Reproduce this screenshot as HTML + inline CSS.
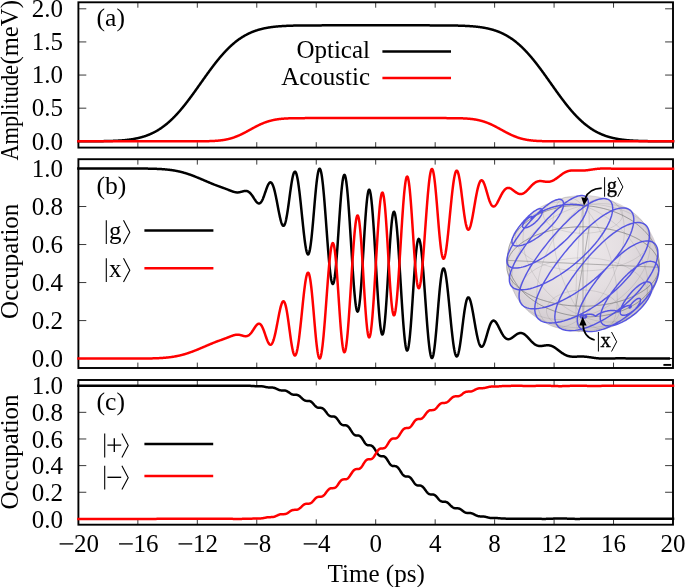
<!DOCTYPE html>
<html><head><meta charset="utf-8"><title>fig</title>
<style>html,body{margin:0;padding:0;background:#fff;}svg{display:block;will-change:transform;}text{fill:#000;}</style></head>
<body>
<svg width="685" height="587" viewBox="0 0 685 587">
<path d="M137.86,147.6 v-5.4 M137.86,2.3 v5.4" stroke="#3a3a3a" stroke-width="1"/>
<path d="M197.32,147.6 v-5.4 M197.32,2.3 v5.4" stroke="#3a3a3a" stroke-width="1"/>
<path d="M256.78,147.6 v-5.4 M256.78,2.3 v5.4" stroke="#3a3a3a" stroke-width="1"/>
<path d="M316.24,147.6 v-5.4 M316.24,2.3 v5.4" stroke="#3a3a3a" stroke-width="1"/>
<path d="M375.70,147.6 v-5.4 M375.70,2.3 v5.4" stroke="#3a3a3a" stroke-width="1"/>
<path d="M435.16,147.6 v-5.4 M435.16,2.3 v5.4" stroke="#3a3a3a" stroke-width="1"/>
<path d="M494.62,147.6 v-5.4 M494.62,2.3 v5.4" stroke="#3a3a3a" stroke-width="1"/>
<path d="M554.08,147.6 v-5.4 M554.08,2.3 v5.4" stroke="#3a3a3a" stroke-width="1"/>
<path d="M613.54,147.6 v-5.4 M613.54,2.3 v5.4" stroke="#3a3a3a" stroke-width="1"/>
<path d="M78.4,141.30 h7.9 M673.0,141.30 h-7.9" stroke="#3a3a3a" stroke-width="1"/>
<path d="M78.4,108.18 h7.9 M673.0,108.18 h-7.9" stroke="#3a3a3a" stroke-width="1"/>
<path d="M78.4,75.05 h7.9 M673.0,75.05 h-7.9" stroke="#3a3a3a" stroke-width="1"/>
<path d="M78.4,41.93 h7.9 M673.0,41.93 h-7.9" stroke="#3a3a3a" stroke-width="1"/>
<path d="M78.4,8.80 h7.9 M673.0,8.80 h-7.9" stroke="#3a3a3a" stroke-width="1"/>
<rect x="78.4" y="2.3" width="594.6" height="145.30" fill="none" stroke="#000" stroke-width="1.9"/>
<clipPath id="ca"><rect x="76.4" y="2.3" width="598.6" height="145.29999999999998"/></clipPath>
<g clip-path="url(#ca)" fill="none" stroke-width="2.5" stroke-linejoin="round" stroke-linecap="square">
<path d="M78.40,141.29 L78.73,141.29 L79.06,141.29 L79.39,141.29 L79.72,141.29 L80.05,141.29 L80.38,141.29 L80.71,141.29 L81.04,141.29 L81.37,141.28 L81.70,141.28 L82.03,141.28 L82.36,141.28 L82.69,141.28 L83.02,141.28 L83.35,141.28 L83.69,141.28 L84.02,141.28 L84.35,141.28 L84.68,141.28 L85.01,141.28 L85.34,141.28 L85.67,141.27 L86.00,141.27 L86.33,141.27 L86.66,141.27 L86.99,141.27 L87.32,141.27 L87.65,141.27 L87.98,141.27 L88.31,141.27 L88.64,141.26 L88.97,141.26 L89.30,141.26 L89.63,141.26 L89.96,141.26 L90.29,141.26 L90.62,141.26 L90.95,141.25 L91.28,141.25 L91.61,141.25 L91.94,141.25 L92.27,141.25 L92.60,141.24 L92.93,141.24 L93.27,141.24 L93.60,141.24 L93.93,141.24 L94.26,141.23 L94.59,141.23 L94.92,141.23 L95.25,141.23 L95.58,141.22 L95.91,141.22 L96.24,141.22 L96.57,141.21 L96.90,141.21 L97.23,141.21 L97.56,141.21 L97.89,141.20 L98.22,141.20 L98.55,141.20 L98.88,141.19 L99.21,141.19 L99.54,141.18 L99.87,141.18 L100.20,141.18 L100.53,141.17 L100.86,141.17 L101.19,141.16 L101.52,141.16 L101.85,141.15 L102.18,141.15 L102.51,141.14 L102.84,141.14 L103.18,141.13 L103.51,141.13 L103.84,141.12 L104.17,141.11 L104.50,141.11 L104.83,141.10 L105.16,141.10 L105.49,141.09 L105.82,141.08 L106.15,141.08 L106.48,141.07 L106.81,141.06 L107.14,141.05 L107.47,141.04 L107.80,141.04 L108.13,141.03 L108.46,141.02 L108.79,141.01 L109.12,141.00 L109.45,140.99 L109.78,140.98 L110.11,140.97 L110.44,140.96 L110.77,140.95 L111.10,140.94 L111.43,140.93 L111.76,140.92 L112.09,140.91 L112.42,140.89 L112.75,140.88 L113.08,140.87 L113.42,140.85 L113.75,140.84 L114.08,140.83 L114.41,140.81 L114.74,140.80 L115.07,140.78 L115.40,140.77 L115.73,140.75 L116.06,140.74 L116.39,140.72 L116.72,140.70 L117.05,140.68 L117.38,140.67 L117.71,140.65 L118.04,140.63 L118.37,140.61 L118.70,140.59 L119.03,140.57 L119.36,140.55 L119.69,140.52 L120.02,140.50 L120.35,140.48 L120.68,140.46 L121.01,140.43 L121.34,140.41 L121.67,140.38 L122.00,140.36 L122.33,140.33 L122.66,140.30 L123.00,140.28 L123.33,140.25 L123.66,140.22 L123.99,140.19 L124.32,140.16 L124.65,140.13 L124.98,140.10 L125.31,140.06 L125.64,140.03 L125.97,140.00 L126.30,139.96 L126.63,139.92 L126.96,139.89 L127.29,139.85 L127.62,139.81 L127.95,139.77 L128.28,139.73 L128.61,139.69 L128.94,139.65 L129.27,139.61 L129.60,139.56 L129.93,139.52 L130.26,139.47 L130.59,139.43 L130.92,139.38 L131.25,139.33 L131.58,139.28 L131.91,139.23 L132.24,139.18 L132.57,139.12 L132.91,139.07 L133.24,139.01 L133.57,138.96 L133.90,138.90 L134.23,138.84 L134.56,138.78 L134.89,138.72 L135.22,138.66 L135.55,138.59 L135.88,138.53 L136.21,138.46 L136.54,138.39 L136.87,138.32 L137.20,138.25 L137.53,138.18 L137.86,138.11 L138.19,138.03 L138.52,137.96 L138.85,137.88 L139.18,137.80 L139.51,137.72 L139.84,137.63 L140.17,137.55 L140.50,137.47 L140.83,137.38 L141.16,137.29 L141.49,137.20 L141.82,137.11 L142.15,137.01 L142.48,136.92 L142.81,136.82 L143.15,136.72 L143.48,136.62 L143.81,136.52 L144.14,136.41 L144.47,136.31 L144.80,136.20 L145.13,136.09 L145.46,135.98 L145.79,135.86 L146.12,135.75 L146.45,135.63 L146.78,135.51 L147.11,135.39 L147.44,135.26 L147.77,135.14 L148.10,135.01 L148.43,134.88 L148.76,134.75 L149.09,134.62 L149.42,134.48 L149.75,134.34 L150.08,134.20 L150.41,134.06 L150.74,133.91 L151.07,133.76 L151.40,133.62 L151.73,133.46 L152.06,133.31 L152.39,133.15 L152.73,132.99 L153.06,132.83 L153.39,132.67 L153.72,132.50 L154.05,132.33 L154.38,132.16 L154.71,131.99 L155.04,131.81 L155.37,131.64 L155.70,131.45 L156.03,131.27 L156.36,131.09 L156.69,130.90 L157.02,130.71 L157.35,130.51 L157.68,130.32 L158.01,130.12 L158.34,129.92 L158.67,129.71 L159.00,129.50 L159.33,129.30 L159.66,129.08 L159.99,128.87 L160.32,128.65 L160.65,128.43 L160.98,128.21 L161.31,127.98 L161.64,127.75 L161.97,127.52 L162.30,127.29 L162.64,127.05 L162.97,126.81 L163.30,126.57 L163.63,126.32 L163.96,126.08 L164.29,125.82 L164.62,125.57 L164.95,125.31 L165.28,125.06 L165.61,124.79 L165.94,124.53 L166.27,124.26 L166.60,123.99 L166.93,123.72 L167.26,123.44 L167.59,123.16 L167.92,122.88 L168.25,122.59 L168.58,122.30 L168.91,122.01 L169.24,121.72 L169.57,121.42 L169.90,121.12 L170.23,120.82 L170.56,120.52 L170.89,120.21 L171.22,119.90 L171.55,119.58 L171.88,119.27 L172.21,118.95 L172.55,118.63 L172.88,118.30 L173.21,117.97 L173.54,117.64 L173.87,117.31 L174.20,116.97 L174.53,116.64 L174.86,116.29 L175.19,115.95 L175.52,115.60 L175.85,115.25 L176.18,114.90 L176.51,114.55 L176.84,114.19 L177.17,113.83 L177.50,113.47 L177.83,113.10 L178.16,112.73 L178.49,112.36 L178.82,111.99 L179.15,111.61 L179.48,111.24 L179.81,110.85 L180.14,110.47 L180.47,110.09 L180.80,109.70 L181.13,109.31 L181.46,108.92 L181.79,108.52 L182.12,108.12 L182.45,107.72 L182.79,107.32 L183.12,106.92 L183.45,106.51 L183.78,106.10 L184.11,105.69 L184.44,105.28 L184.77,104.87 L185.10,104.45 L185.43,104.03 L185.76,103.61 L186.09,103.19 L186.42,102.76 L186.75,102.34 L187.08,101.91 L187.41,101.48 L187.74,101.05 L188.07,100.61 L188.40,100.18 L188.73,99.74 L189.06,99.30 L189.39,98.87 L189.72,98.42 L190.05,97.98 L190.38,97.54 L190.71,97.09 L191.04,96.64 L191.37,96.20 L191.70,95.75 L192.03,95.29 L192.37,94.84 L192.70,94.39 L193.03,93.94 L193.36,93.48 L193.69,93.02 L194.02,92.57 L194.35,92.11 L194.68,91.65 L195.01,91.19 L195.34,90.73 L195.67,90.27 L196.00,89.80 L196.33,89.34 L196.66,88.88 L196.99,88.41 L197.32,87.95 L197.65,87.48 L197.98,87.02 L198.31,86.55 L198.64,86.09 L198.97,85.62 L199.30,85.15 L199.63,84.69 L199.96,84.22 L200.29,83.75 L200.62,83.28 L200.95,82.82 L201.28,82.35 L201.61,81.88 L201.94,81.42 L202.28,80.95 L202.61,80.48 L202.94,80.02 L203.27,79.55 L203.60,79.09 L203.93,78.62 L204.26,78.16 L204.59,77.69 L204.92,77.23 L205.25,76.77 L205.58,76.30 L205.91,75.84 L206.24,75.38 L206.57,74.92 L206.90,74.46 L207.23,74.00 L207.56,73.55 L207.89,73.09 L208.22,72.64 L208.55,72.18 L208.88,71.73 L209.21,71.28 L209.54,70.83 L209.87,70.38 L210.20,69.93 L210.53,69.48 L210.86,69.04 L211.19,68.59 L211.52,68.15 L211.85,67.71 L212.19,67.27 L212.52,66.83 L212.85,66.40 L213.18,65.96 L213.51,65.53 L213.84,65.10 L214.17,64.67 L214.50,64.24 L214.83,63.81 L215.16,63.39 L215.49,62.97 L215.82,62.55 L216.15,62.13 L216.48,61.71 L216.81,61.30 L217.14,60.89 L217.47,60.48 L217.80,60.07 L218.13,59.66 L218.46,59.26 L218.79,58.86 L219.12,58.46 L219.45,58.06 L219.78,57.67 L220.11,57.28 L220.44,56.89 L220.77,56.50 L221.10,56.11 L221.43,55.73 L221.76,55.35 L222.10,54.97 L222.43,54.60 L222.76,54.23 L223.09,53.86 L223.42,53.49 L223.75,53.12 L224.08,52.76 L224.41,52.40 L224.74,52.04 L225.07,51.69 L225.40,51.34 L225.73,50.99 L226.06,50.64 L226.39,50.30 L226.72,49.96 L227.05,49.62 L227.38,49.28 L227.71,48.95 L228.04,48.62 L228.37,48.30 L228.70,47.97 L229.03,47.65 L229.36,47.33 L229.69,47.01 L230.02,46.70 L230.35,46.39 L230.68,46.08 L231.01,45.78 L231.34,45.48 L231.67,45.18 L232.01,44.88 L232.34,44.59 L232.67,44.30 L233.00,44.01 L233.33,43.73 L233.66,43.45 L233.99,43.17 L234.32,42.89 L234.65,42.62 L234.98,42.35 L235.31,42.08 L235.64,41.82 L235.97,41.56 L236.30,41.30 L236.63,41.04 L236.96,40.79 L237.29,40.54 L237.62,40.29 L237.95,40.04 L238.28,39.80 L238.61,39.56 L238.94,39.33 L239.27,39.09 L239.60,38.86 L239.93,38.64 L240.26,38.41 L240.59,38.19 L240.92,37.97 L241.25,37.75 L241.58,37.54 L241.92,37.32 L242.25,37.12 L242.58,36.91 L242.91,36.71 L243.24,36.51 L243.57,36.31 L243.90,36.11 L244.23,35.92 L244.56,35.73 L244.89,35.54 L245.22,35.35 L245.55,35.17 L245.88,34.99 L246.21,34.81 L246.54,34.64 L246.87,34.46 L247.20,34.29 L247.53,34.13 L247.86,33.96 L248.19,33.80 L248.52,33.64 L248.85,33.48 L249.18,33.32 L249.51,33.17 L249.84,33.02 L250.17,32.87 L250.50,32.72 L250.83,32.58 L251.16,32.43 L251.49,32.29 L251.83,32.16 L252.16,32.02 L252.49,31.89 L252.82,31.75 L253.15,31.63 L253.48,31.50 L253.81,31.37 L254.14,31.25 L254.47,31.13 L254.80,31.01 L255.13,30.89 L255.46,30.78 L255.79,30.66 L256.12,30.55 L256.45,30.44 L256.78,30.33 L257.11,30.23 L257.44,30.12 L257.77,30.02 L258.10,29.92 L258.43,29.82 L258.76,29.73 L259.09,29.63 L259.42,29.54 L259.75,29.45 L260.08,29.36 L260.41,29.27 L260.74,29.18 L261.07,29.09 L261.40,29.01 L261.74,28.93 L262.07,28.85 L262.40,28.77 L262.73,28.69 L263.06,28.62 L263.39,28.54 L263.72,28.47 L264.05,28.40 L264.38,28.33 L264.71,28.26 L265.04,28.19 L265.37,28.12 L265.70,28.06 L266.03,27.99 L266.36,27.93 L266.69,27.87 L267.02,27.81 L267.35,27.75 L267.68,27.69 L268.01,27.64 L268.34,27.58 L268.67,27.53 L269.00,27.48 L269.33,27.42 L269.66,27.37 L269.99,27.32 L270.32,27.27 L270.65,27.23 L270.98,27.18 L271.31,27.13 L271.64,27.09 L271.98,27.05 L272.31,27.00 L272.64,26.96 L272.97,26.92 L273.30,26.88 L273.63,26.84 L273.96,26.80 L274.29,26.77 L274.62,26.73 L274.95,26.69 L275.28,26.66 L275.61,26.63 L275.94,26.59 L276.27,26.56 L276.60,26.53 L276.93,26.50 L277.26,26.47 L277.59,26.44 L277.92,26.41 L278.25,26.38 L278.58,26.35 L278.91,26.33 L279.24,26.30 L279.57,26.27 L279.90,26.25 L280.23,26.22 L280.56,26.20 L280.89,26.18 L281.22,26.16 L281.56,26.13 L281.89,26.11 L282.22,26.09 L282.55,26.07 L282.88,26.05 L283.21,26.03 L283.54,26.01 L283.87,25.99 L284.20,25.98 L284.53,25.96 L284.86,25.94 L285.19,25.92 L285.52,25.91 L285.85,25.89 L286.18,25.88 L286.51,25.86 L286.84,25.85 L287.17,25.83 L287.50,25.82 L287.83,25.81 L288.16,25.79 L288.49,25.78 L288.82,25.77 L289.15,25.75 L289.48,25.74 L289.81,25.73 L290.14,25.72 L290.47,25.71 L290.80,25.70 L291.13,25.69 L291.47,25.68 L291.80,25.67 L292.13,25.66 L292.46,25.65 L292.79,25.64 L293.12,25.63 L293.45,25.62 L293.78,25.62 L294.11,25.61 L294.44,25.60 L294.77,25.59 L295.10,25.59 L295.43,25.58 L295.76,25.57 L296.09,25.57 L296.42,25.56 L296.75,25.55 L297.08,25.55 L297.41,25.54 L297.74,25.53 L298.07,25.53 L298.40,25.52 L298.73,25.52 L299.06,25.51 L299.39,25.51 L299.72,25.50 L300.05,25.50 L300.38,25.49 L300.71,25.49 L301.04,25.49 L301.38,25.48 L301.71,25.48 L302.04,25.47 L302.37,25.47 L302.70,25.47 L303.03,25.46 L303.36,25.46 L303.69,25.46 L304.02,25.45 L304.35,25.45 L304.68,25.45 L305.01,25.44 L305.34,25.44 L305.67,25.44 L306.00,25.44 L306.33,25.43 L306.66,25.43 L306.99,25.43 L307.32,25.43 L307.65,25.42 L307.98,25.42 L308.31,25.42 L308.64,25.42 L308.97,25.42 L309.30,25.41 L309.63,25.41 L309.96,25.41 L310.29,25.41 L310.62,25.41 L310.95,25.41 L311.29,25.40 L311.62,25.40 L311.95,25.40 L312.28,25.40 L312.61,25.40 L312.94,25.40 L313.27,25.40 L313.60,25.39 L313.93,25.39 L314.26,25.39 L314.59,25.39 L314.92,25.39 L315.25,25.39 L315.58,25.39 L315.91,25.39 L316.24,25.39 L316.57,25.39 L316.90,25.38 L317.23,25.38 L317.56,25.38 L317.89,25.38 L318.22,25.38 L318.55,25.38 L318.88,25.38 L319.21,25.38 L319.54,25.38 L319.87,25.38 L320.20,25.38 L320.53,25.38 L320.86,25.38 L321.20,25.38 L321.53,25.38 L321.86,25.37 L322.19,25.37 L322.52,25.37 L322.85,25.37 L323.18,25.37 L323.51,25.37 L323.84,25.37 L324.17,25.37 L324.50,25.37 L324.83,25.37 L325.16,25.37 L325.49,25.37 L325.82,25.37 L326.15,25.37 L326.48,25.37 L326.81,25.37 L327.14,25.37 L327.47,25.37 L327.80,25.37 L328.13,25.37 L328.46,25.37 L328.79,25.37 L329.12,25.37 L329.45,25.37 L329.78,25.37 L330.11,25.37 L330.44,25.37 L330.77,25.37 L331.11,25.37 L331.44,25.37 L331.77,25.37 L332.10,25.37 L332.43,25.37 L332.76,25.37 L333.09,25.37 L333.42,25.37 L333.75,25.37 L334.08,25.37 L334.41,25.36 L334.74,25.36 L335.07,25.36 L335.40,25.36 L335.73,25.36 L336.06,25.36 L336.39,25.36 L336.72,25.36 L337.05,25.36 L337.38,25.36 L337.71,25.36 L338.04,25.36 L338.37,25.36 L338.70,25.36 L339.03,25.36 L339.36,25.36 L339.69,25.36 L340.02,25.36 L340.35,25.36 L340.68,25.36 L341.01,25.36 L341.35,25.36 L341.68,25.36 L342.01,25.36 L342.34,25.36 L342.67,25.36 L343.00,25.36 L343.33,25.36 L343.66,25.36 L343.99,25.36 L344.32,25.36 L344.65,25.36 L344.98,25.36 L345.31,25.36 L345.64,25.36 L345.97,25.36 L346.30,25.36 L346.63,25.36 L346.96,25.36 L347.29,25.36 L347.62,25.36 L347.95,25.36 L348.28,25.36 L348.61,25.36 L348.94,25.36 L349.27,25.36 L349.60,25.36 L349.93,25.36 L350.26,25.36 L350.59,25.36 L350.93,25.36 L351.26,25.36 L351.59,25.36 L351.92,25.36 L352.25,25.36 L352.58,25.36 L352.91,25.36 L353.24,25.36 L353.57,25.36 L353.90,25.36 L354.23,25.36 L354.56,25.36 L354.89,25.36 L355.22,25.36 L355.55,25.36 L355.88,25.36 L356.21,25.36 L356.54,25.36 L356.87,25.36 L357.20,25.36 L357.53,25.36 L357.86,25.36 L358.19,25.36 L358.52,25.36 L358.85,25.36 L359.18,25.36 L359.51,25.36 L359.84,25.36 L360.17,25.36 L360.50,25.36 L360.84,25.36 L361.17,25.36 L361.50,25.36 L361.83,25.36 L362.16,25.36 L362.49,25.36 L362.82,25.36 L363.15,25.36 L363.48,25.36 L363.81,25.36 L364.14,25.36 L364.47,25.36 L364.80,25.36 L365.13,25.36 L365.46,25.36 L365.79,25.36 L366.12,25.36 L366.45,25.36 L366.78,25.36 L367.11,25.36 L367.44,25.36 L367.77,25.36 L368.10,25.36 L368.43,25.36 L368.76,25.36 L369.09,25.36 L369.42,25.36 L369.75,25.36 L370.08,25.36 L370.41,25.36 L370.75,25.36 L371.08,25.36 L371.41,25.36 L371.74,25.36 L372.07,25.36 L372.40,25.36 L372.73,25.36 L373.06,25.36 L373.39,25.36 L373.72,25.36 L374.05,25.36 L374.38,25.36 L374.71,25.36 L375.04,25.36 L375.37,25.36 L375.70,25.36 L376.03,25.36 L376.36,25.36 L376.69,25.36 L377.02,25.36 L377.35,25.36 L377.68,25.36 L378.01,25.36 L378.34,25.36 L378.67,25.36 L379.00,25.36 L379.33,25.36 L379.66,25.36 L379.99,25.36 L380.32,25.36 L380.66,25.36 L380.99,25.36 L381.32,25.36 L381.65,25.36 L381.98,25.36 L382.31,25.36 L382.64,25.36 L382.97,25.36 L383.30,25.36 L383.63,25.36 L383.96,25.36 L384.29,25.36 L384.62,25.36 L384.95,25.36 L385.28,25.36 L385.61,25.36 L385.94,25.36 L386.27,25.36 L386.60,25.36 L386.93,25.36 L387.26,25.36 L387.59,25.36 L387.92,25.36 L388.25,25.36 L388.58,25.36 L388.91,25.36 L389.24,25.36 L389.57,25.36 L389.90,25.36 L390.23,25.36 L390.57,25.36 L390.90,25.36 L391.23,25.36 L391.56,25.36 L391.89,25.36 L392.22,25.36 L392.55,25.36 L392.88,25.36 L393.21,25.36 L393.54,25.36 L393.87,25.36 L394.20,25.36 L394.53,25.36 L394.86,25.36 L395.19,25.36 L395.52,25.36 L395.85,25.36 L396.18,25.36 L396.51,25.36 L396.84,25.36 L397.17,25.36 L397.50,25.36 L397.83,25.36 L398.16,25.36 L398.49,25.36 L398.82,25.36 L399.15,25.36 L399.48,25.36 L399.81,25.36 L400.14,25.36 L400.48,25.36 L400.81,25.36 L401.14,25.36 L401.47,25.36 L401.80,25.36 L402.13,25.36 L402.46,25.36 L402.79,25.36 L403.12,25.36 L403.45,25.36 L403.78,25.36 L404.11,25.36 L404.44,25.36 L404.77,25.36 L405.10,25.36 L405.43,25.36 L405.76,25.36 L406.09,25.36 L406.42,25.36 L406.75,25.36 L407.08,25.36 L407.41,25.36 L407.74,25.36 L408.07,25.36 L408.40,25.36 L408.73,25.36 L409.06,25.36 L409.39,25.36 L409.72,25.36 L410.05,25.36 L410.38,25.36 L410.72,25.36 L411.05,25.36 L411.38,25.36 L411.71,25.36 L412.04,25.36 L412.37,25.36 L412.70,25.36 L413.03,25.36 L413.36,25.36 L413.69,25.36 L414.02,25.36 L414.35,25.36 L414.68,25.36 L415.01,25.36 L415.34,25.36 L415.67,25.36 L416.00,25.36 L416.33,25.36 L416.66,25.36 L416.99,25.36 L417.32,25.37 L417.65,25.37 L417.98,25.37 L418.31,25.37 L418.64,25.37 L418.97,25.37 L419.30,25.37 L419.63,25.37 L419.96,25.37 L420.29,25.37 L420.63,25.37 L420.96,25.37 L421.29,25.37 L421.62,25.37 L421.95,25.37 L422.28,25.37 L422.61,25.37 L422.94,25.37 L423.27,25.37 L423.60,25.37 L423.93,25.37 L424.26,25.37 L424.59,25.37 L424.92,25.37 L425.25,25.37 L425.58,25.37 L425.91,25.37 L426.24,25.37 L426.57,25.37 L426.90,25.37 L427.23,25.37 L427.56,25.37 L427.89,25.37 L428.22,25.37 L428.55,25.37 L428.88,25.37 L429.21,25.37 L429.54,25.37 L429.87,25.38 L430.21,25.38 L430.54,25.38 L430.87,25.38 L431.20,25.38 L431.53,25.38 L431.86,25.38 L432.19,25.38 L432.52,25.38 L432.85,25.38 L433.18,25.38 L433.51,25.38 L433.84,25.38 L434.17,25.38 L434.50,25.38 L434.83,25.39 L435.16,25.39 L435.49,25.39 L435.82,25.39 L436.15,25.39 L436.48,25.39 L436.81,25.39 L437.14,25.39 L437.47,25.39 L437.80,25.39 L438.13,25.40 L438.46,25.40 L438.79,25.40 L439.12,25.40 L439.45,25.40 L439.78,25.40 L440.12,25.40 L440.45,25.41 L440.78,25.41 L441.11,25.41 L441.44,25.41 L441.77,25.41 L442.10,25.41 L442.43,25.42 L442.76,25.42 L443.09,25.42 L443.42,25.42 L443.75,25.42 L444.08,25.43 L444.41,25.43 L444.74,25.43 L445.07,25.43 L445.40,25.44 L445.73,25.44 L446.06,25.44 L446.39,25.44 L446.72,25.45 L447.05,25.45 L447.38,25.45 L447.71,25.46 L448.04,25.46 L448.37,25.46 L448.70,25.47 L449.03,25.47 L449.36,25.47 L449.69,25.48 L450.02,25.48 L450.36,25.49 L450.69,25.49 L451.02,25.49 L451.35,25.50 L451.68,25.50 L452.01,25.51 L452.34,25.51 L452.67,25.52 L453.00,25.52 L453.33,25.53 L453.66,25.53 L453.99,25.54 L454.32,25.55 L454.65,25.55 L454.98,25.56 L455.31,25.57 L455.64,25.57 L455.97,25.58 L456.30,25.59 L456.63,25.59 L456.96,25.60 L457.29,25.61 L457.62,25.62 L457.95,25.62 L458.28,25.63 L458.61,25.64 L458.94,25.65 L459.27,25.66 L459.60,25.67 L459.94,25.68 L460.27,25.69 L460.60,25.70 L460.93,25.71 L461.26,25.72 L461.59,25.73 L461.92,25.74 L462.25,25.75 L462.58,25.77 L462.91,25.78 L463.24,25.79 L463.57,25.81 L463.90,25.82 L464.23,25.83 L464.56,25.85 L464.89,25.86 L465.22,25.88 L465.55,25.89 L465.88,25.91 L466.21,25.92 L466.54,25.94 L466.87,25.96 L467.20,25.98 L467.53,25.99 L467.86,26.01 L468.19,26.03 L468.52,26.05 L468.85,26.07 L469.18,26.09 L469.51,26.11 L469.85,26.13 L470.18,26.16 L470.51,26.18 L470.84,26.20 L471.17,26.22 L471.50,26.25 L471.83,26.27 L472.16,26.30 L472.49,26.33 L472.82,26.35 L473.15,26.38 L473.48,26.41 L473.81,26.44 L474.14,26.47 L474.47,26.50 L474.80,26.53 L475.13,26.56 L475.46,26.59 L475.79,26.63 L476.12,26.66 L476.45,26.69 L476.78,26.73 L477.11,26.77 L477.44,26.80 L477.77,26.84 L478.10,26.88 L478.43,26.92 L478.76,26.96 L479.09,27.00 L479.42,27.05 L479.75,27.09 L480.09,27.13 L480.42,27.18 L480.75,27.23 L481.08,27.27 L481.41,27.32 L481.74,27.37 L482.07,27.42 L482.40,27.48 L482.73,27.53 L483.06,27.58 L483.39,27.64 L483.72,27.69 L484.05,27.75 L484.38,27.81 L484.71,27.87 L485.04,27.93 L485.37,27.99 L485.70,28.06 L486.03,28.12 L486.36,28.19 L486.69,28.26 L487.02,28.33 L487.35,28.40 L487.68,28.47 L488.01,28.54 L488.34,28.62 L488.67,28.69 L489.00,28.77 L489.33,28.85 L489.66,28.93 L490.00,29.01 L490.33,29.09 L490.66,29.18 L490.99,29.27 L491.32,29.36 L491.65,29.45 L491.98,29.54 L492.31,29.63 L492.64,29.73 L492.97,29.82 L493.30,29.92 L493.63,30.02 L493.96,30.12 L494.29,30.23 L494.62,30.33 L494.95,30.44 L495.28,30.55 L495.61,30.66 L495.94,30.78 L496.27,30.89 L496.60,31.01 L496.93,31.13 L497.26,31.25 L497.59,31.37 L497.92,31.50 L498.25,31.63 L498.58,31.75 L498.91,31.89 L499.24,32.02 L499.58,32.16 L499.91,32.29 L500.24,32.43 L500.57,32.58 L500.90,32.72 L501.23,32.87 L501.56,33.02 L501.89,33.17 L502.22,33.32 L502.55,33.48 L502.88,33.64 L503.21,33.80 L503.54,33.96 L503.87,34.13 L504.20,34.29 L504.53,34.46 L504.86,34.64 L505.19,34.81 L505.52,34.99 L505.85,35.17 L506.18,35.35 L506.51,35.54 L506.84,35.73 L507.17,35.92 L507.50,36.11 L507.83,36.31 L508.16,36.51 L508.49,36.71 L508.82,36.91 L509.15,37.12 L509.49,37.32 L509.82,37.54 L510.15,37.75 L510.48,37.97 L510.81,38.19 L511.14,38.41 L511.47,38.64 L511.80,38.86 L512.13,39.09 L512.46,39.33 L512.79,39.56 L513.12,39.80 L513.45,40.04 L513.78,40.29 L514.11,40.54 L514.44,40.79 L514.77,41.04 L515.10,41.30 L515.43,41.56 L515.76,41.82 L516.09,42.08 L516.42,42.35 L516.75,42.62 L517.08,42.89 L517.41,43.17 L517.74,43.45 L518.07,43.73 L518.40,44.01 L518.73,44.30 L519.06,44.59 L519.40,44.88 L519.73,45.18 L520.06,45.48 L520.39,45.78 L520.72,46.08 L521.05,46.39 L521.38,46.70 L521.71,47.01 L522.04,47.33 L522.37,47.65 L522.70,47.97 L523.03,48.30 L523.36,48.62 L523.69,48.95 L524.02,49.28 L524.35,49.62 L524.68,49.96 L525.01,50.30 L525.34,50.64 L525.67,50.99 L526.00,51.34 L526.33,51.69 L526.66,52.04 L526.99,52.40 L527.32,52.76 L527.65,53.12 L527.98,53.49 L528.31,53.86 L528.64,54.23 L528.97,54.60 L529.31,54.97 L529.64,55.35 L529.97,55.73 L530.30,56.11 L530.63,56.50 L530.96,56.89 L531.29,57.28 L531.62,57.67 L531.95,58.06 L532.28,58.46 L532.61,58.86 L532.94,59.26 L533.27,59.66 L533.60,60.07 L533.93,60.48 L534.26,60.89 L534.59,61.30 L534.92,61.71 L535.25,62.13 L535.58,62.55 L535.91,62.97 L536.24,63.39 L536.57,63.81 L536.90,64.24 L537.23,64.67 L537.56,65.10 L537.89,65.53 L538.22,65.96 L538.55,66.40 L538.88,66.83 L539.22,67.27 L539.55,67.71 L539.88,68.15 L540.21,68.59 L540.54,69.04 L540.87,69.48 L541.20,69.93 L541.53,70.38 L541.86,70.83 L542.19,71.28 L542.52,71.73 L542.85,72.18 L543.18,72.64 L543.51,73.09 L543.84,73.55 L544.17,74.00 L544.50,74.46 L544.83,74.92 L545.16,75.38 L545.49,75.84 L545.82,76.30 L546.15,76.77 L546.48,77.23 L546.81,77.69 L547.14,78.16 L547.47,78.62 L547.80,79.09 L548.13,79.55 L548.46,80.02 L548.79,80.48 L549.13,80.95 L549.46,81.42 L549.79,81.88 L550.12,82.35 L550.45,82.82 L550.78,83.28 L551.11,83.75 L551.44,84.22 L551.77,84.69 L552.10,85.15 L552.43,85.62 L552.76,86.09 L553.09,86.55 L553.42,87.02 L553.75,87.48 L554.08,87.95 L554.41,88.41 L554.74,88.88 L555.07,89.34 L555.40,89.80 L555.73,90.27 L556.06,90.73 L556.39,91.19 L556.72,91.65 L557.05,92.11 L557.38,92.57 L557.71,93.02 L558.04,93.48 L558.37,93.94 L558.70,94.39 L559.04,94.84 L559.37,95.29 L559.70,95.75 L560.03,96.20 L560.36,96.64 L560.69,97.09 L561.02,97.54 L561.35,97.98 L561.68,98.42 L562.01,98.87 L562.34,99.30 L562.67,99.74 L563.00,100.18 L563.33,100.61 L563.66,101.05 L563.99,101.48 L564.32,101.91 L564.65,102.34 L564.98,102.76 L565.31,103.19 L565.64,103.61 L565.97,104.03 L566.30,104.45 L566.63,104.87 L566.96,105.28 L567.29,105.69 L567.62,106.10 L567.95,106.51 L568.28,106.92 L568.61,107.32 L568.95,107.72 L569.28,108.12 L569.61,108.52 L569.94,108.92 L570.27,109.31 L570.60,109.70 L570.93,110.09 L571.26,110.47 L571.59,110.85 L571.92,111.24 L572.25,111.61 L572.58,111.99 L572.91,112.36 L573.24,112.73 L573.57,113.10 L573.90,113.47 L574.23,113.83 L574.56,114.19 L574.89,114.55 L575.22,114.90 L575.55,115.25 L575.88,115.60 L576.21,115.95 L576.54,116.29 L576.87,116.64 L577.20,116.97 L577.53,117.31 L577.86,117.64 L578.19,117.97 L578.52,118.30 L578.86,118.63 L579.19,118.95 L579.52,119.27 L579.85,119.58 L580.18,119.90 L580.51,120.21 L580.84,120.52 L581.17,120.82 L581.50,121.12 L581.83,121.42 L582.16,121.72 L582.49,122.01 L582.82,122.30 L583.15,122.59 L583.48,122.88 L583.81,123.16 L584.14,123.44 L584.47,123.72 L584.80,123.99 L585.13,124.26 L585.46,124.53 L585.79,124.79 L586.12,125.06 L586.45,125.31 L586.78,125.57 L587.11,125.82 L587.44,126.08 L587.77,126.32 L588.10,126.57 L588.43,126.81 L588.77,127.05 L589.10,127.29 L589.43,127.52 L589.76,127.75 L590.09,127.98 L590.42,128.21 L590.75,128.43 L591.08,128.65 L591.41,128.87 L591.74,129.08 L592.07,129.30 L592.40,129.50 L592.73,129.71 L593.06,129.92 L593.39,130.12 L593.72,130.32 L594.05,130.51 L594.38,130.71 L594.71,130.90 L595.04,131.09 L595.37,131.27 L595.70,131.45 L596.03,131.64 L596.36,131.81 L596.69,131.99 L597.02,132.16 L597.35,132.33 L597.68,132.50 L598.01,132.67 L598.34,132.83 L598.67,132.99 L599.01,133.15 L599.34,133.31 L599.67,133.46 L600.00,133.62 L600.33,133.76 L600.66,133.91 L600.99,134.06 L601.32,134.20 L601.65,134.34 L601.98,134.48 L602.31,134.62 L602.64,134.75 L602.97,134.88 L603.30,135.01 L603.63,135.14 L603.96,135.26 L604.29,135.39 L604.62,135.51 L604.95,135.63 L605.28,135.75 L605.61,135.86 L605.94,135.98 L606.27,136.09 L606.60,136.20 L606.93,136.31 L607.26,136.41 L607.59,136.52 L607.92,136.62 L608.25,136.72 L608.59,136.82 L608.92,136.92 L609.25,137.01 L609.58,137.11 L609.91,137.20 L610.24,137.29 L610.57,137.38 L610.90,137.47 L611.23,137.55 L611.56,137.63 L611.89,137.72 L612.22,137.80 L612.55,137.88 L612.88,137.96 L613.21,138.03 L613.54,138.11 L613.87,138.18 L614.20,138.25 L614.53,138.32 L614.86,138.39 L615.19,138.46 L615.52,138.53 L615.85,138.59 L616.18,138.66 L616.51,138.72 L616.84,138.78 L617.17,138.84 L617.50,138.90 L617.83,138.96 L618.16,139.01 L618.50,139.07 L618.83,139.12 L619.16,139.18 L619.49,139.23 L619.82,139.28 L620.15,139.33 L620.48,139.38 L620.81,139.43 L621.14,139.47 L621.47,139.52 L621.80,139.56 L622.13,139.61 L622.46,139.65 L622.79,139.69 L623.12,139.73 L623.45,139.77 L623.78,139.81 L624.11,139.85 L624.44,139.89 L624.77,139.92 L625.10,139.96 L625.43,140.00 L625.76,140.03 L626.09,140.06 L626.42,140.10 L626.75,140.13 L627.08,140.16 L627.41,140.19 L627.74,140.22 L628.07,140.25 L628.40,140.28 L628.74,140.30 L629.07,140.33 L629.40,140.36 L629.73,140.38 L630.06,140.41 L630.39,140.43 L630.72,140.46 L631.05,140.48 L631.38,140.50 L631.71,140.52 L632.04,140.55 L632.37,140.57 L632.70,140.59 L633.03,140.61 L633.36,140.63 L633.69,140.65 L634.02,140.67 L634.35,140.68 L634.68,140.70 L635.01,140.72 L635.34,140.74 L635.67,140.75 L636.00,140.77 L636.33,140.78 L636.66,140.80 L636.99,140.81 L637.32,140.83 L637.65,140.84 L637.98,140.85 L638.32,140.87 L638.65,140.88 L638.98,140.89 L639.31,140.91 L639.64,140.92 L639.97,140.93 L640.30,140.94 L640.63,140.95 L640.96,140.96 L641.29,140.97 L641.62,140.98 L641.95,140.99 L642.28,141.00 L642.61,141.01 L642.94,141.02 L643.27,141.03 L643.60,141.04 L643.93,141.04 L644.26,141.05 L644.59,141.06 L644.92,141.07 L645.25,141.08 L645.58,141.08 L645.91,141.09 L646.24,141.10 L646.57,141.10 L646.90,141.11 L647.23,141.11 L647.56,141.12 L647.89,141.13 L648.23,141.13 L648.56,141.14 L648.89,141.14 L649.22,141.15 L649.55,141.15 L649.88,141.16 L650.21,141.16 L650.54,141.17 L650.87,141.17 L651.20,141.18 L651.53,141.18 L651.86,141.18 L652.19,141.19 L652.52,141.19 L652.85,141.20 L653.18,141.20 L653.51,141.20 L653.84,141.21 L654.17,141.21 L654.50,141.21 L654.83,141.21 L655.16,141.22 L655.49,141.22 L655.82,141.22 L656.15,141.23 L656.48,141.23 L656.81,141.23 L657.14,141.23 L657.47,141.24 L657.80,141.24 L658.13,141.24 L658.47,141.24 L658.80,141.24 L659.13,141.25 L659.46,141.25 L659.79,141.25 L660.12,141.25 L660.45,141.25 L660.78,141.26 L661.11,141.26 L661.44,141.26 L661.77,141.26 L662.10,141.26 L662.43,141.26 L662.76,141.26 L663.09,141.27 L663.42,141.27 L663.75,141.27 L664.08,141.27 L664.41,141.27 L664.74,141.27 L665.07,141.27 L665.40,141.27 L665.73,141.27 L666.06,141.28 L666.39,141.28 L666.72,141.28 L667.05,141.28 L667.38,141.28 L667.71,141.28 L668.05,141.28 L668.38,141.28 L668.71,141.28 L669.04,141.28 L669.37,141.28 L669.70,141.28 L670.03,141.28 L670.36,141.29 L670.69,141.29 L671.02,141.29 L671.35,141.29 L671.68,141.29 L672.01,141.29 L672.34,141.29 L672.67,141.29 L673.00,141.29" stroke="#000"/>
<path d="M78.40,141.30 L78.73,141.30 L79.06,141.30 L79.39,141.30 L79.72,141.30 L80.05,141.30 L80.38,141.30 L80.71,141.30 L81.04,141.30 L81.37,141.30 L81.70,141.30 L82.03,141.30 L82.36,141.30 L82.69,141.30 L83.02,141.30 L83.35,141.30 L83.69,141.30 L84.02,141.30 L84.35,141.30 L84.68,141.30 L85.01,141.30 L85.34,141.30 L85.67,141.30 L86.00,141.30 L86.33,141.30 L86.66,141.30 L86.99,141.30 L87.32,141.30 L87.65,141.30 L87.98,141.30 L88.31,141.30 L88.64,141.30 L88.97,141.30 L89.30,141.30 L89.63,141.30 L89.96,141.30 L90.29,141.30 L90.62,141.30 L90.95,141.30 L91.28,141.30 L91.61,141.30 L91.94,141.30 L92.27,141.30 L92.60,141.30 L92.93,141.30 L93.27,141.30 L93.60,141.30 L93.93,141.30 L94.26,141.30 L94.59,141.30 L94.92,141.30 L95.25,141.30 L95.58,141.30 L95.91,141.30 L96.24,141.30 L96.57,141.30 L96.90,141.30 L97.23,141.30 L97.56,141.30 L97.89,141.30 L98.22,141.30 L98.55,141.30 L98.88,141.30 L99.21,141.30 L99.54,141.30 L99.87,141.30 L100.20,141.30 L100.53,141.30 L100.86,141.30 L101.19,141.30 L101.52,141.30 L101.85,141.30 L102.18,141.30 L102.51,141.30 L102.84,141.30 L103.18,141.30 L103.51,141.30 L103.84,141.30 L104.17,141.30 L104.50,141.30 L104.83,141.30 L105.16,141.30 L105.49,141.30 L105.82,141.30 L106.15,141.30 L106.48,141.30 L106.81,141.30 L107.14,141.30 L107.47,141.30 L107.80,141.30 L108.13,141.30 L108.46,141.30 L108.79,141.30 L109.12,141.30 L109.45,141.30 L109.78,141.30 L110.11,141.30 L110.44,141.30 L110.77,141.30 L111.10,141.30 L111.43,141.30 L111.76,141.30 L112.09,141.30 L112.42,141.30 L112.75,141.30 L113.08,141.30 L113.42,141.30 L113.75,141.30 L114.08,141.30 L114.41,141.30 L114.74,141.30 L115.07,141.30 L115.40,141.30 L115.73,141.30 L116.06,141.30 L116.39,141.30 L116.72,141.30 L117.05,141.30 L117.38,141.30 L117.71,141.30 L118.04,141.30 L118.37,141.30 L118.70,141.30 L119.03,141.30 L119.36,141.30 L119.69,141.30 L120.02,141.30 L120.35,141.30 L120.68,141.30 L121.01,141.30 L121.34,141.30 L121.67,141.30 L122.00,141.30 L122.33,141.30 L122.66,141.30 L123.00,141.30 L123.33,141.30 L123.66,141.30 L123.99,141.30 L124.32,141.30 L124.65,141.30 L124.98,141.30 L125.31,141.30 L125.64,141.30 L125.97,141.30 L126.30,141.30 L126.63,141.30 L126.96,141.30 L127.29,141.30 L127.62,141.30 L127.95,141.30 L128.28,141.30 L128.61,141.30 L128.94,141.30 L129.27,141.30 L129.60,141.30 L129.93,141.30 L130.26,141.30 L130.59,141.30 L130.92,141.30 L131.25,141.30 L131.58,141.30 L131.91,141.30 L132.24,141.30 L132.57,141.30 L132.91,141.30 L133.24,141.30 L133.57,141.30 L133.90,141.30 L134.23,141.30 L134.56,141.30 L134.89,141.30 L135.22,141.30 L135.55,141.30 L135.88,141.30 L136.21,141.30 L136.54,141.30 L136.87,141.30 L137.20,141.30 L137.53,141.30 L137.86,141.30 L138.19,141.30 L138.52,141.30 L138.85,141.30 L139.18,141.30 L139.51,141.30 L139.84,141.30 L140.17,141.30 L140.50,141.30 L140.83,141.30 L141.16,141.30 L141.49,141.30 L141.82,141.30 L142.15,141.30 L142.48,141.30 L142.81,141.30 L143.15,141.30 L143.48,141.30 L143.81,141.30 L144.14,141.30 L144.47,141.30 L144.80,141.30 L145.13,141.30 L145.46,141.30 L145.79,141.30 L146.12,141.30 L146.45,141.30 L146.78,141.30 L147.11,141.30 L147.44,141.30 L147.77,141.30 L148.10,141.30 L148.43,141.30 L148.76,141.30 L149.09,141.30 L149.42,141.30 L149.75,141.30 L150.08,141.30 L150.41,141.30 L150.74,141.30 L151.07,141.30 L151.40,141.30 L151.73,141.30 L152.06,141.30 L152.39,141.30 L152.73,141.30 L153.06,141.30 L153.39,141.30 L153.72,141.30 L154.05,141.30 L154.38,141.30 L154.71,141.30 L155.04,141.30 L155.37,141.30 L155.70,141.30 L156.03,141.30 L156.36,141.30 L156.69,141.30 L157.02,141.30 L157.35,141.30 L157.68,141.30 L158.01,141.30 L158.34,141.30 L158.67,141.30 L159.00,141.30 L159.33,141.30 L159.66,141.30 L159.99,141.30 L160.32,141.30 L160.65,141.30 L160.98,141.30 L161.31,141.30 L161.64,141.30 L161.97,141.30 L162.30,141.30 L162.64,141.30 L162.97,141.30 L163.30,141.30 L163.63,141.30 L163.96,141.30 L164.29,141.30 L164.62,141.30 L164.95,141.30 L165.28,141.30 L165.61,141.30 L165.94,141.30 L166.27,141.30 L166.60,141.30 L166.93,141.30 L167.26,141.30 L167.59,141.30 L167.92,141.30 L168.25,141.30 L168.58,141.30 L168.91,141.30 L169.24,141.30 L169.57,141.30 L169.90,141.30 L170.23,141.30 L170.56,141.30 L170.89,141.30 L171.22,141.30 L171.55,141.30 L171.88,141.30 L172.21,141.30 L172.55,141.30 L172.88,141.30 L173.21,141.30 L173.54,141.30 L173.87,141.30 L174.20,141.30 L174.53,141.30 L174.86,141.30 L175.19,141.30 L175.52,141.30 L175.85,141.30 L176.18,141.30 L176.51,141.30 L176.84,141.30 L177.17,141.30 L177.50,141.30 L177.83,141.30 L178.16,141.30 L178.49,141.30 L178.82,141.30 L179.15,141.30 L179.48,141.30 L179.81,141.30 L180.14,141.30 L180.47,141.30 L180.80,141.30 L181.13,141.30 L181.46,141.30 L181.79,141.30 L182.12,141.30 L182.45,141.30 L182.79,141.30 L183.12,141.30 L183.45,141.30 L183.78,141.30 L184.11,141.30 L184.44,141.30 L184.77,141.30 L185.10,141.30 L185.43,141.30 L185.76,141.30 L186.09,141.30 L186.42,141.30 L186.75,141.30 L187.08,141.30 L187.41,141.30 L187.74,141.30 L188.07,141.30 L188.40,141.30 L188.73,141.30 L189.06,141.30 L189.39,141.30 L189.72,141.30 L190.05,141.30 L190.38,141.30 L190.71,141.30 L191.04,141.29 L191.37,141.29 L191.70,141.29 L192.03,141.29 L192.37,141.29 L192.70,141.29 L193.03,141.29 L193.36,141.29 L193.69,141.29 L194.02,141.29 L194.35,141.29 L194.68,141.29 L195.01,141.29 L195.34,141.29 L195.67,141.29 L196.00,141.29 L196.33,141.28 L196.66,141.28 L196.99,141.28 L197.32,141.28 L197.65,141.28 L197.98,141.28 L198.31,141.28 L198.64,141.27 L198.97,141.27 L199.30,141.27 L199.63,141.27 L199.96,141.27 L200.29,141.26 L200.62,141.26 L200.95,141.26 L201.28,141.26 L201.61,141.25 L201.94,141.25 L202.28,141.25 L202.61,141.25 L202.94,141.24 L203.27,141.24 L203.60,141.23 L203.93,141.23 L204.26,141.23 L204.59,141.22 L204.92,141.22 L205.25,141.21 L205.58,141.21 L205.91,141.20 L206.24,141.20 L206.57,141.19 L206.90,141.18 L207.23,141.18 L207.56,141.17 L207.89,141.16 L208.22,141.15 L208.55,141.14 L208.88,141.14 L209.21,141.13 L209.54,141.12 L209.87,141.11 L210.20,141.10 L210.53,141.09 L210.86,141.07 L211.19,141.06 L211.52,141.05 L211.85,141.04 L212.19,141.02 L212.52,141.01 L212.85,140.99 L213.18,140.98 L213.51,140.96 L213.84,140.94 L214.17,140.92 L214.50,140.90 L214.83,140.89 L215.16,140.86 L215.49,140.84 L215.82,140.82 L216.15,140.80 L216.48,140.77 L216.81,140.75 L217.14,140.72 L217.47,140.70 L217.80,140.67 L218.13,140.64 L218.46,140.61 L218.79,140.58 L219.12,140.54 L219.45,140.51 L219.78,140.47 L220.11,140.44 L220.44,140.40 L220.77,140.36 L221.10,140.32 L221.43,140.28 L221.76,140.24 L222.10,140.19 L222.43,140.15 L222.76,140.10 L223.09,140.05 L223.42,140.00 L223.75,139.95 L224.08,139.89 L224.41,139.84 L224.74,139.78 L225.07,139.72 L225.40,139.66 L225.73,139.60 L226.06,139.53 L226.39,139.47 L226.72,139.40 L227.05,139.33 L227.38,139.26 L227.71,139.18 L228.04,139.11 L228.37,139.03 L228.70,138.95 L229.03,138.87 L229.36,138.78 L229.69,138.70 L230.02,138.61 L230.35,138.52 L230.68,138.43 L231.01,138.33 L231.34,138.23 L231.67,138.14 L232.01,138.04 L232.34,137.93 L232.67,137.83 L233.00,137.72 L233.33,137.61 L233.66,137.50 L233.99,137.38 L234.32,137.27 L234.65,137.15 L234.98,137.03 L235.31,136.91 L235.64,136.78 L235.97,136.66 L236.30,136.53 L236.63,136.40 L236.96,136.26 L237.29,136.13 L237.62,135.99 L237.95,135.85 L238.28,135.71 L238.61,135.57 L238.94,135.42 L239.27,135.28 L239.60,135.13 L239.93,134.98 L240.26,134.82 L240.59,134.67 L240.92,134.51 L241.25,134.36 L241.58,134.20 L241.92,134.04 L242.25,133.87 L242.58,133.71 L242.91,133.55 L243.24,133.38 L243.57,133.21 L243.90,133.04 L244.23,132.87 L244.56,132.70 L244.89,132.53 L245.22,132.35 L245.55,132.18 L245.88,132.00 L246.21,131.82 L246.54,131.65 L246.87,131.47 L247.20,131.29 L247.53,131.11 L247.86,130.93 L248.19,130.75 L248.52,130.57 L248.85,130.39 L249.18,130.21 L249.51,130.02 L249.84,129.84 L250.17,129.66 L250.50,129.48 L250.83,129.30 L251.16,129.12 L251.49,128.93 L251.83,128.75 L252.16,128.57 L252.49,128.39 L252.82,128.21 L253.15,128.03 L253.48,127.85 L253.81,127.68 L254.14,127.50 L254.47,127.32 L254.80,127.15 L255.13,126.97 L255.46,126.80 L255.79,126.63 L256.12,126.46 L256.45,126.29 L256.78,126.12 L257.11,125.95 L257.44,125.78 L257.77,125.62 L258.10,125.46 L258.43,125.29 L258.76,125.13 L259.09,124.98 L259.42,124.82 L259.75,124.66 L260.08,124.51 L260.41,124.36 L260.74,124.21 L261.07,124.06 L261.40,123.92 L261.74,123.77 L262.07,123.63 L262.40,123.49 L262.73,123.35 L263.06,123.22 L263.39,123.08 L263.72,122.95 L264.05,122.82 L264.38,122.69 L264.71,122.57 L265.04,122.44 L265.37,122.32 L265.70,122.20 L266.03,122.09 L266.36,121.97 L266.69,121.86 L267.02,121.75 L267.35,121.64 L267.68,121.53 L268.01,121.43 L268.34,121.33 L268.67,121.23 L269.00,121.13 L269.33,121.03 L269.66,120.94 L269.99,120.85 L270.32,120.76 L270.65,120.67 L270.98,120.59 L271.31,120.51 L271.64,120.42 L271.98,120.35 L272.31,120.27 L272.64,120.19 L272.97,120.12 L273.30,120.05 L273.63,119.98 L273.96,119.91 L274.29,119.85 L274.62,119.78 L274.95,119.72 L275.28,119.66 L275.61,119.60 L275.94,119.55 L276.27,119.49 L276.60,119.44 L276.93,119.39 L277.26,119.34 L277.59,119.29 L277.92,119.24 L278.25,119.20 L278.58,119.15 L278.91,119.11 L279.24,119.07 L279.57,119.03 L279.90,118.99 L280.23,118.96 L280.56,118.92 L280.89,118.89 L281.22,118.85 L281.56,118.82 L281.89,118.79 L282.22,118.76 L282.55,118.73 L282.88,118.70 L283.21,118.68 L283.54,118.65 L283.87,118.63 L284.20,118.60 L284.53,118.58 L284.86,118.56 L285.19,118.54 L285.52,118.52 L285.85,118.50 L286.18,118.48 L286.51,118.46 L286.84,118.45 L287.17,118.43 L287.50,118.41 L287.83,118.40 L288.16,118.38 L288.49,118.37 L288.82,118.36 L289.15,118.34 L289.48,118.33 L289.81,118.32 L290.14,118.31 L290.47,118.30 L290.80,118.29 L291.13,118.28 L291.47,118.27 L291.80,118.26 L292.13,118.26 L292.46,118.25 L292.79,118.24 L293.12,118.23 L293.45,118.23 L293.78,118.22 L294.11,118.21 L294.44,118.21 L294.77,118.20 L295.10,118.20 L295.43,118.19 L295.76,118.19 L296.09,118.18 L296.42,118.18 L296.75,118.18 L297.08,118.17 L297.41,118.17 L297.74,118.17 L298.07,118.16 L298.40,118.16 L298.73,118.16 L299.06,118.15 L299.39,118.15 L299.72,118.15 L300.05,118.15 L300.38,118.14 L300.71,118.14 L301.04,118.14 L301.38,118.14 L301.71,118.14 L302.04,118.14 L302.37,118.13 L302.70,118.13 L303.03,118.13 L303.36,118.13 L303.69,118.13 L304.02,118.13 L304.35,118.13 L304.68,118.13 L305.01,118.12 L305.34,118.12 L305.67,118.12 L306.00,118.12 L306.33,118.12 L306.66,118.12 L306.99,118.12 L307.32,118.12 L307.65,118.12 L307.98,118.12 L308.31,118.12 L308.64,118.12 L308.97,118.12 L309.30,118.12 L309.63,118.12 L309.96,118.12 L310.29,118.12 L310.62,118.12 L310.95,118.12 L311.29,118.12 L311.62,118.12 L311.95,118.12 L312.28,118.11 L312.61,118.11 L312.94,118.11 L313.27,118.11 L313.60,118.11 L313.93,118.11 L314.26,118.11 L314.59,118.11 L314.92,118.11 L315.25,118.11 L315.58,118.11 L315.91,118.11 L316.24,118.11 L316.57,118.11 L316.90,118.11 L317.23,118.11 L317.56,118.11 L317.89,118.11 L318.22,118.11 L318.55,118.11 L318.88,118.11 L319.21,118.11 L319.54,118.11 L319.87,118.11 L320.20,118.11 L320.53,118.11 L320.86,118.11 L321.20,118.11 L321.53,118.11 L321.86,118.11 L322.19,118.11 L322.52,118.11 L322.85,118.11 L323.18,118.11 L323.51,118.11 L323.84,118.11 L324.17,118.11 L324.50,118.11 L324.83,118.11 L325.16,118.11 L325.49,118.11 L325.82,118.11 L326.15,118.11 L326.48,118.11 L326.81,118.11 L327.14,118.11 L327.47,118.11 L327.80,118.11 L328.13,118.11 L328.46,118.11 L328.79,118.11 L329.12,118.11 L329.45,118.11 L329.78,118.11 L330.11,118.11 L330.44,118.11 L330.77,118.11 L331.11,118.11 L331.44,118.11 L331.77,118.11 L332.10,118.11 L332.43,118.11 L332.76,118.11 L333.09,118.11 L333.42,118.11 L333.75,118.11 L334.08,118.11 L334.41,118.11 L334.74,118.11 L335.07,118.11 L335.40,118.11 L335.73,118.11 L336.06,118.11 L336.39,118.11 L336.72,118.11 L337.05,118.11 L337.38,118.11 L337.71,118.11 L338.04,118.11 L338.37,118.11 L338.70,118.11 L339.03,118.11 L339.36,118.11 L339.69,118.11 L340.02,118.11 L340.35,118.11 L340.68,118.11 L341.01,118.11 L341.35,118.11 L341.68,118.11 L342.01,118.11 L342.34,118.11 L342.67,118.11 L343.00,118.11 L343.33,118.11 L343.66,118.11 L343.99,118.11 L344.32,118.11 L344.65,118.11 L344.98,118.11 L345.31,118.11 L345.64,118.11 L345.97,118.11 L346.30,118.11 L346.63,118.11 L346.96,118.11 L347.29,118.11 L347.62,118.11 L347.95,118.11 L348.28,118.11 L348.61,118.11 L348.94,118.11 L349.27,118.11 L349.60,118.11 L349.93,118.11 L350.26,118.11 L350.59,118.11 L350.93,118.11 L351.26,118.11 L351.59,118.11 L351.92,118.11 L352.25,118.11 L352.58,118.11 L352.91,118.11 L353.24,118.11 L353.57,118.11 L353.90,118.11 L354.23,118.11 L354.56,118.11 L354.89,118.11 L355.22,118.11 L355.55,118.11 L355.88,118.11 L356.21,118.11 L356.54,118.11 L356.87,118.11 L357.20,118.11 L357.53,118.11 L357.86,118.11 L358.19,118.11 L358.52,118.11 L358.85,118.11 L359.18,118.11 L359.51,118.11 L359.84,118.11 L360.17,118.11 L360.50,118.11 L360.84,118.11 L361.17,118.11 L361.50,118.11 L361.83,118.11 L362.16,118.11 L362.49,118.11 L362.82,118.11 L363.15,118.11 L363.48,118.11 L363.81,118.11 L364.14,118.11 L364.47,118.11 L364.80,118.11 L365.13,118.11 L365.46,118.11 L365.79,118.11 L366.12,118.11 L366.45,118.11 L366.78,118.11 L367.11,118.11 L367.44,118.11 L367.77,118.11 L368.10,118.11 L368.43,118.11 L368.76,118.11 L369.09,118.11 L369.42,118.11 L369.75,118.11 L370.08,118.11 L370.41,118.11 L370.75,118.11 L371.08,118.11 L371.41,118.11 L371.74,118.11 L372.07,118.11 L372.40,118.11 L372.73,118.11 L373.06,118.11 L373.39,118.11 L373.72,118.11 L374.05,118.11 L374.38,118.11 L374.71,118.11 L375.04,118.11 L375.37,118.11 L375.70,118.11 L376.03,118.11 L376.36,118.11 L376.69,118.11 L377.02,118.11 L377.35,118.11 L377.68,118.11 L378.01,118.11 L378.34,118.11 L378.67,118.11 L379.00,118.11 L379.33,118.11 L379.66,118.11 L379.99,118.11 L380.32,118.11 L380.66,118.11 L380.99,118.11 L381.32,118.11 L381.65,118.11 L381.98,118.11 L382.31,118.11 L382.64,118.11 L382.97,118.11 L383.30,118.11 L383.63,118.11 L383.96,118.11 L384.29,118.11 L384.62,118.11 L384.95,118.11 L385.28,118.11 L385.61,118.11 L385.94,118.11 L386.27,118.11 L386.60,118.11 L386.93,118.11 L387.26,118.11 L387.59,118.11 L387.92,118.11 L388.25,118.11 L388.58,118.11 L388.91,118.11 L389.24,118.11 L389.57,118.11 L389.90,118.11 L390.23,118.11 L390.57,118.11 L390.90,118.11 L391.23,118.11 L391.56,118.11 L391.89,118.11 L392.22,118.11 L392.55,118.11 L392.88,118.11 L393.21,118.11 L393.54,118.11 L393.87,118.11 L394.20,118.11 L394.53,118.11 L394.86,118.11 L395.19,118.11 L395.52,118.11 L395.85,118.11 L396.18,118.11 L396.51,118.11 L396.84,118.11 L397.17,118.11 L397.50,118.11 L397.83,118.11 L398.16,118.11 L398.49,118.11 L398.82,118.11 L399.15,118.11 L399.48,118.11 L399.81,118.11 L400.14,118.11 L400.48,118.11 L400.81,118.11 L401.14,118.11 L401.47,118.11 L401.80,118.11 L402.13,118.11 L402.46,118.11 L402.79,118.11 L403.12,118.11 L403.45,118.11 L403.78,118.11 L404.11,118.11 L404.44,118.11 L404.77,118.11 L405.10,118.11 L405.43,118.11 L405.76,118.11 L406.09,118.11 L406.42,118.11 L406.75,118.11 L407.08,118.11 L407.41,118.11 L407.74,118.11 L408.07,118.11 L408.40,118.11 L408.73,118.11 L409.06,118.11 L409.39,118.11 L409.72,118.11 L410.05,118.11 L410.38,118.11 L410.72,118.11 L411.05,118.11 L411.38,118.11 L411.71,118.11 L412.04,118.11 L412.37,118.11 L412.70,118.11 L413.03,118.11 L413.36,118.11 L413.69,118.11 L414.02,118.11 L414.35,118.11 L414.68,118.11 L415.01,118.11 L415.34,118.11 L415.67,118.11 L416.00,118.11 L416.33,118.11 L416.66,118.11 L416.99,118.11 L417.32,118.11 L417.65,118.11 L417.98,118.11 L418.31,118.11 L418.64,118.11 L418.97,118.11 L419.30,118.11 L419.63,118.11 L419.96,118.11 L420.29,118.11 L420.63,118.11 L420.96,118.11 L421.29,118.11 L421.62,118.11 L421.95,118.11 L422.28,118.11 L422.61,118.11 L422.94,118.11 L423.27,118.11 L423.60,118.11 L423.93,118.11 L424.26,118.11 L424.59,118.11 L424.92,118.11 L425.25,118.11 L425.58,118.11 L425.91,118.11 L426.24,118.11 L426.57,118.11 L426.90,118.11 L427.23,118.11 L427.56,118.11 L427.89,118.11 L428.22,118.11 L428.55,118.11 L428.88,118.11 L429.21,118.11 L429.54,118.11 L429.87,118.11 L430.21,118.11 L430.54,118.11 L430.87,118.11 L431.20,118.11 L431.53,118.11 L431.86,118.11 L432.19,118.11 L432.52,118.11 L432.85,118.11 L433.18,118.11 L433.51,118.11 L433.84,118.11 L434.17,118.11 L434.50,118.11 L434.83,118.11 L435.16,118.11 L435.49,118.11 L435.82,118.11 L436.15,118.11 L436.48,118.11 L436.81,118.11 L437.14,118.11 L437.47,118.11 L437.80,118.11 L438.13,118.11 L438.46,118.11 L438.79,118.11 L439.12,118.11 L439.45,118.12 L439.78,118.12 L440.12,118.12 L440.45,118.12 L440.78,118.12 L441.11,118.12 L441.44,118.12 L441.77,118.12 L442.10,118.12 L442.43,118.12 L442.76,118.12 L443.09,118.12 L443.42,118.12 L443.75,118.12 L444.08,118.12 L444.41,118.12 L444.74,118.12 L445.07,118.12 L445.40,118.12 L445.73,118.12 L446.06,118.12 L446.39,118.12 L446.72,118.13 L447.05,118.13 L447.38,118.13 L447.71,118.13 L448.04,118.13 L448.37,118.13 L448.70,118.13 L449.03,118.13 L449.36,118.14 L449.69,118.14 L450.02,118.14 L450.36,118.14 L450.69,118.14 L451.02,118.14 L451.35,118.15 L451.68,118.15 L452.01,118.15 L452.34,118.15 L452.67,118.16 L453.00,118.16 L453.33,118.16 L453.66,118.17 L453.99,118.17 L454.32,118.17 L454.65,118.18 L454.98,118.18 L455.31,118.18 L455.64,118.19 L455.97,118.19 L456.30,118.20 L456.63,118.20 L456.96,118.21 L457.29,118.21 L457.62,118.22 L457.95,118.23 L458.28,118.23 L458.61,118.24 L458.94,118.25 L459.27,118.26 L459.60,118.26 L459.94,118.27 L460.27,118.28 L460.60,118.29 L460.93,118.30 L461.26,118.31 L461.59,118.32 L461.92,118.33 L462.25,118.34 L462.58,118.36 L462.91,118.37 L463.24,118.38 L463.57,118.40 L463.90,118.41 L464.23,118.43 L464.56,118.45 L464.89,118.46 L465.22,118.48 L465.55,118.50 L465.88,118.52 L466.21,118.54 L466.54,118.56 L466.87,118.58 L467.20,118.60 L467.53,118.63 L467.86,118.65 L468.19,118.68 L468.52,118.70 L468.85,118.73 L469.18,118.76 L469.51,118.79 L469.85,118.82 L470.18,118.85 L470.51,118.89 L470.84,118.92 L471.17,118.96 L471.50,118.99 L471.83,119.03 L472.16,119.07 L472.49,119.11 L472.82,119.15 L473.15,119.20 L473.48,119.24 L473.81,119.29 L474.14,119.34 L474.47,119.39 L474.80,119.44 L475.13,119.49 L475.46,119.55 L475.79,119.60 L476.12,119.66 L476.45,119.72 L476.78,119.78 L477.11,119.85 L477.44,119.91 L477.77,119.98 L478.10,120.05 L478.43,120.12 L478.76,120.19 L479.09,120.27 L479.42,120.35 L479.75,120.42 L480.09,120.51 L480.42,120.59 L480.75,120.67 L481.08,120.76 L481.41,120.85 L481.74,120.94 L482.07,121.03 L482.40,121.13 L482.73,121.23 L483.06,121.33 L483.39,121.43 L483.72,121.53 L484.05,121.64 L484.38,121.75 L484.71,121.86 L485.04,121.97 L485.37,122.09 L485.70,122.20 L486.03,122.32 L486.36,122.44 L486.69,122.57 L487.02,122.69 L487.35,122.82 L487.68,122.95 L488.01,123.08 L488.34,123.22 L488.67,123.35 L489.00,123.49 L489.33,123.63 L489.66,123.77 L490.00,123.92 L490.33,124.06 L490.66,124.21 L490.99,124.36 L491.32,124.51 L491.65,124.66 L491.98,124.82 L492.31,124.98 L492.64,125.13 L492.97,125.29 L493.30,125.46 L493.63,125.62 L493.96,125.78 L494.29,125.95 L494.62,126.12 L494.95,126.29 L495.28,126.46 L495.61,126.63 L495.94,126.80 L496.27,126.97 L496.60,127.15 L496.93,127.32 L497.26,127.50 L497.59,127.68 L497.92,127.85 L498.25,128.03 L498.58,128.21 L498.91,128.39 L499.24,128.57 L499.58,128.75 L499.91,128.93 L500.24,129.12 L500.57,129.30 L500.90,129.48 L501.23,129.66 L501.56,129.84 L501.89,130.02 L502.22,130.21 L502.55,130.39 L502.88,130.57 L503.21,130.75 L503.54,130.93 L503.87,131.11 L504.20,131.29 L504.53,131.47 L504.86,131.65 L505.19,131.82 L505.52,132.00 L505.85,132.18 L506.18,132.35 L506.51,132.53 L506.84,132.70 L507.17,132.87 L507.50,133.04 L507.83,133.21 L508.16,133.38 L508.49,133.55 L508.82,133.71 L509.15,133.87 L509.49,134.04 L509.82,134.20 L510.15,134.36 L510.48,134.51 L510.81,134.67 L511.14,134.82 L511.47,134.98 L511.80,135.13 L512.13,135.28 L512.46,135.42 L512.79,135.57 L513.12,135.71 L513.45,135.85 L513.78,135.99 L514.11,136.13 L514.44,136.26 L514.77,136.40 L515.10,136.53 L515.43,136.66 L515.76,136.78 L516.09,136.91 L516.42,137.03 L516.75,137.15 L517.08,137.27 L517.41,137.38 L517.74,137.50 L518.07,137.61 L518.40,137.72 L518.73,137.83 L519.06,137.93 L519.40,138.04 L519.73,138.14 L520.06,138.23 L520.39,138.33 L520.72,138.43 L521.05,138.52 L521.38,138.61 L521.71,138.70 L522.04,138.78 L522.37,138.87 L522.70,138.95 L523.03,139.03 L523.36,139.11 L523.69,139.18 L524.02,139.26 L524.35,139.33 L524.68,139.40 L525.01,139.47 L525.34,139.53 L525.67,139.60 L526.00,139.66 L526.33,139.72 L526.66,139.78 L526.99,139.84 L527.32,139.89 L527.65,139.95 L527.98,140.00 L528.31,140.05 L528.64,140.10 L528.97,140.15 L529.31,140.19 L529.64,140.24 L529.97,140.28 L530.30,140.32 L530.63,140.36 L530.96,140.40 L531.29,140.44 L531.62,140.47 L531.95,140.51 L532.28,140.54 L532.61,140.58 L532.94,140.61 L533.27,140.64 L533.60,140.67 L533.93,140.70 L534.26,140.72 L534.59,140.75 L534.92,140.77 L535.25,140.80 L535.58,140.82 L535.91,140.84 L536.24,140.86 L536.57,140.89 L536.90,140.90 L537.23,140.92 L537.56,140.94 L537.89,140.96 L538.22,140.98 L538.55,140.99 L538.88,141.01 L539.22,141.02 L539.55,141.04 L539.88,141.05 L540.21,141.06 L540.54,141.07 L540.87,141.09 L541.20,141.10 L541.53,141.11 L541.86,141.12 L542.19,141.13 L542.52,141.14 L542.85,141.14 L543.18,141.15 L543.51,141.16 L543.84,141.17 L544.17,141.18 L544.50,141.18 L544.83,141.19 L545.16,141.20 L545.49,141.20 L545.82,141.21 L546.15,141.21 L546.48,141.22 L546.81,141.22 L547.14,141.23 L547.47,141.23 L547.80,141.23 L548.13,141.24 L548.46,141.24 L548.79,141.25 L549.13,141.25 L549.46,141.25 L549.79,141.25 L550.12,141.26 L550.45,141.26 L550.78,141.26 L551.11,141.26 L551.44,141.27 L551.77,141.27 L552.10,141.27 L552.43,141.27 L552.76,141.27 L553.09,141.28 L553.42,141.28 L553.75,141.28 L554.08,141.28 L554.41,141.28 L554.74,141.28 L555.07,141.28 L555.40,141.29 L555.73,141.29 L556.06,141.29 L556.39,141.29 L556.72,141.29 L557.05,141.29 L557.38,141.29 L557.71,141.29 L558.04,141.29 L558.37,141.29 L558.70,141.29 L559.04,141.29 L559.37,141.29 L559.70,141.29 L560.03,141.29 L560.36,141.29 L560.69,141.30 L561.02,141.30 L561.35,141.30 L561.68,141.30 L562.01,141.30 L562.34,141.30 L562.67,141.30 L563.00,141.30 L563.33,141.30 L563.66,141.30 L563.99,141.30 L564.32,141.30 L564.65,141.30 L564.98,141.30 L565.31,141.30 L565.64,141.30 L565.97,141.30 L566.30,141.30 L566.63,141.30 L566.96,141.30 L567.29,141.30 L567.62,141.30 L567.95,141.30 L568.28,141.30 L568.61,141.30 L568.95,141.30 L569.28,141.30 L569.61,141.30 L569.94,141.30 L570.27,141.30 L570.60,141.30 L570.93,141.30 L571.26,141.30 L571.59,141.30 L571.92,141.30 L572.25,141.30 L572.58,141.30 L572.91,141.30 L573.24,141.30 L573.57,141.30 L573.90,141.30 L574.23,141.30 L574.56,141.30 L574.89,141.30 L575.22,141.30 L575.55,141.30 L575.88,141.30 L576.21,141.30 L576.54,141.30 L576.87,141.30 L577.20,141.30 L577.53,141.30 L577.86,141.30 L578.19,141.30 L578.52,141.30 L578.86,141.30 L579.19,141.30 L579.52,141.30 L579.85,141.30 L580.18,141.30 L580.51,141.30 L580.84,141.30 L581.17,141.30 L581.50,141.30 L581.83,141.30 L582.16,141.30 L582.49,141.30 L582.82,141.30 L583.15,141.30 L583.48,141.30 L583.81,141.30 L584.14,141.30 L584.47,141.30 L584.80,141.30 L585.13,141.30 L585.46,141.30 L585.79,141.30 L586.12,141.30 L586.45,141.30 L586.78,141.30 L587.11,141.30 L587.44,141.30 L587.77,141.30 L588.10,141.30 L588.43,141.30 L588.77,141.30 L589.10,141.30 L589.43,141.30 L589.76,141.30 L590.09,141.30 L590.42,141.30 L590.75,141.30 L591.08,141.30 L591.41,141.30 L591.74,141.30 L592.07,141.30 L592.40,141.30 L592.73,141.30 L593.06,141.30 L593.39,141.30 L593.72,141.30 L594.05,141.30 L594.38,141.30 L594.71,141.30 L595.04,141.30 L595.37,141.30 L595.70,141.30 L596.03,141.30 L596.36,141.30 L596.69,141.30 L597.02,141.30 L597.35,141.30 L597.68,141.30 L598.01,141.30 L598.34,141.30 L598.67,141.30 L599.01,141.30 L599.34,141.30 L599.67,141.30 L600.00,141.30 L600.33,141.30 L600.66,141.30 L600.99,141.30 L601.32,141.30 L601.65,141.30 L601.98,141.30 L602.31,141.30 L602.64,141.30 L602.97,141.30 L603.30,141.30 L603.63,141.30 L603.96,141.30 L604.29,141.30 L604.62,141.30 L604.95,141.30 L605.28,141.30 L605.61,141.30 L605.94,141.30 L606.27,141.30 L606.60,141.30 L606.93,141.30 L607.26,141.30 L607.59,141.30 L607.92,141.30 L608.25,141.30 L608.59,141.30 L608.92,141.30 L609.25,141.30 L609.58,141.30 L609.91,141.30 L610.24,141.30 L610.57,141.30 L610.90,141.30 L611.23,141.30 L611.56,141.30 L611.89,141.30 L612.22,141.30 L612.55,141.30 L612.88,141.30 L613.21,141.30 L613.54,141.30 L613.87,141.30 L614.20,141.30 L614.53,141.30 L614.86,141.30 L615.19,141.30 L615.52,141.30 L615.85,141.30 L616.18,141.30 L616.51,141.30 L616.84,141.30 L617.17,141.30 L617.50,141.30 L617.83,141.30 L618.16,141.30 L618.50,141.30 L618.83,141.30 L619.16,141.30 L619.49,141.30 L619.82,141.30 L620.15,141.30 L620.48,141.30 L620.81,141.30 L621.14,141.30 L621.47,141.30 L621.80,141.30 L622.13,141.30 L622.46,141.30 L622.79,141.30 L623.12,141.30 L623.45,141.30 L623.78,141.30 L624.11,141.30 L624.44,141.30 L624.77,141.30 L625.10,141.30 L625.43,141.30 L625.76,141.30 L626.09,141.30 L626.42,141.30 L626.75,141.30 L627.08,141.30 L627.41,141.30 L627.74,141.30 L628.07,141.30 L628.40,141.30 L628.74,141.30 L629.07,141.30 L629.40,141.30 L629.73,141.30 L630.06,141.30 L630.39,141.30 L630.72,141.30 L631.05,141.30 L631.38,141.30 L631.71,141.30 L632.04,141.30 L632.37,141.30 L632.70,141.30 L633.03,141.30 L633.36,141.30 L633.69,141.30 L634.02,141.30 L634.35,141.30 L634.68,141.30 L635.01,141.30 L635.34,141.30 L635.67,141.30 L636.00,141.30 L636.33,141.30 L636.66,141.30 L636.99,141.30 L637.32,141.30 L637.65,141.30 L637.98,141.30 L638.32,141.30 L638.65,141.30 L638.98,141.30 L639.31,141.30 L639.64,141.30 L639.97,141.30 L640.30,141.30 L640.63,141.30 L640.96,141.30 L641.29,141.30 L641.62,141.30 L641.95,141.30 L642.28,141.30 L642.61,141.30 L642.94,141.30 L643.27,141.30 L643.60,141.30 L643.93,141.30 L644.26,141.30 L644.59,141.30 L644.92,141.30 L645.25,141.30 L645.58,141.30 L645.91,141.30 L646.24,141.30 L646.57,141.30 L646.90,141.30 L647.23,141.30 L647.56,141.30 L647.89,141.30 L648.23,141.30 L648.56,141.30 L648.89,141.30 L649.22,141.30 L649.55,141.30 L649.88,141.30 L650.21,141.30 L650.54,141.30 L650.87,141.30 L651.20,141.30 L651.53,141.30 L651.86,141.30 L652.19,141.30 L652.52,141.30 L652.85,141.30 L653.18,141.30 L653.51,141.30 L653.84,141.30 L654.17,141.30 L654.50,141.30 L654.83,141.30 L655.16,141.30 L655.49,141.30 L655.82,141.30 L656.15,141.30 L656.48,141.30 L656.81,141.30 L657.14,141.30 L657.47,141.30 L657.80,141.30 L658.13,141.30 L658.47,141.30 L658.80,141.30 L659.13,141.30 L659.46,141.30 L659.79,141.30 L660.12,141.30 L660.45,141.30 L660.78,141.30 L661.11,141.30 L661.44,141.30 L661.77,141.30 L662.10,141.30 L662.43,141.30 L662.76,141.30 L663.09,141.30 L663.42,141.30 L663.75,141.30 L664.08,141.30 L664.41,141.30 L664.74,141.30 L665.07,141.30 L665.40,141.30 L665.73,141.30 L666.06,141.30 L666.39,141.30 L666.72,141.30 L667.05,141.30 L667.38,141.30 L667.71,141.30 L668.05,141.30 L668.38,141.30 L668.71,141.30 L669.04,141.30 L669.37,141.30 L669.70,141.30 L670.03,141.30 L670.36,141.30 L670.69,141.30 L671.02,141.30 L671.35,141.30 L671.68,141.30 L672.01,141.30 L672.34,141.30 L672.67,141.30 L673.00,141.30" stroke="#f00"/>
</g>
<text x="63.1" y="149.50" text-anchor="end" font-family="Liberation Serif, serif" font-size="25">0.0</text>
<text x="63.1" y="116.38" text-anchor="end" font-family="Liberation Serif, serif" font-size="25">0.5</text>
<text x="63.1" y="83.25" text-anchor="end" font-family="Liberation Serif, serif" font-size="25">1.0</text>
<text x="63.1" y="50.13" text-anchor="end" font-family="Liberation Serif, serif" font-size="25">1.5</text>
<text x="63.1" y="17.00" text-anchor="end" font-family="Liberation Serif, serif" font-size="25">2.0</text>
<text x="96.6" y="25.6" font-family="Liberation Serif, serif" font-size="25.6">(a)</text>
<text x="370" y="58.0" text-anchor="end" font-family="Liberation Serif, serif" font-size="25">Optical</text>
<text x="370" y="85.4" text-anchor="end" font-family="Liberation Serif, serif" font-size="25">Acoustic</text>
<path d="M382.4,51.6 H451" stroke="#000" stroke-width="2.5"/>
<path d="M382.4,78.1 H451" stroke="#f00" stroke-width="2.5"/>
<path d="M137.86,368.0 v-5.4 M137.86,159.2 v5.4" stroke="#3a3a3a" stroke-width="1"/>
<path d="M197.32,368.0 v-5.4 M197.32,159.2 v5.4" stroke="#3a3a3a" stroke-width="1"/>
<path d="M256.78,368.0 v-5.4 M256.78,159.2 v5.4" stroke="#3a3a3a" stroke-width="1"/>
<path d="M316.24,368.0 v-5.4 M316.24,159.2 v5.4" stroke="#3a3a3a" stroke-width="1"/>
<path d="M375.70,368.0 v-5.4 M375.70,159.2 v5.4" stroke="#3a3a3a" stroke-width="1"/>
<path d="M435.16,368.0 v-5.4 M435.16,159.2 v5.4" stroke="#3a3a3a" stroke-width="1"/>
<path d="M494.62,368.0 v-5.4 M494.62,159.2 v5.4" stroke="#3a3a3a" stroke-width="1"/>
<path d="M554.08,368.0 v-5.4 M554.08,159.2 v5.4" stroke="#3a3a3a" stroke-width="1"/>
<path d="M613.54,368.0 v-5.4 M613.54,159.2 v5.4" stroke="#3a3a3a" stroke-width="1"/>
<path d="M78.4,358.60 h7.9 M673.0,358.60 h-7.9" stroke="#3a3a3a" stroke-width="1"/>
<path d="M78.4,320.58 h7.9 M673.0,320.58 h-7.9" stroke="#3a3a3a" stroke-width="1"/>
<path d="M78.4,282.56 h7.9 M673.0,282.56 h-7.9" stroke="#3a3a3a" stroke-width="1"/>
<path d="M78.4,244.54 h7.9 M673.0,244.54 h-7.9" stroke="#3a3a3a" stroke-width="1"/>
<path d="M78.4,206.52 h7.9 M673.0,206.52 h-7.9" stroke="#3a3a3a" stroke-width="1"/>
<path d="M78.4,168.50 h7.9 M673.0,168.50 h-7.9" stroke="#3a3a3a" stroke-width="1"/>
<rect x="78.4" y="159.2" width="594.6" height="208.80" fill="none" stroke="#000" stroke-width="1.9"/>
<clipPath id="cb"><rect x="76.4" y="159.2" width="598.6" height="208.8"/></clipPath>
<g clip-path="url(#cb)" fill="none" stroke-width="2.5" stroke-linejoin="round" stroke-linecap="square">
<path d="M78.40,168.50 L78.73,168.50 L79.06,168.50 L79.39,168.50 L79.72,168.50 L80.05,168.50 L80.38,168.50 L80.71,168.50 L81.04,168.50 L81.37,168.50 L81.70,168.50 L82.03,168.50 L82.36,168.50 L82.69,168.50 L83.02,168.50 L83.35,168.50 L83.69,168.50 L84.02,168.50 L84.35,168.50 L84.68,168.50 L85.01,168.50 L85.34,168.50 L85.67,168.50 L86.00,168.50 L86.33,168.50 L86.66,168.50 L86.99,168.50 L87.32,168.50 L87.65,168.50 L87.98,168.50 L88.31,168.50 L88.64,168.50 L88.97,168.50 L89.30,168.50 L89.63,168.50 L89.96,168.50 L90.29,168.50 L90.62,168.50 L90.95,168.50 L91.28,168.50 L91.61,168.50 L91.94,168.50 L92.27,168.50 L92.60,168.50 L92.93,168.50 L93.27,168.50 L93.60,168.50 L93.93,168.50 L94.26,168.50 L94.59,168.50 L94.92,168.50 L95.25,168.50 L95.58,168.50 L95.91,168.50 L96.24,168.50 L96.57,168.50 L96.90,168.50 L97.23,168.50 L97.56,168.50 L97.89,168.50 L98.22,168.50 L98.55,168.50 L98.88,168.50 L99.21,168.50 L99.54,168.50 L99.87,168.50 L100.20,168.50 L100.53,168.50 L100.86,168.50 L101.19,168.50 L101.52,168.50 L101.85,168.50 L102.18,168.50 L102.51,168.50 L102.84,168.50 L103.18,168.50 L103.51,168.50 L103.84,168.50 L104.17,168.50 L104.50,168.50 L104.83,168.50 L105.16,168.50 L105.49,168.50 L105.82,168.50 L106.15,168.50 L106.48,168.50 L106.81,168.50 L107.14,168.50 L107.47,168.50 L107.80,168.50 L108.13,168.50 L108.46,168.50 L108.79,168.50 L109.12,168.50 L109.45,168.50 L109.78,168.50 L110.11,168.50 L110.44,168.50 L110.77,168.50 L111.10,168.50 L111.43,168.50 L111.76,168.50 L112.09,168.50 L112.42,168.50 L112.75,168.50 L113.08,168.50 L113.42,168.50 L113.75,168.50 L114.08,168.50 L114.41,168.50 L114.74,168.50 L115.07,168.50 L115.40,168.50 L115.73,168.50 L116.06,168.50 L116.39,168.50 L116.72,168.50 L117.05,168.50 L117.38,168.50 L117.71,168.50 L118.04,168.50 L118.37,168.50 L118.70,168.50 L119.03,168.50 L119.36,168.50 L119.69,168.50 L120.02,168.50 L120.35,168.50 L120.68,168.50 L121.01,168.50 L121.34,168.50 L121.67,168.50 L122.00,168.50 L122.33,168.50 L122.66,168.50 L123.00,168.50 L123.33,168.50 L123.66,168.50 L123.99,168.50 L124.32,168.50 L124.65,168.50 L124.98,168.50 L125.31,168.50 L125.64,168.50 L125.97,168.51 L126.30,168.51 L126.63,168.51 L126.96,168.51 L127.29,168.51 L127.62,168.51 L127.95,168.51 L128.28,168.51 L128.61,168.51 L128.94,168.51 L129.27,168.51 L129.60,168.51 L129.93,168.51 L130.26,168.51 L130.59,168.51 L130.92,168.51 L131.25,168.51 L131.58,168.51 L131.91,168.51 L132.24,168.51 L132.57,168.51 L132.91,168.52 L133.24,168.52 L133.57,168.52 L133.90,168.52 L134.23,168.52 L134.56,168.52 L134.89,168.52 L135.22,168.52 L135.55,168.52 L135.88,168.52 L136.21,168.53 L136.54,168.53 L136.87,168.53 L137.20,168.53 L137.53,168.53 L137.86,168.53 L138.19,168.53 L138.52,168.54 L138.85,168.54 L139.18,168.54 L139.51,168.54 L139.84,168.54 L140.17,168.54 L140.50,168.55 L140.83,168.55 L141.16,168.55 L141.49,168.55 L141.82,168.56 L142.15,168.56 L142.48,168.56 L142.81,168.56 L143.15,168.57 L143.48,168.57 L143.81,168.57 L144.14,168.58 L144.47,168.58 L144.80,168.58 L145.13,168.59 L145.46,168.59 L145.79,168.60 L146.12,168.60 L146.45,168.60 L146.78,168.61 L147.11,168.61 L147.44,168.62 L147.77,168.62 L148.10,168.63 L148.43,168.63 L148.76,168.64 L149.09,168.65 L149.42,168.65 L149.75,168.66 L150.08,168.67 L150.41,168.67 L150.74,168.68 L151.07,168.69 L151.40,168.69 L151.73,168.70 L152.06,168.71 L152.39,168.72 L152.73,168.73 L153.06,168.74 L153.39,168.75 L153.72,168.76 L154.05,168.77 L154.38,168.78 L154.71,168.79 L155.04,168.80 L155.37,168.81 L155.70,168.82 L156.03,168.84 L156.36,168.85 L156.69,168.86 L157.02,168.88 L157.35,168.89 L157.68,168.90 L158.01,168.92 L158.34,168.93 L158.67,168.95 L159.00,168.97 L159.33,168.98 L159.66,169.00 L159.99,169.02 L160.32,169.04 L160.65,169.06 L160.98,169.08 L161.31,169.10 L161.64,169.12 L161.97,169.14 L162.30,169.16 L162.64,169.19 L162.97,169.21 L163.30,169.24 L163.63,169.26 L163.96,169.29 L164.29,169.31 L164.62,169.34 L164.95,169.37 L165.28,169.40 L165.61,169.43 L165.94,169.46 L166.27,169.49 L166.60,169.52 L166.93,169.55 L167.26,169.59 L167.59,169.62 L167.92,169.66 L168.25,169.69 L168.58,169.73 L168.91,169.77 L169.24,169.81 L169.57,169.85 L169.90,169.89 L170.23,169.93 L170.56,169.98 L170.89,170.02 L171.22,170.07 L171.55,170.11 L171.88,170.16 L172.21,170.21 L172.55,170.26 L172.88,170.31 L173.21,170.36 L173.54,170.41 L173.87,170.47 L174.20,170.52 L174.53,170.58 L174.86,170.64 L175.19,170.70 L175.52,170.76 L175.85,170.82 L176.18,170.88 L176.51,170.94 L176.84,171.01 L177.17,171.07 L177.50,171.14 L177.83,171.21 L178.16,171.28 L178.49,171.35 L178.82,171.42 L179.15,171.50 L179.48,171.57 L179.81,171.65 L180.14,171.73 L180.47,171.81 L180.80,171.89 L181.13,171.97 L181.46,172.05 L181.79,172.14 L182.12,172.22 L182.45,172.31 L182.79,172.40 L183.12,172.49 L183.45,172.58 L183.78,172.67 L184.11,172.77 L184.44,172.86 L184.77,172.96 L185.10,173.05 L185.43,173.15 L185.76,173.25 L186.09,173.36 L186.42,173.46 L186.75,173.56 L187.08,173.67 L187.41,173.78 L187.74,173.88 L188.07,173.99 L188.40,174.10 L188.73,174.21 L189.06,174.33 L189.39,174.44 L189.72,174.56 L190.05,174.67 L190.38,174.79 L190.71,174.91 L191.04,175.03 L191.37,175.15 L191.70,175.27 L192.03,175.39 L192.37,175.52 L192.70,175.64 L193.03,175.76 L193.36,175.89 L193.69,176.02 L194.02,176.15 L194.35,176.28 L194.68,176.41 L195.01,176.54 L195.34,176.67 L195.67,176.80 L196.00,176.93 L196.33,177.06 L196.66,177.20 L196.99,177.33 L197.32,177.47 L197.65,177.60 L197.98,177.74 L198.31,177.88 L198.64,178.01 L198.97,178.15 L199.30,178.29 L199.63,178.43 L199.96,178.57 L200.29,178.71 L200.62,178.85 L200.95,178.99 L201.28,179.13 L201.61,179.27 L201.94,179.41 L202.28,179.55 L202.61,179.69 L202.94,179.83 L203.27,179.97 L203.60,180.11 L203.93,180.26 L204.26,180.40 L204.59,180.54 L204.92,180.68 L205.25,180.82 L205.58,180.96 L205.91,181.11 L206.24,181.25 L206.57,181.39 L206.90,181.53 L207.23,181.67 L207.56,181.81 L207.89,181.95 L208.22,182.09 L208.55,182.23 L208.88,182.37 L209.21,182.51 L209.54,182.65 L209.87,182.79 L210.20,182.93 L210.53,183.07 L210.86,183.20 L211.19,183.34 L211.52,183.48 L211.85,183.61 L212.19,183.75 L212.52,183.88 L212.85,184.02 L213.18,184.15 L213.51,184.28 L213.84,184.42 L214.17,184.55 L214.50,184.68 L214.83,184.81 L215.16,184.94 L215.49,185.06 L215.82,185.19 L216.15,185.32 L216.48,185.44 L216.81,185.57 L217.14,185.69 L217.47,185.82 L217.80,185.94 L218.13,186.06 L218.46,186.18 L218.79,186.30 L219.12,186.42 L219.45,186.54 L219.78,186.66 L220.11,186.78 L220.44,186.90 L220.77,187.02 L221.10,187.13 L221.43,187.25 L221.76,187.37 L222.10,187.48 L222.43,187.60 L222.76,187.72 L223.09,187.84 L223.42,187.96 L223.75,188.08 L224.08,188.20 L224.41,188.32 L224.74,188.44 L225.07,188.56 L225.40,188.68 L225.73,188.81 L226.06,188.93 L226.39,189.06 L226.72,189.19 L227.05,189.32 L227.38,189.45 L227.71,189.58 L228.04,189.71 L228.37,189.84 L228.70,189.97 L229.03,190.11 L229.36,190.24 L229.69,190.37 L230.02,190.50 L230.35,190.64 L230.68,190.77 L231.01,190.90 L231.34,191.02 L231.67,191.15 L232.01,191.27 L232.34,191.39 L232.67,191.50 L233.00,191.61 L233.33,191.72 L233.66,191.82 L233.99,191.91 L234.32,192.00 L234.65,192.08 L234.98,192.15 L235.31,192.22 L235.64,192.28 L235.97,192.32 L236.30,192.36 L236.63,192.39 L236.96,192.41 L237.29,192.42 L237.62,192.42 L237.95,192.41 L238.28,192.39 L238.61,192.36 L238.94,192.32 L239.27,192.27 L239.60,192.21 L239.93,192.14 L240.26,192.07 L240.59,191.99 L240.92,191.90 L241.25,191.81 L241.58,191.72 L241.92,191.62 L242.25,191.53 L242.58,191.43 L242.91,191.34 L243.24,191.25 L243.57,191.17 L243.90,191.10 L244.23,191.03 L244.56,190.98 L244.89,190.93 L245.22,190.91 L245.55,190.89 L245.88,190.90 L246.21,190.92 L246.54,190.97 L246.87,191.04 L247.20,191.13 L247.53,191.24 L247.86,191.38 L248.19,191.55 L248.52,191.74 L248.85,191.96 L249.18,192.20 L249.51,192.48 L249.84,192.78 L250.17,193.11 L250.50,193.46 L250.83,193.84 L251.16,194.24 L251.49,194.66 L251.83,195.10 L252.16,195.57 L252.49,196.04 L252.82,196.53 L253.15,197.04 L253.48,197.54 L253.81,198.06 L254.14,198.57 L254.47,199.08 L254.80,199.58 L255.13,200.07 L255.46,200.54 L255.79,201.00 L256.12,201.43 L256.45,201.83 L256.78,202.19 L257.11,202.52 L257.44,202.81 L257.77,203.04 L258.10,203.23 L258.43,203.36 L258.76,203.44 L259.09,203.45 L259.42,203.40 L259.75,203.28 L260.08,203.09 L260.41,202.84 L260.74,202.51 L261.07,202.12 L261.40,201.66 L261.74,201.13 L262.07,200.53 L262.40,199.88 L262.73,199.16 L263.06,198.39 L263.39,197.57 L263.72,196.71 L264.05,195.81 L264.38,194.89 L264.71,193.94 L265.04,192.97 L265.37,192.00 L265.70,191.03 L266.03,190.07 L266.36,189.13 L266.69,188.22 L267.02,187.35 L267.35,186.52 L267.68,185.75 L268.01,185.04 L268.34,184.39 L268.67,183.83 L269.00,183.34 L269.33,182.94 L269.66,182.64 L269.99,182.44 L270.32,182.34 L270.65,182.34 L270.98,182.46 L271.31,182.68 L271.64,183.02 L271.98,183.47 L272.31,184.03 L272.64,184.70 L272.97,185.48 L273.30,186.36 L273.63,187.35 L273.96,188.44 L274.29,189.63 L274.62,190.90 L274.95,192.26 L275.28,193.69 L275.61,195.19 L275.94,196.76 L276.27,198.38 L276.60,200.05 L276.93,201.75 L277.26,203.48 L277.59,205.22 L277.92,206.97 L278.25,208.71 L278.58,210.43 L278.91,212.12 L279.24,213.77 L279.57,215.36 L279.90,216.89 L280.23,218.34 L280.56,219.69 L280.89,220.94 L281.22,222.07 L281.56,223.07 L281.89,223.94 L282.22,224.65 L282.55,225.20 L282.88,225.59 L283.21,225.80 L283.54,225.83 L283.87,225.67 L284.20,225.32 L284.53,224.78 L284.86,224.05 L285.19,223.12 L285.52,222.01 L285.85,220.71 L286.18,219.24 L286.51,217.60 L286.84,215.80 L287.17,213.86 L287.50,211.79 L287.83,209.61 L288.16,207.33 L288.49,204.97 L288.82,202.55 L289.15,200.09 L289.48,197.62 L289.81,195.15 L290.14,192.70 L290.47,190.31 L290.80,187.98 L291.13,185.73 L291.47,183.60 L291.80,181.59 L292.13,179.73 L292.46,178.03 L292.79,176.50 L293.12,175.17 L293.45,174.03 L293.78,173.11 L294.11,172.40 L294.44,171.92 L294.77,171.67 L295.10,171.65 L295.43,171.87 L295.76,172.33 L296.09,173.02 L296.42,173.94 L296.75,175.09 L297.08,176.45 L297.41,178.03 L297.74,179.82 L298.07,181.80 L298.40,183.96 L298.73,186.30 L299.06,188.80 L299.39,191.44 L299.72,194.22 L300.05,197.12 L300.38,200.11 L300.71,203.19 L301.04,206.34 L301.38,209.54 L301.71,212.77 L302.04,216.01 L302.37,219.25 L302.70,222.46 L303.03,225.63 L303.36,228.72 L303.69,231.74 L304.02,234.65 L304.35,237.43 L304.68,240.06 L305.01,242.53 L305.34,244.81 L305.67,246.90 L306.00,248.75 L306.33,250.38 L306.66,251.75 L306.99,252.85 L307.32,253.67 L307.65,254.20 L307.98,254.42 L308.31,254.34 L308.64,253.95 L308.97,253.24 L309.30,252.22 L309.63,250.88 L309.96,249.24 L310.29,247.30 L310.62,245.08 L310.95,242.58 L311.29,239.83 L311.62,236.84 L311.95,233.64 L312.28,230.25 L312.61,226.70 L312.94,223.02 L313.27,219.24 L313.60,215.39 L313.93,211.50 L314.26,207.60 L314.59,203.73 L314.92,199.93 L315.25,196.22 L315.58,192.64 L315.91,189.22 L316.24,185.98 L316.57,182.96 L316.90,180.17 L317.23,177.65 L317.56,175.40 L317.89,173.46 L318.22,171.83 L318.55,170.52 L318.88,169.56 L319.21,168.93 L319.54,168.65 L319.87,168.73 L320.20,169.15 L320.53,169.91 L320.86,171.02 L321.20,172.45 L321.53,174.21 L321.86,176.28 L322.19,178.65 L322.52,181.31 L322.85,184.22 L323.18,187.39 L323.51,190.79 L323.84,194.41 L324.17,198.21 L324.50,202.18 L324.83,206.29 L325.16,210.53 L325.49,214.87 L325.82,219.28 L326.15,223.74 L326.48,228.23 L326.81,232.71 L327.14,237.16 L327.47,241.56 L327.80,245.88 L328.13,250.09 L328.46,254.16 L328.79,258.08 L329.12,261.80 L329.45,265.32 L329.78,268.60 L330.11,271.63 L330.44,274.37 L330.77,276.80 L331.11,278.91 L331.44,280.68 L331.77,282.09 L332.10,283.12 L332.43,283.77 L332.76,284.02 L333.09,283.87 L333.42,283.31 L333.75,282.34 L334.08,280.96 L334.41,279.19 L334.74,277.02 L335.07,274.47 L335.40,271.55 L335.73,268.30 L336.06,264.72 L336.39,260.86 L336.72,256.72 L337.05,252.36 L337.38,247.81 L337.71,243.09 L338.04,238.26 L338.37,233.35 L338.70,228.40 L339.03,223.46 L339.36,218.57 L339.69,213.76 L340.02,209.09 L340.35,204.59 L340.68,200.29 L341.01,196.24 L341.35,192.47 L341.68,189.00 L342.01,185.86 L342.34,183.09 L342.67,180.69 L343.00,178.68 L343.33,177.09 L343.66,175.91 L343.99,175.17 L344.32,174.85 L344.65,174.96 L344.98,175.50 L345.31,176.46 L345.64,177.84 L345.97,179.62 L346.30,181.78 L346.63,184.33 L346.96,187.22 L347.29,190.46 L347.62,194.00 L347.95,197.85 L348.28,201.96 L348.61,206.31 L348.94,210.89 L349.27,215.65 L349.60,220.58 L349.93,225.64 L350.26,230.80 L350.59,236.05 L350.93,241.34 L351.26,246.64 L351.59,251.93 L351.92,257.17 L352.25,262.34 L352.58,267.41 L352.91,272.33 L353.24,277.09 L353.57,281.65 L353.90,285.99 L354.23,290.07 L354.56,293.88 L354.89,297.37 L355.22,300.54 L355.55,303.34 L355.88,305.77 L356.21,307.81 L356.54,309.42 L356.87,310.61 L357.20,311.35 L357.53,311.64 L357.86,311.46 L358.19,310.83 L358.52,309.73 L358.85,308.17 L359.18,306.15 L359.51,303.70 L359.84,300.82 L360.17,297.53 L360.50,293.86 L360.84,289.84 L361.17,285.49 L361.50,280.85 L361.83,275.96 L362.16,270.85 L362.49,265.57 L362.82,260.16 L363.15,254.68 L363.48,249.15 L363.81,243.64 L364.14,238.19 L364.47,232.84 L364.80,227.65 L365.13,222.64 L365.46,217.87 L365.79,213.38 L366.12,209.20 L366.45,205.35 L366.78,201.89 L367.11,198.81 L367.44,196.16 L367.77,193.95 L368.10,192.18 L368.43,190.88 L368.76,190.05 L369.09,189.69 L369.42,189.80 L369.75,190.38 L370.08,191.41 L370.41,192.90 L370.75,194.81 L371.08,197.15 L371.41,199.89 L371.74,203.01 L372.07,206.49 L372.40,210.30 L372.73,214.42 L373.06,218.83 L373.39,223.49 L373.72,228.38 L374.05,233.46 L374.38,238.71 L374.71,244.10 L375.04,249.59 L375.37,255.15 L375.70,260.76 L376.03,266.37 L376.36,271.96 L376.69,277.49 L377.02,282.94 L377.35,288.26 L377.68,293.44 L378.01,298.43 L378.34,303.22 L378.67,307.76 L379.00,312.03 L379.33,316.00 L379.66,319.65 L379.99,322.95 L380.32,325.88 L380.66,328.41 L380.99,330.53 L381.32,332.22 L381.65,333.46 L381.98,334.25 L382.31,334.57 L382.64,334.42 L382.97,333.79 L383.30,332.69 L383.63,331.12 L383.96,329.08 L384.29,326.60 L384.62,323.69 L384.95,320.37 L385.28,316.66 L385.61,312.59 L385.94,308.20 L386.27,303.51 L386.60,298.57 L386.93,293.41 L387.26,288.09 L387.59,282.64 L387.92,277.11 L388.25,271.54 L388.58,266.00 L388.91,260.51 L389.24,255.13 L389.57,249.91 L389.90,244.88 L390.23,240.09 L390.57,235.58 L390.90,231.38 L391.23,227.53 L391.56,224.05 L391.89,220.96 L392.22,218.30 L392.55,216.07 L392.88,214.30 L393.21,212.98 L393.54,212.13 L393.87,211.74 L394.20,211.82 L394.53,212.36 L394.86,213.36 L395.19,214.79 L395.52,216.65 L395.85,218.91 L396.18,221.57 L396.51,224.60 L396.84,227.98 L397.17,231.67 L397.50,235.67 L397.83,239.94 L398.16,244.44 L398.49,249.17 L398.82,254.07 L399.15,259.14 L399.48,264.32 L399.81,269.60 L400.14,274.95 L400.48,280.32 L400.81,285.70 L401.14,291.04 L401.47,296.33 L401.80,301.53 L402.13,306.60 L402.46,311.53 L402.79,316.28 L403.12,320.82 L403.45,325.13 L403.78,329.18 L404.11,332.94 L404.44,336.40 L404.77,339.52 L405.10,342.29 L405.43,344.69 L405.76,346.70 L406.09,348.31 L406.42,349.49 L406.75,350.25 L407.08,350.58 L407.41,350.47 L407.74,349.92 L408.07,348.93 L408.40,347.50 L408.73,345.65 L409.06,343.39 L409.39,340.73 L409.72,337.70 L410.05,334.31 L410.38,330.60 L410.72,326.58 L411.05,322.31 L411.38,317.80 L411.71,313.10 L412.04,308.24 L412.37,303.28 L412.70,298.24 L413.03,293.18 L413.36,288.13 L413.69,283.14 L414.02,278.26 L414.35,273.52 L414.68,268.95 L415.01,264.61 L415.34,260.52 L415.67,256.71 L416.00,253.22 L416.33,250.06 L416.66,247.27 L416.99,244.85 L417.32,242.83 L417.65,241.21 L417.98,240.01 L418.31,239.22 L418.64,238.85 L418.97,238.89 L419.30,239.35 L419.63,240.20 L419.96,241.45 L420.29,243.07 L420.63,245.05 L420.96,247.37 L421.29,250.01 L421.62,252.96 L421.95,256.19 L422.28,259.67 L422.61,263.38 L422.94,267.30 L423.27,271.40 L423.60,275.66 L423.93,280.04 L424.26,284.53 L424.59,289.09 L424.92,293.69 L425.25,298.32 L425.58,302.94 L425.91,307.52 L426.24,312.05 L426.57,316.50 L426.90,320.83 L427.23,325.03 L427.56,329.07 L427.89,332.93 L428.22,336.58 L428.55,340.01 L428.88,343.19 L429.21,346.11 L429.54,348.75 L429.87,351.09 L430.21,353.11 L430.54,354.80 L430.87,356.16 L431.20,357.17 L431.53,357.82 L431.86,358.11 L432.19,358.04 L432.52,357.60 L432.85,356.81 L433.18,355.65 L433.51,354.16 L433.84,352.32 L434.17,350.17 L434.50,347.70 L434.83,344.96 L435.16,341.95 L435.49,338.70 L435.82,335.24 L436.15,331.59 L436.48,327.80 L436.81,323.88 L437.14,319.88 L437.47,315.83 L437.80,311.76 L438.13,307.71 L438.46,303.71 L438.79,299.79 L439.12,296.00 L439.45,292.35 L439.78,288.88 L440.12,285.62 L440.45,282.59 L440.78,279.81 L441.11,277.30 L441.44,275.08 L441.77,273.16 L442.10,271.55 L442.43,270.27 L442.76,269.31 L443.09,268.68 L443.42,268.38 L443.75,268.40 L444.08,268.74 L444.41,269.39 L444.74,270.33 L445.07,271.57 L445.40,273.09 L445.73,274.86 L446.06,276.88 L446.39,279.12 L446.72,281.57 L447.05,284.21 L447.38,287.03 L447.71,289.99 L448.04,293.07 L448.37,296.27 L448.70,299.56 L449.03,302.91 L449.36,306.30 L449.69,309.73 L450.02,313.15 L450.36,316.57 L450.69,319.95 L451.02,323.27 L451.35,326.52 L451.68,329.69 L452.01,332.74 L452.34,335.67 L452.67,338.47 L453.00,341.10 L453.33,343.57 L453.66,345.85 L453.99,347.94 L454.32,349.82 L454.65,351.48 L454.98,352.91 L455.31,354.11 L455.64,355.07 L455.97,355.78 L456.30,356.24 L456.63,356.45 L456.96,356.41 L457.29,356.11 L457.62,355.57 L457.95,354.79 L458.28,353.77 L458.61,352.52 L458.94,351.06 L459.27,349.40 L459.60,347.55 L459.94,345.52 L460.27,343.34 L460.60,341.03 L460.93,338.60 L461.26,336.07 L461.59,333.47 L461.92,330.82 L462.25,328.15 L462.58,325.47 L462.91,322.81 L463.24,320.19 L463.57,317.63 L463.90,315.16 L464.23,312.79 L464.56,310.55 L464.89,308.44 L465.22,306.49 L465.55,304.70 L465.88,303.09 L466.21,301.67 L466.54,300.44 L466.87,299.42 L467.20,298.60 L467.53,297.99 L467.86,297.59 L468.19,297.39 L468.52,297.39 L468.85,297.58 L469.18,297.97 L469.51,298.54 L469.85,299.28 L470.18,300.19 L470.51,301.25 L470.84,302.45 L471.17,303.78 L471.50,305.23 L471.83,306.78 L472.16,308.43 L472.49,310.16 L472.82,311.95 L473.15,313.80 L473.48,315.69 L473.81,317.61 L474.14,319.54 L474.47,321.48 L474.80,323.41 L475.13,325.32 L475.46,327.20 L475.79,329.04 L476.12,330.83 L476.45,332.56 L476.78,334.22 L477.11,335.81 L477.44,337.31 L477.77,338.72 L478.10,340.03 L478.43,341.24 L478.76,342.33 L479.09,343.32 L479.42,344.19 L479.75,344.93 L480.09,345.56 L480.42,346.06 L480.75,346.44 L481.08,346.69 L481.41,346.81 L481.74,346.82 L482.07,346.70 L482.40,346.46 L482.73,346.12 L483.06,345.66 L483.39,345.11 L483.72,344.45 L484.05,343.71 L484.38,342.88 L484.71,341.98 L485.04,341.02 L485.37,340.00 L485.70,338.93 L486.03,337.83 L486.36,336.70 L486.69,335.55 L487.02,334.39 L487.35,333.23 L487.68,332.09 L488.01,330.96 L488.34,329.86 L488.67,328.80 L489.00,327.78 L489.33,326.81 L489.66,325.90 L490.00,325.05 L490.33,324.26 L490.66,323.55 L490.99,322.91 L491.32,322.35 L491.65,321.86 L491.98,321.46 L492.31,321.13 L492.64,320.88 L492.97,320.71 L493.30,320.62 L493.63,320.60 L493.96,320.65 L494.29,320.77 L494.62,320.96 L494.95,321.21 L495.28,321.51 L495.61,321.87 L495.94,322.28 L496.27,322.74 L496.60,323.23 L496.93,323.76 L497.26,324.33 L497.59,324.92 L497.92,325.53 L498.25,326.17 L498.58,326.81 L498.91,327.47 L499.24,328.14 L499.58,328.81 L499.91,329.47 L500.24,330.14 L500.57,330.79 L500.90,331.44 L501.23,332.07 L501.56,332.68 L501.89,333.28 L502.22,333.85 L502.55,334.41 L502.88,334.93 L503.21,335.44 L503.54,335.91 L503.87,336.35 L504.20,336.77 L504.53,337.15 L504.86,337.50 L505.19,337.82 L505.52,338.10 L505.85,338.35 L506.18,338.57 L506.51,338.76 L506.84,338.91 L507.17,339.03 L507.50,339.12 L507.83,339.18 L508.16,339.20 L508.49,339.20 L508.82,339.18 L509.15,339.12 L509.49,339.04 L509.82,338.94 L510.15,338.81 L510.48,338.66 L510.81,338.50 L511.14,338.31 L511.47,338.11 L511.80,337.90 L512.13,337.68 L512.46,337.44 L512.79,337.20 L513.12,336.95 L513.45,336.70 L513.78,336.44 L514.11,336.19 L514.44,335.93 L514.77,335.68 L515.10,335.43 L515.43,335.18 L515.76,334.94 L516.09,334.72 L516.42,334.50 L516.75,334.29 L517.08,334.09 L517.41,333.91 L517.74,333.74 L518.07,333.59 L518.40,333.45 L518.73,333.33 L519.06,333.23 L519.40,333.15 L519.73,333.09 L520.06,333.04 L520.39,333.02 L520.72,333.02 L521.05,333.03 L521.38,333.07 L521.71,333.13 L522.04,333.21 L522.37,333.31 L522.70,333.43 L523.03,333.56 L523.36,333.72 L523.69,333.90 L524.02,334.10 L524.35,334.31 L524.68,334.54 L525.01,334.79 L525.34,335.05 L525.67,335.33 L526.00,335.62 L526.33,335.92 L526.66,336.24 L526.99,336.57 L527.32,336.90 L527.65,337.24 L527.98,337.59 L528.31,337.95 L528.64,338.31 L528.97,338.67 L529.31,339.03 L529.64,339.40 L529.97,339.76 L530.30,340.12 L530.63,340.48 L530.96,340.84 L531.29,341.18 L531.62,341.53 L531.95,341.86 L532.28,342.19 L532.61,342.50 L532.94,342.81 L533.27,343.10 L533.60,343.38 L533.93,343.65 L534.26,343.91 L534.59,344.15 L534.92,344.38 L535.25,344.59 L535.58,344.79 L535.91,344.97 L536.24,345.14 L536.57,345.29 L536.90,345.43 L537.23,345.55 L537.56,345.66 L537.89,345.75 L538.22,345.83 L538.55,345.90 L538.88,345.95 L539.22,345.99 L539.55,346.02 L539.88,346.04 L540.21,346.04 L540.54,346.04 L540.87,346.03 L541.20,346.00 L541.53,345.98 L541.86,345.94 L542.19,345.90 L542.52,345.86 L542.85,345.81 L543.18,345.76 L543.51,345.71 L543.84,345.65 L544.17,345.60 L544.50,345.55 L544.83,345.50 L545.16,345.45 L545.49,345.41 L545.82,345.37 L546.15,345.33 L546.48,345.31 L546.81,345.28 L547.14,345.27 L547.47,345.26 L547.80,345.26 L548.13,345.27 L548.46,345.29 L548.79,345.32 L549.13,345.36 L549.46,345.41 L549.79,345.47 L550.12,345.54 L550.45,345.62 L550.78,345.71 L551.11,345.81 L551.44,345.92 L551.77,346.04 L552.10,346.18 L552.43,346.32 L552.76,346.47 L553.09,346.64 L553.42,346.81 L553.75,346.99 L554.08,347.18 L554.41,347.38 L554.74,347.58 L555.07,347.79 L555.40,348.01 L555.73,348.24 L556.06,348.47 L556.39,348.71 L556.72,348.95 L557.05,349.19 L557.38,349.44 L557.71,349.69 L558.04,349.94 L558.37,350.20 L558.70,350.45 L559.04,350.70 L559.37,350.96 L559.70,351.21 L560.03,351.46 L560.36,351.71 L560.69,351.96 L561.02,352.20 L561.35,352.44 L561.68,352.68 L562.01,352.91 L562.34,353.13 L562.67,353.35 L563.00,353.57 L563.33,353.78 L563.66,353.98 L563.99,354.17 L564.32,354.36 L564.65,354.54 L564.98,354.72 L565.31,354.88 L565.64,355.04 L565.97,355.19 L566.30,355.34 L566.63,355.47 L566.96,355.60 L567.29,355.72 L567.62,355.83 L567.95,355.94 L568.28,356.03 L568.61,356.12 L568.95,356.21 L569.28,356.28 L569.61,356.35 L569.94,356.41 L570.27,356.46 L570.60,356.51 L570.93,356.56 L571.26,356.59 L571.59,356.62 L571.92,356.65 L572.25,356.67 L572.58,356.69 L572.91,356.70 L573.24,356.71 L573.57,356.71 L573.90,356.71 L574.23,356.71 L574.56,356.71 L574.89,356.70 L575.22,356.69 L575.55,356.68 L575.88,356.67 L576.21,356.66 L576.54,356.65 L576.87,356.63 L577.20,356.62 L577.53,356.61 L577.86,356.59 L578.19,356.58 L578.52,356.57 L578.86,356.55 L579.19,356.54 L579.52,356.53 L579.85,356.53 L580.18,356.52 L580.51,356.52 L580.84,356.51 L581.17,356.51 L581.50,356.51 L581.83,356.52 L582.16,356.52 L582.49,356.53 L582.82,356.54 L583.15,356.56 L583.48,356.57 L583.81,356.59 L584.14,356.61 L584.47,356.63 L584.80,356.65 L585.13,356.68 L585.46,356.71 L585.79,356.74 L586.12,356.77 L586.45,356.81 L586.78,356.84 L587.11,356.88 L587.44,356.92 L587.77,356.96 L588.10,357.01 L588.43,357.05 L588.77,357.10 L589.10,357.14 L589.43,357.19 L589.76,357.24 L590.09,357.29 L590.42,357.33 L590.75,357.38 L591.08,357.43 L591.41,357.48 L591.74,357.53 L592.07,357.58 L592.40,357.63 L592.73,357.68 L593.06,357.73 L593.39,357.77 L593.72,357.82 L594.05,357.87 L594.38,357.91 L594.71,357.96 L595.04,358.00 L595.37,358.04 L595.70,358.08 L596.03,358.12 L596.36,358.16 L596.69,358.19 L597.02,358.23 L597.35,358.26 L597.68,358.29 L598.01,358.32 L598.34,358.35 L598.67,358.38 L599.01,358.40 L599.34,358.43 L599.67,358.45 L600.00,358.47 L600.33,358.49 L600.66,358.50 L600.99,358.52 L601.32,358.53 L601.65,358.54 L601.98,358.56 L602.31,358.56 L602.64,358.57 L602.97,358.58 L603.30,358.58 L603.63,358.59 L603.96,358.59 L604.29,358.59 L604.62,358.59 L604.95,358.59 L605.28,358.59 L605.61,358.59 L605.94,358.59 L606.27,358.58 L606.60,358.58 L606.93,358.57 L607.26,358.57 L607.59,358.56 L607.92,358.55 L608.25,358.54 L608.59,358.54 L608.92,358.53 L609.25,358.52 L609.58,358.51 L609.91,358.50 L610.24,358.49 L610.57,358.49 L610.90,358.48 L611.23,358.47 L611.56,358.46 L611.89,358.45 L612.22,358.44 L612.55,358.43 L612.88,358.43 L613.21,358.42 L613.54,358.41 L613.87,358.40 L614.20,358.40 L614.53,358.39 L614.86,358.39 L615.19,358.38 L615.52,358.37 L615.85,358.37 L616.18,358.36 L616.51,358.36 L616.84,358.36 L617.17,358.35 L617.50,358.35 L617.83,358.35 L618.16,358.35 L618.50,358.34 L618.83,358.34 L619.16,358.34 L619.49,358.34 L619.82,358.34 L620.15,358.34 L620.48,358.34 L620.81,358.34 L621.14,358.34 L621.47,358.34 L621.80,358.35 L622.13,358.35 L622.46,358.35 L622.79,358.35 L623.12,358.35 L623.45,358.36 L623.78,358.36 L624.11,358.36 L624.44,358.36 L624.77,358.37 L625.10,358.37 L625.43,358.37 L625.76,358.38 L626.09,358.38 L626.42,358.38 L626.75,358.39 L627.08,358.39 L627.41,358.39 L627.74,358.40 L628.07,358.40 L628.40,358.40 L628.74,358.40 L629.07,358.41 L629.40,358.41 L629.73,358.41 L630.06,358.42 L630.39,358.42 L630.72,358.42 L631.05,358.42 L631.38,358.43 L631.71,358.43 L632.04,358.43 L632.37,358.43 L632.70,358.43 L633.03,358.44 L633.36,358.44 L633.69,358.44 L634.02,358.44 L634.35,358.44 L634.68,358.44 L635.01,358.44 L635.34,358.44 L635.67,358.45 L636.00,358.45 L636.33,358.45 L636.66,358.45 L636.99,358.45 L637.32,358.45 L637.65,358.45 L637.98,358.45 L638.32,358.45 L638.65,358.45 L638.98,358.45 L639.31,358.45 L639.64,358.45 L639.97,358.45 L640.30,358.45 L640.63,358.45 L640.96,358.45 L641.29,358.45 L641.62,358.45 L641.95,358.44 L642.28,358.44 L642.61,358.44 L642.94,358.44 L643.27,358.44 L643.60,358.44 L643.93,358.44 L644.26,358.44 L644.59,358.44 L644.92,358.44 L645.25,358.44 L645.58,358.44 L645.91,358.44 L646.24,358.44 L646.57,358.44 L646.90,358.44 L647.23,358.44 L647.56,358.43 L647.89,358.43 L648.23,358.43 L648.56,358.43 L648.89,358.43 L649.22,358.43 L649.55,358.43 L649.88,358.43 L650.21,358.43 L650.54,358.43 L650.87,358.43 L651.20,358.43 L651.53,358.43 L651.86,358.43 L652.19,358.43 L652.52,358.43 L652.85,358.43 L653.18,358.43 L653.51,358.43 L653.84,358.43 L654.17,358.43 L654.50,358.43 L654.83,358.43 L655.16,358.43 L655.49,358.43 L655.82,358.43 L656.15,358.43 L656.48,358.43 L656.81,358.43 L657.14,358.43 L657.47,358.43 L657.80,358.43 L658.13,358.43 L658.47,358.43 L658.80,358.43 L659.13,358.43 L659.46,358.43 L659.79,358.43 L660.12,358.43 L660.45,358.43 L660.78,358.43 L661.11,358.43 L661.44,358.43 L661.77,358.43 L662.10,358.43 L662.43,358.43 L662.76,358.43 L663.09,358.43 L663.42,358.43 L663.75,358.43 L664.08,358.43 L664.41,358.43 L664.74,358.43 L665.07,358.43 L665.40,358.43 L665.73,358.43 L666.06,358.43 L666.39,358.43 L666.72,358.43 L667.05,358.43 L667.38,358.43 L667.71,358.43 L668.05,358.43 L668.38,358.43 L668.71,358.43" stroke="#000"/>
<path d="M78.40,358.60 L78.73,358.60 L79.06,358.60 L79.39,358.60 L79.72,358.60 L80.05,358.60 L80.38,358.60 L80.71,358.60 L81.04,358.60 L81.37,358.60 L81.70,358.60 L82.03,358.60 L82.36,358.60 L82.69,358.60 L83.02,358.60 L83.35,358.60 L83.69,358.60 L84.02,358.60 L84.35,358.60 L84.68,358.60 L85.01,358.60 L85.34,358.60 L85.67,358.60 L86.00,358.60 L86.33,358.60 L86.66,358.60 L86.99,358.60 L87.32,358.60 L87.65,358.60 L87.98,358.60 L88.31,358.60 L88.64,358.60 L88.97,358.60 L89.30,358.60 L89.63,358.60 L89.96,358.60 L90.29,358.60 L90.62,358.60 L90.95,358.60 L91.28,358.60 L91.61,358.60 L91.94,358.60 L92.27,358.60 L92.60,358.60 L92.93,358.60 L93.27,358.60 L93.60,358.60 L93.93,358.60 L94.26,358.60 L94.59,358.60 L94.92,358.60 L95.25,358.60 L95.58,358.60 L95.91,358.60 L96.24,358.60 L96.57,358.60 L96.90,358.60 L97.23,358.60 L97.56,358.60 L97.89,358.60 L98.22,358.60 L98.55,358.60 L98.88,358.60 L99.21,358.60 L99.54,358.60 L99.87,358.60 L100.20,358.60 L100.53,358.60 L100.86,358.60 L101.19,358.60 L101.52,358.60 L101.85,358.60 L102.18,358.60 L102.51,358.60 L102.84,358.60 L103.18,358.60 L103.51,358.60 L103.84,358.60 L104.17,358.60 L104.50,358.60 L104.83,358.60 L105.16,358.60 L105.49,358.60 L105.82,358.60 L106.15,358.60 L106.48,358.60 L106.81,358.60 L107.14,358.60 L107.47,358.60 L107.80,358.60 L108.13,358.60 L108.46,358.60 L108.79,358.60 L109.12,358.60 L109.45,358.60 L109.78,358.60 L110.11,358.60 L110.44,358.60 L110.77,358.60 L111.10,358.60 L111.43,358.60 L111.76,358.60 L112.09,358.60 L112.42,358.60 L112.75,358.60 L113.08,358.60 L113.42,358.60 L113.75,358.60 L114.08,358.60 L114.41,358.60 L114.74,358.60 L115.07,358.60 L115.40,358.60 L115.73,358.60 L116.06,358.60 L116.39,358.60 L116.72,358.60 L117.05,358.60 L117.38,358.60 L117.71,358.60 L118.04,358.60 L118.37,358.60 L118.70,358.60 L119.03,358.60 L119.36,358.60 L119.69,358.60 L120.02,358.60 L120.35,358.60 L120.68,358.60 L121.01,358.60 L121.34,358.60 L121.67,358.60 L122.00,358.60 L122.33,358.60 L122.66,358.60 L123.00,358.60 L123.33,358.60 L123.66,358.60 L123.99,358.60 L124.32,358.60 L124.65,358.60 L124.98,358.60 L125.31,358.60 L125.64,358.60 L125.97,358.59 L126.30,358.59 L126.63,358.59 L126.96,358.59 L127.29,358.59 L127.62,358.59 L127.95,358.59 L128.28,358.59 L128.61,358.59 L128.94,358.59 L129.27,358.59 L129.60,358.59 L129.93,358.59 L130.26,358.59 L130.59,358.59 L130.92,358.59 L131.25,358.59 L131.58,358.59 L131.91,358.59 L132.24,358.59 L132.57,358.59 L132.91,358.58 L133.24,358.58 L133.57,358.58 L133.90,358.58 L134.23,358.58 L134.56,358.58 L134.89,358.58 L135.22,358.58 L135.55,358.58 L135.88,358.58 L136.21,358.57 L136.54,358.57 L136.87,358.57 L137.20,358.57 L137.53,358.57 L137.86,358.57 L138.19,358.57 L138.52,358.56 L138.85,358.56 L139.18,358.56 L139.51,358.56 L139.84,358.56 L140.17,358.56 L140.50,358.55 L140.83,358.55 L141.16,358.55 L141.49,358.55 L141.82,358.54 L142.15,358.54 L142.48,358.54 L142.81,358.54 L143.15,358.53 L143.48,358.53 L143.81,358.53 L144.14,358.52 L144.47,358.52 L144.80,358.52 L145.13,358.51 L145.46,358.51 L145.79,358.50 L146.12,358.50 L146.45,358.50 L146.78,358.49 L147.11,358.49 L147.44,358.48 L147.77,358.48 L148.10,358.47 L148.43,358.47 L148.76,358.46 L149.09,358.45 L149.42,358.45 L149.75,358.44 L150.08,358.43 L150.41,358.43 L150.74,358.42 L151.07,358.41 L151.40,358.41 L151.73,358.40 L152.06,358.39 L152.39,358.38 L152.73,358.37 L153.06,358.36 L153.39,358.35 L153.72,358.34 L154.05,358.33 L154.38,358.32 L154.71,358.31 L155.04,358.30 L155.37,358.29 L155.70,358.28 L156.03,358.26 L156.36,358.25 L156.69,358.24 L157.02,358.22 L157.35,358.21 L157.68,358.20 L158.01,358.18 L158.34,358.17 L158.67,358.15 L159.00,358.13 L159.33,358.12 L159.66,358.10 L159.99,358.08 L160.32,358.06 L160.65,358.04 L160.98,358.02 L161.31,358.00 L161.64,357.98 L161.97,357.96 L162.30,357.94 L162.64,357.91 L162.97,357.89 L163.30,357.86 L163.63,357.84 L163.96,357.81 L164.29,357.79 L164.62,357.76 L164.95,357.73 L165.28,357.70 L165.61,357.67 L165.94,357.64 L166.27,357.61 L166.60,357.58 L166.93,357.55 L167.26,357.51 L167.59,357.48 L167.92,357.44 L168.25,357.41 L168.58,357.37 L168.91,357.33 L169.24,357.29 L169.57,357.25 L169.90,357.21 L170.23,357.17 L170.56,357.12 L170.89,357.08 L171.22,357.03 L171.55,356.99 L171.88,356.94 L172.21,356.89 L172.55,356.84 L172.88,356.79 L173.21,356.74 L173.54,356.69 L173.87,356.63 L174.20,356.58 L174.53,356.52 L174.86,356.46 L175.19,356.40 L175.52,356.34 L175.85,356.28 L176.18,356.22 L176.51,356.16 L176.84,356.09 L177.17,356.03 L177.50,355.96 L177.83,355.89 L178.16,355.82 L178.49,355.75 L178.82,355.68 L179.15,355.60 L179.48,355.53 L179.81,355.45 L180.14,355.37 L180.47,355.29 L180.80,355.21 L181.13,355.13 L181.46,355.05 L181.79,354.96 L182.12,354.88 L182.45,354.79 L182.79,354.70 L183.12,354.61 L183.45,354.52 L183.78,354.43 L184.11,354.33 L184.44,354.24 L184.77,354.14 L185.10,354.05 L185.43,353.95 L185.76,353.85 L186.09,353.74 L186.42,353.64 L186.75,353.54 L187.08,353.43 L187.41,353.32 L187.74,353.22 L188.07,353.11 L188.40,353.00 L188.73,352.89 L189.06,352.77 L189.39,352.66 L189.72,352.54 L190.05,352.43 L190.38,352.31 L190.71,352.19 L191.04,352.07 L191.37,351.95 L191.70,351.83 L192.03,351.71 L192.37,351.58 L192.70,351.46 L193.03,351.34 L193.36,351.21 L193.69,351.08 L194.02,350.95 L194.35,350.82 L194.68,350.69 L195.01,350.56 L195.34,350.43 L195.67,350.30 L196.00,350.17 L196.33,350.04 L196.66,349.90 L196.99,349.77 L197.32,349.63 L197.65,349.50 L197.98,349.36 L198.31,349.22 L198.64,349.09 L198.97,348.95 L199.30,348.81 L199.63,348.67 L199.96,348.53 L200.29,348.39 L200.62,348.25 L200.95,348.11 L201.28,347.97 L201.61,347.83 L201.94,347.69 L202.28,347.55 L202.61,347.41 L202.94,347.27 L203.27,347.13 L203.60,346.99 L203.93,346.84 L204.26,346.70 L204.59,346.56 L204.92,346.42 L205.25,346.28 L205.58,346.14 L205.91,345.99 L206.24,345.85 L206.57,345.71 L206.90,345.57 L207.23,345.43 L207.56,345.29 L207.89,345.15 L208.22,345.01 L208.55,344.87 L208.88,344.73 L209.21,344.59 L209.54,344.45 L209.87,344.31 L210.20,344.17 L210.53,344.03 L210.86,343.90 L211.19,343.76 L211.52,343.62 L211.85,343.49 L212.19,343.35 L212.52,343.22 L212.85,343.08 L213.18,342.95 L213.51,342.82 L213.84,342.68 L214.17,342.55 L214.50,342.42 L214.83,342.29 L215.16,342.16 L215.49,342.04 L215.82,341.91 L216.15,341.78 L216.48,341.66 L216.81,341.53 L217.14,341.41 L217.47,341.28 L217.80,341.16 L218.13,341.04 L218.46,340.92 L218.79,340.80 L219.12,340.68 L219.45,340.56 L219.78,340.44 L220.11,340.32 L220.44,340.20 L220.77,340.08 L221.10,339.97 L221.43,339.85 L221.76,339.73 L222.10,339.62 L222.43,339.50 L222.76,339.38 L223.09,339.26 L223.42,339.14 L223.75,339.02 L224.08,338.90 L224.41,338.78 L224.74,338.66 L225.07,338.54 L225.40,338.42 L225.73,338.29 L226.06,338.17 L226.39,338.04 L226.72,337.91 L227.05,337.78 L227.38,337.65 L227.71,337.52 L228.04,337.39 L228.37,337.26 L228.70,337.13 L229.03,336.99 L229.36,336.86 L229.69,336.73 L230.02,336.60 L230.35,336.46 L230.68,336.33 L231.01,336.20 L231.34,336.08 L231.67,335.95 L232.01,335.83 L232.34,335.71 L232.67,335.60 L233.00,335.49 L233.33,335.38 L233.66,335.28 L233.99,335.19 L234.32,335.10 L234.65,335.02 L234.98,334.95 L235.31,334.88 L235.64,334.82 L235.97,334.78 L236.30,334.74 L236.63,334.71 L236.96,334.69 L237.29,334.68 L237.62,334.68 L237.95,334.69 L238.28,334.71 L238.61,334.74 L238.94,334.78 L239.27,334.83 L239.60,334.89 L239.93,334.96 L240.26,335.03 L240.59,335.11 L240.92,335.20 L241.25,335.29 L241.58,335.38 L241.92,335.48 L242.25,335.57 L242.58,335.67 L242.91,335.76 L243.24,335.85 L243.57,335.93 L243.90,336.00 L244.23,336.07 L244.56,336.12 L244.89,336.17 L245.22,336.19 L245.55,336.21 L245.88,336.20 L246.21,336.18 L246.54,336.13 L246.87,336.06 L247.20,335.97 L247.53,335.86 L247.86,335.72 L248.19,335.55 L248.52,335.36 L248.85,335.14 L249.18,334.90 L249.51,334.62 L249.84,334.32 L250.17,333.99 L250.50,333.64 L250.83,333.26 L251.16,332.86 L251.49,332.44 L251.83,332.00 L252.16,331.53 L252.49,331.06 L252.82,330.57 L253.15,330.06 L253.48,329.56 L253.81,329.04 L254.14,328.53 L254.47,328.02 L254.80,327.52 L255.13,327.03 L255.46,326.56 L255.79,326.10 L256.12,325.67 L256.45,325.27 L256.78,324.91 L257.11,324.58 L257.44,324.29 L257.77,324.06 L258.10,323.87 L258.43,323.74 L258.76,323.66 L259.09,323.65 L259.42,323.70 L259.75,323.82 L260.08,324.01 L260.41,324.26 L260.74,324.59 L261.07,324.98 L261.40,325.44 L261.74,325.97 L262.07,326.57 L262.40,327.22 L262.73,327.94 L263.06,328.71 L263.39,329.53 L263.72,330.39 L264.05,331.29 L264.38,332.21 L264.71,333.16 L265.04,334.13 L265.37,335.10 L265.70,336.07 L266.03,337.03 L266.36,337.97 L266.69,338.88 L267.02,339.75 L267.35,340.58 L267.68,341.35 L268.01,342.06 L268.34,342.71 L268.67,343.27 L269.00,343.76 L269.33,344.16 L269.66,344.46 L269.99,344.66 L270.32,344.76 L270.65,344.76 L270.98,344.64 L271.31,344.42 L271.64,344.08 L271.98,343.63 L272.31,343.07 L272.64,342.40 L272.97,341.62 L273.30,340.74 L273.63,339.75 L273.96,338.66 L274.29,337.47 L274.62,336.20 L274.95,334.84 L275.28,333.41 L275.61,331.91 L275.94,330.34 L276.27,328.72 L276.60,327.05 L276.93,325.35 L277.26,323.62 L277.59,321.88 L277.92,320.13 L278.25,318.39 L278.58,316.67 L278.91,314.98 L279.24,313.33 L279.57,311.74 L279.90,310.21 L280.23,308.76 L280.56,307.41 L280.89,306.16 L281.22,305.03 L281.56,304.03 L281.89,303.16 L282.22,302.45 L282.55,301.90 L282.88,301.51 L283.21,301.30 L283.54,301.27 L283.87,301.43 L284.20,301.78 L284.53,302.32 L284.86,303.05 L285.19,303.98 L285.52,305.09 L285.85,306.39 L286.18,307.86 L286.51,309.50 L286.84,311.30 L287.17,313.24 L287.50,315.31 L287.83,317.49 L288.16,319.77 L288.49,322.13 L288.82,324.55 L289.15,327.01 L289.48,329.48 L289.81,331.95 L290.14,334.40 L290.47,336.79 L290.80,339.12 L291.13,341.37 L291.47,343.50 L291.80,345.51 L292.13,347.37 L292.46,349.07 L292.79,350.60 L293.12,351.93 L293.45,353.07 L293.78,353.99 L294.11,354.70 L294.44,355.18 L294.77,355.43 L295.10,355.45 L295.43,355.23 L295.76,354.77 L296.09,354.08 L296.42,353.16 L296.75,352.01 L297.08,350.65 L297.41,349.07 L297.74,347.28 L298.07,345.30 L298.40,343.14 L298.73,340.80 L299.06,338.30 L299.39,335.66 L299.72,332.88 L300.05,329.98 L300.38,326.99 L300.71,323.91 L301.04,320.76 L301.38,317.56 L301.71,314.33 L302.04,311.09 L302.37,307.85 L302.70,304.64 L303.03,301.47 L303.36,298.38 L303.69,295.36 L304.02,292.45 L304.35,289.67 L304.68,287.04 L305.01,284.57 L305.34,282.29 L305.67,280.20 L306.00,278.35 L306.33,276.72 L306.66,275.35 L306.99,274.25 L307.32,273.43 L307.65,272.90 L307.98,272.68 L308.31,272.76 L308.64,273.15 L308.97,273.86 L309.30,274.88 L309.63,276.22 L309.96,277.86 L310.29,279.80 L310.62,282.02 L310.95,284.52 L311.29,287.27 L311.62,290.26 L311.95,293.46 L312.28,296.85 L312.61,300.40 L312.94,304.08 L313.27,307.86 L313.60,311.71 L313.93,315.60 L314.26,319.50 L314.59,323.37 L314.92,327.17 L315.25,330.88 L315.58,334.46 L315.91,337.88 L316.24,341.12 L316.57,344.14 L316.90,346.93 L317.23,349.45 L317.56,351.70 L317.89,353.64 L318.22,355.27 L318.55,356.58 L318.88,357.54 L319.21,358.17 L319.54,358.45 L319.87,358.37 L320.20,357.95 L320.53,357.19 L320.86,356.08 L321.20,354.65 L321.53,352.89 L321.86,350.82 L322.19,348.45 L322.52,345.79 L322.85,342.88 L323.18,339.71 L323.51,336.31 L323.84,332.69 L324.17,328.89 L324.50,324.92 L324.83,320.81 L325.16,316.57 L325.49,312.23 L325.82,307.82 L326.15,303.36 L326.48,298.87 L326.81,294.39 L327.14,289.94 L327.47,285.54 L327.80,281.22 L328.13,277.01 L328.46,272.94 L328.79,269.02 L329.12,265.30 L329.45,261.78 L329.78,258.50 L330.11,255.47 L330.44,252.73 L330.77,250.30 L331.11,248.19 L331.44,246.42 L331.77,245.01 L332.10,243.98 L332.43,243.33 L332.76,243.08 L333.09,243.23 L333.42,243.79 L333.75,244.76 L334.08,246.14 L334.41,247.91 L334.74,250.08 L335.07,252.63 L335.40,255.55 L335.73,258.80 L336.06,262.38 L336.39,266.24 L336.72,270.38 L337.05,274.74 L337.38,279.29 L337.71,284.01 L338.04,288.84 L338.37,293.75 L338.70,298.70 L339.03,303.64 L339.36,308.53 L339.69,313.34 L340.02,318.01 L340.35,322.51 L340.68,326.81 L341.01,330.86 L341.35,334.63 L341.68,338.10 L342.01,341.24 L342.34,344.01 L342.67,346.41 L343.00,348.42 L343.33,350.01 L343.66,351.19 L343.99,351.93 L344.32,352.25 L344.65,352.14 L344.98,351.60 L345.31,350.64 L345.64,349.26 L345.97,347.48 L346.30,345.32 L346.63,342.77 L346.96,339.88 L347.29,336.64 L347.62,333.10 L347.95,329.25 L348.28,325.14 L348.61,320.79 L348.94,316.21 L349.27,311.45 L349.60,306.52 L349.93,301.46 L350.26,296.30 L350.59,291.05 L350.93,285.76 L351.26,280.46 L351.59,275.17 L351.92,269.93 L352.25,264.76 L352.58,259.69 L352.91,254.77 L353.24,250.01 L353.57,245.45 L353.90,241.11 L354.23,237.03 L354.56,233.22 L354.89,229.73 L355.22,226.56 L355.55,223.76 L355.88,221.33 L356.21,219.29 L356.54,217.68 L356.87,216.49 L357.20,215.75 L357.53,215.46 L357.86,215.64 L358.19,216.27 L358.52,217.37 L358.85,218.93 L359.18,220.95 L359.51,223.40 L359.84,226.28 L360.17,229.57 L360.50,233.24 L360.84,237.26 L361.17,241.61 L361.50,246.25 L361.83,251.14 L362.16,256.25 L362.49,261.53 L362.82,266.94 L363.15,272.42 L363.48,277.95 L363.81,283.46 L364.14,288.91 L364.47,294.26 L364.80,299.45 L365.13,304.46 L365.46,309.23 L365.79,313.72 L366.12,317.90 L366.45,321.75 L366.78,325.21 L367.11,328.29 L367.44,330.94 L367.77,333.15 L368.10,334.92 L368.43,336.22 L368.76,337.05 L369.09,337.41 L369.42,337.30 L369.75,336.72 L370.08,335.69 L370.41,334.20 L370.75,332.29 L371.08,329.95 L371.41,327.21 L371.74,324.09 L372.07,320.61 L372.40,316.80 L372.73,312.68 L373.06,308.27 L373.39,303.61 L373.72,298.72 L374.05,293.64 L374.38,288.39 L374.71,283.00 L375.04,277.51 L375.37,271.95 L375.70,266.34 L376.03,260.73 L376.36,255.14 L376.69,249.61 L377.02,244.16 L377.35,238.84 L377.68,233.66 L378.01,228.67 L378.34,223.88 L378.67,219.34 L379.00,215.07 L379.33,211.10 L379.66,207.45 L379.99,204.15 L380.32,201.22 L380.66,198.69 L380.99,196.57 L381.32,194.88 L381.65,193.64 L381.98,192.85 L382.31,192.53 L382.64,192.68 L382.97,193.31 L383.30,194.41 L383.63,195.98 L383.96,198.02 L384.29,200.50 L384.62,203.41 L384.95,206.73 L385.28,210.44 L385.61,214.51 L385.94,218.90 L386.27,223.59 L386.60,228.53 L386.93,233.69 L387.26,239.01 L387.59,244.46 L387.92,249.99 L388.25,255.56 L388.58,261.10 L388.91,266.59 L389.24,271.97 L389.57,277.19 L389.90,282.22 L390.23,287.01 L390.57,291.52 L390.90,295.72 L391.23,299.57 L391.56,303.05 L391.89,306.14 L392.22,308.80 L392.55,311.03 L392.88,312.80 L393.21,314.12 L393.54,314.97 L393.87,315.36 L394.20,315.28 L394.53,314.74 L394.86,313.74 L395.19,312.31 L395.52,310.45 L395.85,308.19 L396.18,305.53 L396.51,302.50 L396.84,299.12 L397.17,295.43 L397.50,291.43 L397.83,287.16 L398.16,282.66 L398.49,277.93 L398.82,273.03 L399.15,267.96 L399.48,262.78 L399.81,257.50 L400.14,252.15 L400.48,246.78 L400.81,241.40 L401.14,236.06 L401.47,230.77 L401.80,225.57 L402.13,220.50 L402.46,215.57 L402.79,210.82 L403.12,206.28 L403.45,201.97 L403.78,197.92 L404.11,194.16 L404.44,190.70 L404.77,187.58 L405.10,184.81 L405.43,182.41 L405.76,180.40 L406.09,178.79 L406.42,177.61 L406.75,176.85 L407.08,176.52 L407.41,176.63 L407.74,177.18 L408.07,178.17 L408.40,179.60 L408.73,181.45 L409.06,183.71 L409.39,186.37 L409.72,189.40 L410.05,192.79 L410.38,196.50 L410.72,200.52 L411.05,204.79 L411.38,209.30 L411.71,214.00 L412.04,218.86 L412.37,223.82 L412.70,228.86 L413.03,233.92 L413.36,238.97 L413.69,243.96 L414.02,248.84 L414.35,253.58 L414.68,258.15 L415.01,262.49 L415.34,266.58 L415.67,270.39 L416.00,273.88 L416.33,277.04 L416.66,279.83 L416.99,282.25 L417.32,284.27 L417.65,285.89 L417.98,287.09 L418.31,287.88 L418.64,288.25 L418.97,288.21 L419.30,287.75 L419.63,286.90 L419.96,285.65 L420.29,284.03 L420.63,282.05 L420.96,279.73 L421.29,277.09 L421.62,274.14 L421.95,270.91 L422.28,267.43 L422.61,263.72 L422.94,259.80 L423.27,255.70 L423.60,251.44 L423.93,247.06 L424.26,242.57 L424.59,238.01 L424.92,233.41 L425.25,228.78 L425.58,224.16 L425.91,219.58 L426.24,215.05 L426.57,210.60 L426.90,206.27 L427.23,202.07 L427.56,198.03 L427.89,194.17 L428.22,190.52 L428.55,187.09 L428.88,183.91 L429.21,180.99 L429.54,178.35 L429.87,176.01 L430.21,173.99 L430.54,172.30 L430.87,170.94 L431.20,169.93 L431.53,169.28 L431.86,168.99 L432.19,169.06 L432.52,169.50 L432.85,170.29 L433.18,171.45 L433.51,172.94 L433.84,174.78 L434.17,176.93 L434.50,179.40 L434.83,182.14 L435.16,185.15 L435.49,188.40 L435.82,191.86 L436.15,195.51 L436.48,199.30 L436.81,203.22 L437.14,207.22 L437.47,211.27 L437.80,215.34 L438.13,219.39 L438.46,223.39 L438.79,227.31 L439.12,231.10 L439.45,234.75 L439.78,238.22 L440.12,241.48 L440.45,244.51 L440.78,247.29 L441.11,249.80 L441.44,252.02 L441.77,253.94 L442.10,255.55 L442.43,256.83 L442.76,257.79 L443.09,258.42 L443.42,258.72 L443.75,258.70 L444.08,258.36 L444.41,257.71 L444.74,256.77 L445.07,255.53 L445.40,254.01 L445.73,252.24 L446.06,250.22 L446.39,247.98 L446.72,245.53 L447.05,242.89 L447.38,240.07 L447.71,237.11 L448.04,234.03 L448.37,230.83 L448.70,227.54 L449.03,224.19 L449.36,220.80 L449.69,217.37 L450.02,213.95 L450.36,210.53 L450.69,207.15 L451.02,203.83 L451.35,200.58 L451.68,197.41 L452.01,194.36 L452.34,191.43 L452.67,188.63 L453.00,186.00 L453.33,183.53 L453.66,181.25 L453.99,179.16 L454.32,177.28 L454.65,175.62 L454.98,174.19 L455.31,172.99 L455.64,172.03 L455.97,171.32 L456.30,170.86 L456.63,170.65 L456.96,170.69 L457.29,170.99 L457.62,171.53 L457.95,172.31 L458.28,173.33 L458.61,174.58 L458.94,176.04 L459.27,177.70 L459.60,179.55 L459.94,181.58 L460.27,183.76 L460.60,186.07 L460.93,188.50 L461.26,191.03 L461.59,193.63 L461.92,196.28 L462.25,198.95 L462.58,201.63 L462.91,204.29 L463.24,206.91 L463.57,209.47 L463.90,211.94 L464.23,214.31 L464.56,216.55 L464.89,218.66 L465.22,220.61 L465.55,222.40 L465.88,224.01 L466.21,225.43 L466.54,226.66 L466.87,227.68 L467.20,228.50 L467.53,229.11 L467.86,229.51 L468.19,229.71 L468.52,229.71 L468.85,229.52 L469.18,229.13 L469.51,228.56 L469.85,227.82 L470.18,226.91 L470.51,225.85 L470.84,224.65 L471.17,223.32 L471.50,221.87 L471.83,220.32 L472.16,218.67 L472.49,216.94 L472.82,215.15 L473.15,213.30 L473.48,211.41 L473.81,209.49 L474.14,207.56 L474.47,205.62 L474.80,203.69 L475.13,201.78 L475.46,199.90 L475.79,198.06 L476.12,196.27 L476.45,194.54 L476.78,192.88 L477.11,191.29 L477.44,189.79 L477.77,188.38 L478.10,187.07 L478.43,185.86 L478.76,184.77 L479.09,183.78 L479.42,182.91 L479.75,182.17 L480.09,181.54 L480.42,181.04 L480.75,180.66 L481.08,180.41 L481.41,180.29 L481.74,180.28 L482.07,180.40 L482.40,180.64 L482.73,180.98 L483.06,181.44 L483.39,181.99 L483.72,182.65 L484.05,183.39 L484.38,184.22 L484.71,185.12 L485.04,186.08 L485.37,187.10 L485.70,188.17 L486.03,189.27 L486.36,190.40 L486.69,191.55 L487.02,192.71 L487.35,193.87 L487.68,195.01 L488.01,196.14 L488.34,197.24 L488.67,198.30 L489.00,199.32 L489.33,200.29 L489.66,201.20 L490.00,202.05 L490.33,202.84 L490.66,203.55 L490.99,204.19 L491.32,204.75 L491.65,205.24 L491.98,205.64 L492.31,205.97 L492.64,206.22 L492.97,206.39 L493.30,206.48 L493.63,206.50 L493.96,206.45 L494.29,206.33 L494.62,206.14 L494.95,205.89 L495.28,205.59 L495.61,205.23 L495.94,204.82 L496.27,204.36 L496.60,203.87 L496.93,203.34 L497.26,202.77 L497.59,202.18 L497.92,201.57 L498.25,200.93 L498.58,200.29 L498.91,199.63 L499.24,198.96 L499.58,198.29 L499.91,197.63 L500.24,196.96 L500.57,196.31 L500.90,195.66 L501.23,195.03 L501.56,194.42 L501.89,193.82 L502.22,193.25 L502.55,192.69 L502.88,192.17 L503.21,191.66 L503.54,191.19 L503.87,190.75 L504.20,190.33 L504.53,189.95 L504.86,189.60 L505.19,189.28 L505.52,189.00 L505.85,188.75 L506.18,188.53 L506.51,188.34 L506.84,188.19 L507.17,188.07 L507.50,187.98 L507.83,187.92 L508.16,187.90 L508.49,187.90 L508.82,187.92 L509.15,187.98 L509.49,188.06 L509.82,188.16 L510.15,188.29 L510.48,188.44 L510.81,188.60 L511.14,188.79 L511.47,188.99 L511.80,189.20 L512.13,189.42 L512.46,189.66 L512.79,189.90 L513.12,190.15 L513.45,190.40 L513.78,190.66 L514.11,190.91 L514.44,191.17 L514.77,191.42 L515.10,191.67 L515.43,191.92 L515.76,192.16 L516.09,192.38 L516.42,192.60 L516.75,192.81 L517.08,193.01 L517.41,193.19 L517.74,193.36 L518.07,193.51 L518.40,193.65 L518.73,193.77 L519.06,193.87 L519.40,193.95 L519.73,194.01 L520.06,194.06 L520.39,194.08 L520.72,194.08 L521.05,194.07 L521.38,194.03 L521.71,193.97 L522.04,193.89 L522.37,193.79 L522.70,193.67 L523.03,193.54 L523.36,193.38 L523.69,193.20 L524.02,193.00 L524.35,192.79 L524.68,192.56 L525.01,192.31 L525.34,192.05 L525.67,191.77 L526.00,191.48 L526.33,191.18 L526.66,190.86 L526.99,190.53 L527.32,190.20 L527.65,189.86 L527.98,189.51 L528.31,189.15 L528.64,188.79 L528.97,188.43 L529.31,188.07 L529.64,187.70 L529.97,187.34 L530.30,186.98 L530.63,186.62 L530.96,186.26 L531.29,185.92 L531.62,185.57 L531.95,185.24 L532.28,184.91 L532.61,184.60 L532.94,184.29 L533.27,184.00 L533.60,183.72 L533.93,183.45 L534.26,183.19 L534.59,182.95 L534.92,182.72 L535.25,182.51 L535.58,182.31 L535.91,182.13 L536.24,181.96 L536.57,181.81 L536.90,181.67 L537.23,181.55 L537.56,181.44 L537.89,181.35 L538.22,181.27 L538.55,181.20 L538.88,181.15 L539.22,181.11 L539.55,181.08 L539.88,181.06 L540.21,181.06 L540.54,181.06 L540.87,181.07 L541.20,181.10 L541.53,181.12 L541.86,181.16 L542.19,181.20 L542.52,181.24 L542.85,181.29 L543.18,181.34 L543.51,181.39 L543.84,181.45 L544.17,181.50 L544.50,181.55 L544.83,181.60 L545.16,181.65 L545.49,181.69 L545.82,181.73 L546.15,181.77 L546.48,181.79 L546.81,181.82 L547.14,181.83 L547.47,181.84 L547.80,181.84 L548.13,181.83 L548.46,181.81 L548.79,181.78 L549.13,181.74 L549.46,181.69 L549.79,181.63 L550.12,181.56 L550.45,181.48 L550.78,181.39 L551.11,181.29 L551.44,181.18 L551.77,181.06 L552.10,180.92 L552.43,180.78 L552.76,180.63 L553.09,180.46 L553.42,180.29 L553.75,180.11 L554.08,179.92 L554.41,179.72 L554.74,179.52 L555.07,179.31 L555.40,179.09 L555.73,178.86 L556.06,178.63 L556.39,178.39 L556.72,178.15 L557.05,177.91 L557.38,177.66 L557.71,177.41 L558.04,177.16 L558.37,176.90 L558.70,176.65 L559.04,176.40 L559.37,176.14 L559.70,175.89 L560.03,175.64 L560.36,175.39 L560.69,175.14 L561.02,174.90 L561.35,174.66 L561.68,174.42 L562.01,174.19 L562.34,173.97 L562.67,173.75 L563.00,173.53 L563.33,173.32 L563.66,173.12 L563.99,172.93 L564.32,172.74 L564.65,172.56 L564.98,172.38 L565.31,172.22 L565.64,172.06 L565.97,171.91 L566.30,171.76 L566.63,171.63 L566.96,171.50 L567.29,171.38 L567.62,171.27 L567.95,171.16 L568.28,171.07 L568.61,170.98 L568.95,170.89 L569.28,170.82 L569.61,170.75 L569.94,170.69 L570.27,170.64 L570.60,170.59 L570.93,170.54 L571.26,170.51 L571.59,170.48 L571.92,170.45 L572.25,170.43 L572.58,170.41 L572.91,170.40 L573.24,170.39 L573.57,170.39 L573.90,170.39 L574.23,170.39 L574.56,170.39 L574.89,170.40 L575.22,170.41 L575.55,170.42 L575.88,170.43 L576.21,170.44 L576.54,170.45 L576.87,170.47 L577.20,170.48 L577.53,170.49 L577.86,170.51 L578.19,170.52 L578.52,170.53 L578.86,170.55 L579.19,170.56 L579.52,170.57 L579.85,170.57 L580.18,170.58 L580.51,170.58 L580.84,170.59 L581.17,170.59 L581.50,170.59 L581.83,170.58 L582.16,170.58 L582.49,170.57 L582.82,170.56 L583.15,170.54 L583.48,170.53 L583.81,170.51 L584.14,170.49 L584.47,170.47 L584.80,170.45 L585.13,170.42 L585.46,170.39 L585.79,170.36 L586.12,170.33 L586.45,170.29 L586.78,170.26 L587.11,170.22 L587.44,170.18 L587.77,170.14 L588.10,170.09 L588.43,170.05 L588.77,170.00 L589.10,169.96 L589.43,169.91 L589.76,169.86 L590.09,169.81 L590.42,169.77 L590.75,169.72 L591.08,169.67 L591.41,169.62 L591.74,169.57 L592.07,169.52 L592.40,169.47 L592.73,169.42 L593.06,169.37 L593.39,169.33 L593.72,169.28 L594.05,169.23 L594.38,169.19 L594.71,169.14 L595.04,169.10 L595.37,169.06 L595.70,169.02 L596.03,168.98 L596.36,168.94 L596.69,168.91 L597.02,168.87 L597.35,168.84 L597.68,168.81 L598.01,168.78 L598.34,168.75 L598.67,168.72 L599.01,168.70 L599.34,168.67 L599.67,168.65 L600.00,168.63 L600.33,168.61 L600.66,168.60 L600.99,168.58 L601.32,168.57 L601.65,168.56 L601.98,168.54 L602.31,168.54 L602.64,168.53 L602.97,168.52 L603.30,168.52 L603.63,168.51 L603.96,168.51 L604.29,168.51 L604.62,168.51 L604.95,168.51 L605.28,168.51 L605.61,168.51 L605.94,168.51 L606.27,168.52 L606.60,168.52 L606.93,168.53 L607.26,168.53 L607.59,168.54 L607.92,168.55 L608.25,168.56 L608.59,168.56 L608.92,168.57 L609.25,168.58 L609.58,168.59 L609.91,168.60 L610.24,168.61 L610.57,168.61 L610.90,168.62 L611.23,168.63 L611.56,168.64 L611.89,168.65 L612.22,168.66 L612.55,168.67 L612.88,168.67 L613.21,168.68 L613.54,168.69 L613.87,168.70 L614.20,168.70 L614.53,168.71 L614.86,168.71 L615.19,168.72 L615.52,168.73 L615.85,168.73 L616.18,168.74 L616.51,168.74 L616.84,168.74 L617.17,168.75 L617.50,168.75 L617.83,168.75 L618.16,168.75 L618.50,168.76 L618.83,168.76 L619.16,168.76 L619.49,168.76 L619.82,168.76 L620.15,168.76 L620.48,168.76 L620.81,168.76 L621.14,168.76 L621.47,168.76 L621.80,168.75 L622.13,168.75 L622.46,168.75 L622.79,168.75 L623.12,168.75 L623.45,168.74 L623.78,168.74 L624.11,168.74 L624.44,168.74 L624.77,168.73 L625.10,168.73 L625.43,168.73 L625.76,168.72 L626.09,168.72 L626.42,168.72 L626.75,168.71 L627.08,168.71 L627.41,168.71 L627.74,168.70 L628.07,168.70 L628.40,168.70 L628.74,168.70 L629.07,168.69 L629.40,168.69 L629.73,168.69 L630.06,168.68 L630.39,168.68 L630.72,168.68 L631.05,168.68 L631.38,168.67 L631.71,168.67 L632.04,168.67 L632.37,168.67 L632.70,168.67 L633.03,168.66 L633.36,168.66 L633.69,168.66 L634.02,168.66 L634.35,168.66 L634.68,168.66 L635.01,168.66 L635.34,168.66 L635.67,168.65 L636.00,168.65 L636.33,168.65 L636.66,168.65 L636.99,168.65 L637.32,168.65 L637.65,168.65 L637.98,168.65 L638.32,168.65 L638.65,168.65 L638.98,168.65 L639.31,168.65 L639.64,168.65 L639.97,168.65 L640.30,168.65 L640.63,168.65 L640.96,168.65 L641.29,168.65 L641.62,168.65 L641.95,168.66 L642.28,168.66 L642.61,168.66 L642.94,168.66 L643.27,168.66 L643.60,168.66 L643.93,168.66 L644.26,168.66 L644.59,168.66 L644.92,168.66 L645.25,168.66 L645.58,168.66 L645.91,168.66 L646.24,168.66 L646.57,168.66 L646.90,168.66 L647.23,168.66 L647.56,168.67 L647.89,168.67 L648.23,168.67 L648.56,168.67 L648.89,168.67 L649.22,168.67 L649.55,168.67 L649.88,168.67 L650.21,168.67 L650.54,168.67 L650.87,168.67 L651.20,168.67 L651.53,168.67 L651.86,168.67 L652.19,168.67 L652.52,168.67 L652.85,168.67 L653.18,168.67 L653.51,168.67 L653.84,168.67 L654.17,168.67 L654.50,168.67 L654.83,168.67 L655.16,168.67 L655.49,168.67 L655.82,168.67 L656.15,168.67 L656.48,168.67 L656.81,168.67 L657.14,168.67 L657.47,168.67 L657.80,168.67 L658.13,168.67 L658.47,168.67 L658.80,168.67 L659.13,168.67 L659.46,168.67 L659.79,168.67 L660.12,168.67 L660.45,168.67 L660.78,168.67 L661.11,168.67 L661.44,168.67 L661.77,168.67 L662.10,168.67 L662.43,168.67 L662.76,168.67 L663.09,168.67 L663.42,168.67 L663.75,168.67 L664.08,168.67 L664.41,168.67 L664.74,168.67 L665.07,168.67 L665.40,168.67 L665.73,168.67 L666.06,168.67 L666.39,168.67 L666.72,168.67 L667.05,168.67 L667.38,168.67 L667.71,168.67 L668.05,168.67 L668.38,168.67 L668.71,168.67 L669.04,168.67 L669.37,168.67 L669.70,168.67 L670.03,168.67 L670.36,168.67 L670.69,168.67 L671.02,168.67 L671.35,168.67 L671.68,168.67 L672.01,168.67 L672.34,168.67 L672.67,168.67 L673.00,168.67" stroke="#f00"/>
</g>
<path d="M668,358.4 H673.0" stroke="#000" stroke-width="0.8"/>
<path d="M663.4,364.9 H671.2" stroke="#000" stroke-width="1.9"/>
<defs><radialGradient id="sg" cx="0.42" cy="0.38" r="0.65"><stop offset="0" stop-color="#efebed"/><stop offset="0.55" stop-color="#e4dee1"/><stop offset="0.9" stop-color="#d3ccd1"/><stop offset="1" stop-color="#cbc4ca"/></radialGradient></defs>
<ellipse cx="583.0" cy="263.8" rx="76.3" ry="68.3" fill="url(#sg)"/>
<path d="M546.8,308.1 L546.6,309.1 L546.5,310.2 L546.5,311.3 L546.6,312.4 L546.9,313.4 L547.2,314.5 L547.6,315.5 L548.1,316.6 L548.8,317.6 L549.5,318.6 L550.3,319.6 L551.2,320.6 L552.2,321.5 L553.3,322.4 L554.5,323.3 L555.7,324.1 L557.0,324.9 L558.5,325.7 L559.9,326.4 L561.5,327.1 L563.1,327.7 L564.8,328.3 L566.5,328.8 L568.3,329.3 L570.1,329.7 L572.0,330.1 L573.9,330.4 L575.8,330.6 L577.8,330.8 L579.7,330.9 L581.7,331.0 L583.7,331.0 L585.6,331.0 L587.6,330.8 L589.5,330.7 L591.5,330.5 L593.4,330.2 L595.3,329.8 L597.1,329.4 L598.9,329.0 L600.6,328.5 L602.3,327.9 L604.0,327.3 L605.5,326.6 L607.1,325.9 L608.5,325.2 L609.9,324.4 L611.1,323.6 L612.3,322.7 L613.5,321.8 L614.5,320.9 L615.4,319.9 L616.3,319.0 L617.0,318.0 L617.7,316.9 L618.2,315.9 L618.7,314.8 L619.0,313.8 L619.3,312.7 L619.5,311.6 L619.5,310.6 L619.5,309.5 L619.3,308.4 L619.1,307.4 L618.7,306.3 L618.3,305.3 L617.8,304.3 L617.1,303.3 L616.4,302.3 L615.6,301.3 L614.7,300.4 L613.8,299.5 L612.7,298.6 L611.6,297.8 L610.4,297.0 L609.1,296.2 L607.8,295.5 L606.4,294.8 L604.9,294.1 L603.4,293.5 L601.8,293.0 L600.2,292.5 L598.5,292.0 L596.8,291.6 L595.1,291.2 L593.3,290.9 L591.6,290.6 L589.7,290.4 L587.9,290.2 L586.1,290.1 L584.2,290.0 L582.4,290.0 L580.5,290.1 L578.7,290.2 L576.9,290.3 L575.0,290.5 L573.2,290.8 L571.5,291.1 L569.7,291.4 L568.0,291.8 L566.3,292.3 L564.7,292.8 L563.1,293.3 L561.6,293.9 L560.1,294.6 L558.7,295.2 L557.3,296.0 L556.0,296.7 L554.8,297.5 L553.7,298.3 L552.6,299.2 L551.6,300.1 L550.7,301.0 L549.8,302.0 L549.1,302.9 L548.4,303.9 L547.9,304.9 L547.4,306.0 L547.0,307.0 L546.8,308.1 M519.3,287.8 L518.9,289.6 L518.7,291.5 L518.6,293.3 L518.7,295.1 L519.0,297.0 L519.5,298.8 L520.2,300.6 L521.1,302.5 L522.1,304.2 L523.3,306.0 L524.7,307.7 L526.2,309.4 L527.9,311.1 L529.8,312.7 L531.9,314.2 L534.1,315.7 L536.4,317.1 L538.9,318.4 L541.5,319.7 L544.3,320.9 L547.2,322.0 L550.2,323.1 L553.3,324.0 L556.5,324.8 L559.8,325.6 L563.1,326.2 L566.5,326.8 L570.0,327.2 L573.5,327.6 L577.1,327.8 L580.6,327.9 L584.2,327.9 L587.8,327.9 L591.3,327.7 L594.8,327.4 L598.3,326.9 L601.8,326.4 L605.1,325.8 L608.4,325.1 L611.7,324.3 L614.8,323.4 L617.8,322.4 L620.7,321.3 L623.5,320.1 L626.2,318.9 L628.8,317.5 L631.2,316.2 L633.4,314.7 L635.5,313.2 L637.5,311.6 L639.2,310.0 L640.8,308.3 L642.3,306.6 L643.5,304.8 L644.6,303.1 L645.5,301.3 L646.3,299.4 L646.8,297.6 L647.2,295.8 L647.4,293.9 L647.4,292.1 L647.2,290.2 L646.9,288.4 L646.4,286.6 L645.7,284.8 L644.8,283.1 L643.8,281.4 L642.7,279.7 L641.4,278.0 L639.9,276.4 L638.3,274.9 L636.5,273.4 L634.6,271.9 L632.6,270.5 L630.5,269.2 L628.3,267.9 L625.9,266.7 L623.4,265.6 L620.9,264.5 L618.2,263.5 L615.5,262.6 L612.7,261.7 L609.8,261.0 L606.9,260.3 L603.9,259.7 L600.8,259.1 L597.7,258.7 L594.6,258.4 L591.5,258.1 L588.3,257.9 L585.1,257.8 L581.9,257.8 L578.8,257.9 L575.6,258.0 L572.4,258.3 L569.3,258.6 L566.2,259.0 L563.1,259.5 L560.1,260.1 L557.2,260.7 L554.3,261.5 L551.4,262.3 L548.7,263.2 L546.0,264.1 L543.4,265.2 L540.9,266.3 L538.5,267.5 L536.2,268.7 L534.1,270.1 L532.0,271.4 L530.1,272.9 L528.3,274.4 L526.6,275.9 L525.1,277.5 L523.7,279.1 L522.5,280.8 L521.5,282.5 L520.6,284.3 L519.8,286.0 L519.3,287.8 M507.7,260.4 L507.2,262.4 L506.9,264.5 L506.8,266.6 L506.9,268.7 L507.2,270.7 L507.8,272.8 L508.5,274.9 L509.5,277.0 L510.7,279.0 L512.1,281.0 L513.7,283.0 L515.5,284.9 L517.5,286.8 L519.7,288.6 L522.1,290.4 L524.7,292.1 L527.5,293.7 L530.4,295.2 L533.5,296.7 L536.8,298.1 L540.2,299.4 L543.8,300.5 L547.5,301.6 L551.3,302.6 L555.2,303.5 L559.2,304.2 L563.3,304.9 L567.5,305.4 L571.7,305.8 L575.9,306.0 L580.2,306.2 L584.4,306.2 L588.7,306.1 L592.9,305.9 L597.1,305.5 L601.3,305.0 L605.4,304.4 L609.5,303.7 L613.4,302.9 L617.2,302.0 L621.0,300.9 L624.6,299.8 L628.1,298.5 L631.4,297.2 L634.6,295.7 L637.6,294.2 L640.4,292.6 L643.1,290.9 L645.5,289.2 L647.8,287.4 L649.9,285.5 L651.8,283.6 L653.4,281.7 L654.9,279.7 L656.1,277.6 L657.2,275.6 L658.0,273.5 L658.6,271.4 L659.0,269.4 L659.2,267.3 L659.2,265.2 L658.9,263.1 L658.5,261.1 L657.8,259.0 L657.0,257.0 L656.0,255.0 L654.7,253.1 L653.3,251.2 L651.8,249.4 L650.0,247.6 L648.1,245.8 L646.0,244.1 L643.7,242.5 L641.3,240.9 L638.8,239.5 L636.1,238.0 L633.4,236.7 L630.5,235.4 L627.4,234.2 L624.3,233.1 L621.1,232.1 L617.8,231.2 L614.4,230.3 L611.0,229.6 L607.4,228.9 L603.9,228.3 L600.3,227.8 L596.6,227.4 L592.9,227.1 L589.2,226.9 L585.5,226.8 L581.8,226.8 L578.0,226.9 L574.3,227.0 L570.6,227.3 L567.0,227.7 L563.3,228.1 L559.7,228.7 L556.2,229.3 L552.7,230.1 L549.3,230.9 L546.0,231.8 L542.7,232.8 L539.6,233.9 L536.5,235.0 L533.6,236.3 L530.8,237.6 L528.1,239.0 L525.5,240.4 L523.0,242.0 L520.8,243.6 L518.6,245.2 L516.6,247.0 L514.8,248.8 L513.2,250.6 L511.7,252.5 L510.4,254.4 L509.3,256.4 L508.4,258.4 L507.7,260.4 M516.1,232.5 L515.7,234.2 L515.5,236.0 L515.4,237.7 L515.5,239.5 L515.8,241.3 L516.3,243.0 L517.0,244.8 L517.9,246.5 L519.0,248.2 L520.2,249.9 L521.7,251.5 L523.3,253.1 L525.1,254.7 L527.1,256.2 L529.2,257.7 L531.5,259.1 L534.0,260.5 L536.6,261.8 L539.4,263.0 L542.3,264.2 L545.3,265.2 L548.5,266.2 L551.7,267.1 L555.1,267.9 L558.5,268.6 L562.1,269.3 L565.7,269.8 L569.3,270.2 L573.0,270.5 L576.7,270.8 L580.5,270.9 L584.3,270.9 L588.0,270.8 L591.7,270.6 L595.5,270.3 L599.1,269.9 L602.7,269.5 L606.3,268.9 L609.8,268.2 L613.2,267.4 L616.5,266.5 L619.6,265.6 L622.7,264.5 L625.7,263.4 L628.5,262.2 L631.1,260.9 L633.7,259.6 L636.0,258.2 L638.2,256.7 L640.3,255.2 L642.1,253.7 L643.8,252.1 L645.3,250.4 L646.6,248.8 L647.7,247.1 L648.7,245.3 L649.4,243.6 L650.0,241.8 L650.4,240.1 L650.6,238.3 L650.6,236.6 L650.4,234.8 L650.0,233.1 L649.5,231.4 L648.8,229.7 L647.9,228.0 L646.8,226.4 L645.6,224.8 L644.2,223.2 L642.6,221.7 L640.9,220.2 L639.1,218.7 L637.1,217.4 L635.0,216.0 L632.8,214.8 L630.4,213.5 L627.9,212.4 L625.3,211.3 L622.7,210.3 L619.9,209.4 L617.0,208.5 L614.1,207.7 L611.1,207.0 L608.0,206.3 L604.8,205.7 L601.7,205.2 L598.4,204.8 L595.2,204.5 L591.9,204.2 L588.5,204.0 L585.2,204.0 L581.9,203.9 L578.6,204.0 L575.2,204.2 L571.9,204.4 L568.7,204.7 L565.4,205.1 L562.2,205.6 L559.1,206.1 L556.0,206.7 L552.9,207.4 L550.0,208.2 L547.1,209.1 L544.3,210.0 L541.5,211.0 L538.9,212.0 L536.4,213.2 L534.0,214.3 L531.7,215.6 L529.6,216.9 L527.5,218.3 L525.7,219.7 L523.9,221.2 L522.3,222.7 L520.9,224.2 L519.6,225.8 L518.5,227.5 L517.5,229.1 L516.7,230.8 L516.1,232.5 M543.6,212.1 L543.4,213.1 L543.3,214.0 L543.3,215.0 L543.4,216.0 L543.7,217.0 L544.0,218.0 L544.5,219.0 L545.0,219.9 L545.7,220.9 L546.5,221.8 L547.4,222.7 L548.4,223.6 L549.4,224.5 L550.6,225.3 L551.9,226.1 L553.3,226.9 L554.7,227.6 L556.3,228.3 L557.9,229.0 L559.6,229.6 L561.3,230.2 L563.1,230.7 L565.0,231.2 L567.0,231.7 L569.0,232.0 L571.0,232.4 L573.1,232.7 L575.2,232.9 L577.3,233.1 L579.4,233.2 L581.6,233.2 L583.7,233.3 L585.9,233.2 L588.0,233.1 L590.1,233.0 L592.2,232.7 L594.3,232.5 L596.4,232.2 L598.4,231.8 L600.3,231.4 L602.2,230.9 L604.1,230.4 L605.9,229.8 L607.6,229.2 L609.2,228.6 L610.8,227.9 L612.3,227.1 L613.7,226.4 L615.0,225.6 L616.2,224.8 L617.3,223.9 L618.3,223.0 L619.2,222.1 L620.0,221.2 L620.7,220.2 L621.3,219.3 L621.8,218.3 L622.2,217.3 L622.5,216.4 L622.7,215.4 L622.7,214.4 L622.6,213.4 L622.5,212.4 L622.2,211.4 L621.8,210.5 L621.4,209.5 L620.8,208.6 L620.1,207.6 L619.3,206.7 L618.4,205.9 L617.5,205.0 L616.4,204.2 L615.3,203.4 L614.0,202.6 L612.7,201.9 L611.3,201.2 L609.9,200.5 L608.4,199.9 L606.8,199.3 L605.1,198.7 L603.4,198.2 L601.7,197.7 L599.9,197.3 L598.0,196.9 L596.1,196.6 L594.2,196.3 L592.3,196.0 L590.3,195.8 L588.3,195.7 L586.3,195.6 L584.3,195.5 L582.3,195.5 L580.3,195.5 L578.3,195.6 L576.3,195.8 L574.4,196.0 L572.4,196.2 L570.5,196.5 L568.6,196.8 L566.8,197.2 L564.9,197.6 L563.2,198.0 L561.4,198.5 L559.8,199.1 L558.2,199.7 L556.6,200.3 L555.1,200.9 L553.7,201.6 L552.4,202.4 L551.1,203.1 L550.0,203.9 L548.9,204.7 L547.9,205.6 L547.0,206.4 L546.2,207.3 L545.4,208.3 L544.8,209.2 L544.3,210.1 L543.9,211.1 L543.6,212.1 M583.0,205.6 L578.8,205.5 L574.7,205.6 L570.6,205.8 L566.5,206.2 L562.5,206.8 L558.5,207.6 L554.6,208.5 L550.8,209.5 L547.2,210.7 L543.6,212.1 L540.1,213.6 L536.8,215.2 L533.7,217.0 L530.6,218.9 L527.8,220.9 L525.1,223.0 L522.6,225.3 L520.2,227.6 L518.1,230.0 L516.1,232.5 L514.4,235.1 L512.8,237.7 L511.4,240.5 L510.3,243.2 L509.3,246.0 L508.6,248.8 L508.1,251.7 L507.7,254.6 L507.6,257.5 L507.7,260.4 L508.0,263.3 L508.5,266.1 L509.2,269.0 L510.1,271.8 L511.1,274.6 L512.4,277.4 L513.9,280.1 L515.5,282.7 L517.3,285.3 L519.3,287.8 L521.4,290.3 L523.7,292.6 L526.1,294.9 L528.7,297.1 L531.4,299.2 L534.3,301.2 L537.2,303.1 L540.3,304.9 L543.5,306.5 L546.8,308.1 L550.1,309.5 L553.6,310.8 L557.1,312.0 L560.7,313.1 L564.3,314.0 L568.0,314.8 L571.7,315.5 L575.5,316.0 L579.2,316.4 L583.0,316.7 L586.8,316.8 L590.6,316.8 L594.3,316.6 L598.1,316.3 L601.8,315.9 L605.4,315.3 L609.0,314.6 L612.6,313.7 L616.1,312.8 L619.5,311.6 L622.8,310.4 L626.0,309.0 L629.1,307.5 L632.1,305.9 L635.0,304.2 L637.8,302.4 L640.4,300.4 L642.9,298.3 L645.2,296.2 L647.4,293.9 L649.4,291.6 L651.2,289.1 L652.9,286.6 L654.4,284.0 L655.7,281.3 L656.8,278.6 L657.7,275.8 L658.4,273.0 L658.9,270.2 L659.2,267.3 L659.3,264.3 L659.2,261.4 L658.8,258.5 L658.3,255.5 L657.5,252.6 L656.6,249.7 L655.4,246.8 L654.0,243.9 L652.4,241.1 L650.6,238.3 L648.6,235.6 L646.4,233.0 L644.0,230.4 L641.4,228.0 L638.7,225.6 L635.8,223.3 L632.7,221.1 L629.5,219.1 L626.1,217.2 L622.7,215.4 L619.0,213.7 L615.3,212.2 L611.5,210.8 L607.6,209.6 L603.6,208.5 L599.6,207.6 L595.5,206.8 L591.3,206.2 L587.2,205.8 L583.0,205.6 M583.0,205.6 L579.2,206.5 L575.4,207.6 L571.6,208.8 L567.9,210.2 L564.1,211.8 L560.5,213.5 L556.9,215.4 L553.3,217.4 L549.9,219.5 L546.5,221.8 L543.2,224.2 L540.1,226.7 L537.1,229.3 L534.2,232.0 L531.5,234.9 L528.9,237.7 L526.5,240.7 L524.2,243.7 L522.1,246.8 L520.2,249.9 L518.5,253.0 L517.0,256.2 L515.7,259.3 L514.6,262.5 L513.6,265.7 L512.9,268.8 L512.4,271.9 L512.1,275.0 L512.0,278.0 L512.1,281.0 L512.3,283.9 L512.8,286.7 L513.5,289.5 L514.4,292.2 L515.4,294.7 L516.6,297.2 L518.1,299.6 L519.6,301.8 L521.4,304.0 L523.3,306.0 L525.3,307.9 L527.5,309.6 L529.9,311.3 L532.4,312.7 L534.9,314.1 L537.7,315.3 L540.5,316.3 L543.4,317.3 L546.4,318.0 L549.5,318.6 L552.6,319.1 L555.9,319.4 L559.1,319.6 L562.5,319.6 L565.8,319.5 L569.2,319.2 L572.7,318.8 L576.1,318.2 L579.6,317.5 L583.0,316.7 L586.4,315.7 L589.9,314.6 L593.2,313.3 L596.6,312.0 L599.9,310.5 L603.2,308.9 L606.4,307.1 L609.5,305.3 L612.6,303.4 L615.6,301.3 L618.5,299.2 L621.4,297.0 L624.1,294.6 L626.7,292.2 L629.2,289.8 L631.6,287.2 L633.9,284.6 L636.0,281.9 L638.0,279.2 L639.9,276.4 L641.6,273.6 L643.2,270.8 L644.6,267.9 L645.9,265.0 L647.0,262.1 L647.9,259.2 L648.7,256.2 L649.3,253.3 L649.7,250.4 L650.0,247.6 L650.1,244.7 L650.0,241.9 L649.7,239.1 L649.2,236.4 L648.6,233.8 L647.7,231.2 L646.7,228.7 L645.5,226.2 L644.2,223.9 L642.6,221.7 L640.9,219.5 L639.0,217.5 L637.0,215.6 L634.8,213.8 L632.4,212.1 L629.9,210.6 L627.2,209.2 L624.4,207.9 L621.5,206.8 L618.4,205.9 L615.3,205.1 L612.0,204.5 L608.6,204.0 L605.1,203.7 L601.6,203.6 L597.9,203.6 L594.3,203.9 L590.5,204.3 L586.8,204.8 L583.0,205.6 M583.0,205.6 L580.6,207.3 L578.2,209.1 L575.8,211.2 L573.4,213.4 L571.0,215.7 L568.6,218.2 L566.3,220.9 L564.0,223.7 L561.7,226.6 L559.6,229.6 L557.4,232.8 L555.4,236.0 L553.4,239.3 L551.5,242.7 L549.7,246.2 L548.0,249.7 L546.4,253.3 L544.9,256.9 L543.5,260.5 L542.3,264.2 L541.2,267.8 L540.1,271.4 L539.3,274.9 L538.5,278.5 L537.9,281.9 L537.4,285.3 L537.1,288.7 L536.8,291.9 L536.8,295.0 L536.8,298.1 L537.0,301.0 L537.3,303.8 L537.8,306.5 L538.4,309.0 L539.1,311.4 L539.9,313.6 L540.8,315.7 L541.9,317.6 L543.0,319.3 L544.3,320.9 L545.7,322.3 L547.1,323.5 L548.7,324.6 L550.3,325.5 L552.0,326.2 L553.8,326.7 L555.6,327.1 L557.5,327.2 L559.5,327.3 L561.5,327.1 L563.5,326.7 L565.6,326.2 L567.8,325.6 L569.9,324.7 L572.1,323.8 L574.2,322.6 L576.4,321.3 L578.6,319.9 L580.8,318.4 L583.0,316.7 L585.2,314.8 L587.3,312.9 L589.5,310.8 L591.6,308.6 L593.6,306.3 L595.7,304.0 L597.7,301.5 L599.6,298.9 L601.5,296.3 L603.4,293.5 L605.2,290.7 L606.9,287.9 L608.6,285.0 L610.2,282.0 L611.7,279.0 L613.2,275.9 L614.6,272.8 L615.9,269.7 L617.1,266.6 L618.2,263.5 L619.3,260.4 L620.2,257.2 L621.1,254.1 L621.8,251.0 L622.5,247.9 L623.1,244.9 L623.5,241.9 L623.9,238.9 L624.2,236.0 L624.3,233.1 L624.4,230.3 L624.3,227.6 L624.1,225.0 L623.8,222.4 L623.5,220.0 L623.0,217.6 L622.4,215.4 L621.6,213.3 L620.8,211.2 L619.9,209.4 L618.8,207.6 L617.7,206.0 L616.5,204.5 L615.1,203.2 L613.7,202.0 L612.1,201.0 L610.5,200.2 L608.8,199.5 L607.0,199.0 L605.1,198.7 L603.2,198.6 L601.1,198.6 L599.0,198.8 L596.9,199.2 L594.7,199.8 L592.4,200.6 L590.1,201.6 L587.8,202.7 L585.4,204.1 L583.0,205.6 M583.0,205.6 L582.6,207.6 L582.3,209.8 L581.9,212.2 L581.5,214.8 L581.2,217.5 L580.8,220.4 L580.4,223.4 L580.1,226.5 L579.8,229.8 L579.4,233.2 L579.1,236.7 L578.8,240.3 L578.5,243.9 L578.2,247.7 L577.9,251.4 L577.6,255.3 L577.4,259.1 L577.2,263.0 L576.9,266.9 L576.7,270.8 L576.6,274.6 L576.4,278.4 L576.3,282.2 L576.2,285.9 L576.1,289.5 L576.0,293.0 L575.9,296.4 L575.9,299.8 L575.9,303.0 L575.9,306.0 L575.9,309.0 L576.0,311.7 L576.0,314.3 L576.1,316.8 L576.2,319.1 L576.4,321.2 L576.5,323.1 L576.7,324.9 L576.9,326.4 L577.1,327.8 L577.3,329.0 L577.5,330.0 L577.7,330.7 L578.0,331.3 L578.2,331.7 L578.5,332.0 L578.8,332.0 L579.1,331.8 L579.4,331.5 L579.7,330.9 L580.0,330.2 L580.3,329.3 L580.7,328.3 L581.0,327.1 L581.3,325.7 L581.7,324.2 L582.0,322.5 L582.3,320.7 L582.7,318.7 L583.0,316.7 L583.3,314.4 L583.7,312.1 L584.0,309.7 L584.3,307.2 L584.6,304.5 L584.9,301.8 L585.2,299.0 L585.5,296.1 L585.8,293.1 L586.1,290.1 L586.3,287.0 L586.6,283.9 L586.9,280.7 L587.1,277.5 L587.3,274.3 L587.5,271.0 L587.8,267.7 L587.9,264.5 L588.1,261.2 L588.3,257.9 L588.5,254.6 L588.6,251.4 L588.7,248.2 L588.8,245.0 L588.9,241.8 L589.0,238.7 L589.1,235.7 L589.1,232.7 L589.2,229.8 L589.2,226.9 L589.2,224.2 L589.2,221.5 L589.2,218.9 L589.1,216.4 L589.1,214.1 L589.0,211.8 L588.9,209.7 L588.8,207.7 L588.7,205.8 L588.5,204.0 L588.4,202.5 L588.2,201.0 L588.0,199.7 L587.8,198.6 L587.6,197.7 L587.4,196.9 L587.1,196.3 L586.9,195.9 L586.6,195.6 L586.3,195.6 L586.0,195.7 L585.7,196.0 L585.4,196.6 L585.1,197.3 L584.8,198.2 L584.4,199.3 L584.1,200.6 L583.7,202.0 L583.4,203.7 L583.0,205.6 M583.0,205.6 L584.8,207.4 L586.6,209.5 L588.3,211.7 L590.1,214.1 L591.9,216.6 L593.6,219.3 L595.3,222.1 L597.0,225.1 L598.7,228.2 L600.3,231.4 L601.9,234.7 L603.4,238.1 L604.9,241.6 L606.3,245.2 L607.6,248.8 L608.9,252.5 L610.1,256.2 L611.2,259.9 L612.2,263.7 L613.2,267.4 L614.0,271.1 L614.8,274.8 L615.4,278.5 L616.0,282.1 L616.4,285.6 L616.8,289.1 L617.1,292.5 L617.2,295.7 L617.3,298.9 L617.2,302.0 L617.1,304.9 L616.9,307.7 L616.5,310.3 L616.1,312.8 L615.6,315.1 L615.0,317.3 L614.3,319.3 L613.5,321.2 L612.6,322.8 L611.7,324.3 L610.6,325.6 L609.6,326.7 L608.4,327.6 L607.2,328.4 L605.9,328.9 L604.6,329.3 L603.2,329.5 L601.8,329.5 L600.4,329.3 L598.9,329.0 L597.4,328.5 L595.8,327.8 L594.3,326.9 L592.7,325.9 L591.1,324.7 L589.5,323.4 L587.8,321.9 L586.2,320.3 L584.6,318.5 L583.0,316.7 L581.4,314.6 L579.8,312.5 L578.2,310.3 L576.7,307.9 L575.2,305.4 L573.7,302.9 L572.2,300.2 L570.8,297.5 L569.4,294.7 L568.0,291.8 L566.7,288.9 L565.4,285.9 L564.2,282.9 L563.0,279.8 L561.9,276.7 L560.8,273.5 L559.8,270.3 L558.9,267.1 L558.0,263.9 L557.2,260.7 L556.4,257.5 L555.7,254.3 L555.1,251.2 L554.5,248.0 L554.0,244.9 L553.6,241.8 L553.3,238.8 L553.0,235.8 L552.8,232.9 L552.7,230.1 L552.7,227.3 L552.7,224.6 L552.9,222.0 L553.1,219.5 L553.4,217.0 L553.7,214.7 L554.2,212.6 L554.7,210.5 L555.3,208.5 L556.0,206.7 L556.7,205.1 L557.5,203.5 L558.5,202.2 L559.4,200.9 L560.5,199.9 L561.6,199.0 L562.8,198.3 L564.1,197.7 L565.4,197.3 L566.8,197.2 L568.2,197.2 L569.7,197.3 L571.2,197.7 L572.8,198.3 L574.4,199.0 L576.1,199.9 L577.8,201.1 L579.5,202.4 L581.2,203.9 L583.0,205.6 M583.0,205.6 L586.4,206.8 L589.9,208.2 L593.3,209.7 L596.7,211.4 L600.1,213.3 L603.4,215.3 L606.7,217.5 L610.0,219.8 L613.1,222.2 L616.2,224.8 L619.2,227.4 L622.0,230.2 L624.8,233.1 L627.4,236.1 L629.9,239.1 L632.3,242.2 L634.5,245.4 L636.6,248.7 L638.5,251.9 L640.3,255.2 L641.8,258.5 L643.2,261.9 L644.4,265.2 L645.5,268.5 L646.3,271.8 L647.0,275.0 L647.5,278.2 L647.8,281.3 L647.9,284.4 L647.8,287.4 L647.5,290.3 L647.1,293.1 L646.5,295.8 L645.7,298.5 L644.7,301.0 L643.6,303.4 L642.3,305.6 L640.8,307.7 L639.2,309.7 L637.5,311.6 L635.6,313.3 L633.5,314.9 L631.4,316.3 L629.1,317.5 L626.7,318.6 L624.3,319.6 L621.7,320.4 L619.0,321.0 L616.3,321.5 L613.5,321.8 L610.6,322.0 L607.6,322.0 L604.6,321.8 L601.6,321.5 L598.6,321.1 L595.5,320.5 L592.4,319.7 L589.2,318.9 L586.1,317.8 L583.0,316.7 L579.9,315.4 L576.8,313.9 L573.8,312.4 L570.7,310.7 L567.7,308.9 L564.8,307.0 L561.9,305.0 L559.1,302.9 L556.3,300.6 L553.7,298.3 L551.1,295.9 L548.5,293.5 L546.1,290.9 L543.8,288.3 L541.5,285.6 L539.4,282.9 L537.4,280.1 L535.5,277.2 L533.7,274.3 L532.0,271.4 L530.5,268.5 L529.1,265.5 L527.8,262.6 L526.7,259.6 L525.7,256.6 L524.9,253.6 L524.2,250.7 L523.7,247.7 L523.3,244.8 L523.0,242.0 L523.0,239.2 L523.1,236.4 L523.3,233.7 L523.7,231.0 L524.3,228.4 L525.0,226.0 L525.9,223.5 L527.0,221.2 L528.2,219.0 L529.6,216.9 L531.1,214.9 L532.8,213.0 L534.6,211.3 L536.6,209.7 L538.7,208.2 L540.9,206.9 L543.3,205.7 L545.8,204.7 L548.4,203.8 L551.1,203.1 L554.0,202.6 L556.9,202.2 L560.0,202.0 L563.1,202.0 L566.3,202.1 L569.5,202.5 L572.8,203.0 L576.2,203.7 L579.6,204.5 L583.0,205.6" fill="none" stroke="#777" stroke-opacity="0.28" stroke-width="0.7"/>
<path d="M507.7,260.4 L507.2,262.4 L506.9,264.5 L506.8,266.6 L506.9,268.7 L507.2,270.7 L507.8,272.8 L508.5,274.9 L509.5,277.0 L510.7,279.0 L512.1,281.0 L513.7,283.0 L515.5,284.9 L517.5,286.8 L519.7,288.6 L522.1,290.4 L524.7,292.1 L527.5,293.7 L530.4,295.2 L533.5,296.7 L536.8,298.1 L540.2,299.4 L543.8,300.5 L547.5,301.6 L551.3,302.6 L555.2,303.5 L559.2,304.2 L563.3,304.9 L567.5,305.4 L571.7,305.8 L575.9,306.0 L580.2,306.2 L584.4,306.2 L588.7,306.1 L592.9,305.9 L597.1,305.5 L601.3,305.0 L605.4,304.4 L609.5,303.7 L613.4,302.9 L617.2,302.0 L621.0,300.9 L624.6,299.8 L628.1,298.5 L631.4,297.2 L634.6,295.7 L637.6,294.2 L640.4,292.6 L643.1,290.9 L645.5,289.2 L647.8,287.4 L649.9,285.5 L651.8,283.6 L653.4,281.7 L654.9,279.7 L656.1,277.6 L657.2,275.6 L658.0,273.5 L658.6,271.4 L659.0,269.4 L659.2,267.3 L659.2,265.2 L658.9,263.1 L658.5,261.1 L657.8,259.0 L657.0,257.0 L656.0,255.0 L654.7,253.1 L653.3,251.2 L651.8,249.4 L650.0,247.6 L648.1,245.8 L646.0,244.1 L643.7,242.5 L641.3,240.9 L638.8,239.5 L636.1,238.0 L633.4,236.7 L630.5,235.4 L627.4,234.2 L624.3,233.1 L621.1,232.1 L617.8,231.2 L614.4,230.3 L611.0,229.6 L607.4,228.9 L603.9,228.3 L600.3,227.8 L596.6,227.4 L592.9,227.1 L589.2,226.9 L585.5,226.8 L581.8,226.8 L578.0,226.9 L574.3,227.0 L570.6,227.3 L567.0,227.7 L563.3,228.1 L559.7,228.7 L556.2,229.3 L552.7,230.1 L549.3,230.9 L546.0,231.8 L542.7,232.8 L539.6,233.9 L536.5,235.0 L533.6,236.3 L530.8,237.6 L528.1,239.0 L525.5,240.4 L523.0,242.0 L520.8,243.6 L518.6,245.2 L516.6,247.0 L514.8,248.8 L513.2,250.6 L511.7,252.5 L510.4,254.4 L509.3,256.4 L508.4,258.4 L507.7,260.4 M507.7,260.4 L507.6,257.5 L507.7,254.6 L508.1,251.7 L508.6,248.8 L509.3,246.0 L510.3,243.2 L511.4,240.5 L512.8,237.7 L514.4,235.1 L516.1,232.5 L518.1,230.0 L520.2,227.6 L522.6,225.3 L525.1,223.0 L527.8,220.9 L530.6,218.9 L533.7,217.0 L536.8,215.2 L540.1,213.6 L543.6,212.1 L547.2,210.7 L550.8,209.5 L554.6,208.5 L558.5,207.6 L562.5,206.8 L566.5,206.2 L570.6,205.8 L574.7,205.6 L578.8,205.5 L583.0,205.6 L587.2,205.8 L591.3,206.2 L595.5,206.8 L599.6,207.6 L603.6,208.5 L607.6,209.6 L611.5,210.8 L615.3,212.2 L619.0,213.7 L622.7,215.4 L626.1,217.2 L629.5,219.1 L632.7,221.1 L635.8,223.3 L638.7,225.6 L641.4,228.0 L644.0,230.4 L646.4,233.0 L648.6,235.6 L650.6,238.3 L652.4,241.1 L654.0,243.9 L655.4,246.8 L656.6,249.7 L657.5,252.6 L658.3,255.5 L658.8,258.5 L659.2,261.4 L659.3,264.3 L659.2,267.3 L658.9,270.2 L658.4,273.0 L657.7,275.8 L656.8,278.6 L655.7,281.3 L654.4,284.0 L652.9,286.6 L651.2,289.1 L649.4,291.6 L647.4,293.9 L645.2,296.2 L642.9,298.3 L640.4,300.4 L637.8,302.4 L635.0,304.2 L632.1,305.9 L629.1,307.5 L626.0,309.0 L622.8,310.4 L619.5,311.6 L616.1,312.8 L612.6,313.7 L609.0,314.6 L605.4,315.3 L601.8,315.9 L598.1,316.3 L594.3,316.6 L590.6,316.8 L586.8,316.8 L583.0,316.7 L579.2,316.4 L575.5,316.0 L571.7,315.5 L568.0,314.8 L564.3,314.0 L560.7,313.1 L557.1,312.0 L553.6,310.8 L550.1,309.5 L546.8,308.1 L543.5,306.5 L540.3,304.9 L537.2,303.1 L534.3,301.2 L531.4,299.2 L528.7,297.1 L526.1,294.9 L523.7,292.6 L521.4,290.3 L519.3,287.8 L517.3,285.3 L515.5,282.7 L513.9,280.1 L512.4,277.4 L511.1,274.6 L510.1,271.8 L509.2,269.0 L508.5,266.1 L508.0,263.3 L507.7,260.4 M659.2,267.3 L507.7,260.4 M589.2,226.9 L575.9,306.0 M583.0,316.7 L583.0,205.6" fill="none" stroke="#666" stroke-opacity="0.5" stroke-width="0.9"/>
<path d="M583.0,205.6 L583.0,205.6 L583.0,205.6 L583.0,205.6 L583.0,205.6 L583.0,205.6 L583.0,205.6 L583.0,205.6 L583.0,205.6 L583.0,205.6 L583.0,205.6 L583.0,205.6 L583.0,205.6 L583.0,205.6 L583.0,205.6 L583.0,205.6 L583.0,205.6 L583.0,205.6 L583.0,205.6 L583.0,205.6 L583.0,205.6 L583.0,205.6 L583.0,205.6 L583.0,205.6 L583.0,205.6 L583.0,205.6 L583.0,205.6 L583.0,205.6 L583.0,205.6 L583.0,205.6 L583.0,205.6 L583.0,205.6 L583.0,205.6 L583.0,205.6 L583.0,205.6 L583.0,205.6 L583.0,205.6 L583.0,205.6 L583.0,205.6 L583.0,205.6 L583.0,205.6 L583.0,205.6 L583.0,205.6 L583.0,205.6 L583.0,205.6 L583.0,205.6 L583.0,205.6 L583.0,205.6 L583.0,205.6 L583.0,205.6 L583.0,205.6 L583.0,205.6 L583.0,205.6 L583.0,205.6 L583.0,205.6 L583.0,205.6 L583.0,205.6 L583.0,205.6 L583.0,205.6 L583.0,205.6 L583.0,205.6 L583.0,205.6 L583.0,205.6 L583.0,205.6 L583.0,205.6 L583.0,205.6 L583.0,205.6 L583.0,205.6 L583.0,205.6 L583.0,205.6 L583.0,205.6 L583.0,205.6 L583.0,205.6 L583.0,205.6 L583.0,205.6 L583.0,205.6 L583.0,205.6 L583.0,205.6 L583.0,205.6 L583.0,205.6 L583.0,205.6 L583.0,205.6 L583.0,205.6 L582.9,205.6 L582.9,205.6 L582.9,205.6 L582.9,205.6 L582.9,205.6 L582.9,205.6 L582.9,205.6 L582.9,205.6 L582.9,205.6 L582.9,205.6 L582.9,205.6 L582.9,205.6 L582.9,205.6 L582.9,205.6 L582.9,205.6 L582.9,205.6 L582.9,205.5 L582.9,205.5 L582.9,205.5 L582.9,205.5 L582.9,205.5 L582.9,205.5 L582.9,205.5 L582.9,205.5 L582.9,205.5 L582.9,205.5 L582.9,205.5 L582.9,205.5 L582.9,205.5 L582.9,205.5 L582.9,205.5 L582.9,205.5 L582.9,205.5 L582.9,205.5 L582.9,205.5 L582.9,205.5 L582.9,205.5 L582.9,205.5 L582.9,205.5 L582.9,205.5 L582.9,205.5 L582.9,205.5 L582.9,205.5 L582.9,205.5 L582.9,205.5 L582.9,205.5 L582.9,205.5 L582.9,205.5 L582.9,205.5 L582.9,205.5 L582.9,205.5 L582.8,205.5 L582.8,205.5 L582.8,205.5 L582.8,205.5 L582.8,205.5 L582.8,205.5 L582.8,205.5 L582.8,205.5 L582.8,205.5 L582.8,205.5 L582.8,205.5 L582.8,205.5 L582.8,205.5 L582.8,205.5 L582.8,205.5 L582.8,205.5 L582.8,205.5 L582.8,205.5 L582.8,205.5 L582.8,205.5 L582.8,205.5 L582.8,205.5 L582.8,205.5 L582.8,205.5 L582.7,205.5 L582.7,205.5 L582.7,205.5 L582.7,205.5 L582.7,205.5 L582.7,205.5 L582.7,205.5 L582.7,205.5 L582.7,205.5 L582.7,205.5 L582.7,205.5 L582.7,205.5 L582.7,205.5 L582.7,205.5 L582.7,205.5 L582.7,205.5 L582.6,205.5 L582.6,205.5 L582.6,205.5 L582.6,205.5 L582.6,205.5 L582.6,205.5 L582.6,205.5 L582.6,205.5 L582.6,205.4 L582.6,205.4 L582.6,205.4 L582.5,205.4 L582.5,205.4 L582.5,205.4 L582.5,205.4 L582.5,205.4 L582.5,205.4 L582.5,205.4 L582.5,205.4 L582.5,205.4 L582.5,205.4 L582.4,205.4 L582.4,205.4 L582.4,205.4 L582.4,205.4 L582.4,205.4 L582.4,205.4 L582.4,205.4 L582.4,205.4 L582.3,205.4 L582.3,205.4 L582.3,205.4 L582.3,205.4 L582.3,205.4 L582.3,205.4 L582.3,205.4 L582.3,205.4 L582.2,205.4 L582.2,205.4 L582.2,205.4 L582.2,205.4 L582.2,205.4 L582.2,205.3 L582.1,205.3 L582.1,205.3 L582.1,205.3 L582.1,205.3 L582.1,205.3 L582.1,205.3 L582.0,205.3 L582.0,205.3 L582.0,205.3 L582.0,205.3 L582.0,205.3 L581.9,205.3 L581.9,205.3 L581.9,205.3 L581.9,205.3 L581.9,205.3 L581.8,205.3 L581.8,205.3 L581.8,205.3 L581.8,205.3 L581.8,205.3 L581.7,205.3 L581.7,205.3 L581.7,205.3 L581.7,205.2 L581.6,205.2 L581.6,205.2 L581.6,205.2 L581.6,205.2 L581.5,205.2 L581.5,205.2 L581.5,205.2 L581.5,205.2 L581.4,205.2 L581.4,205.2 L581.4,205.2 L581.4,205.2 L581.3,205.2 L581.3,205.2 L581.3,205.2 L581.2,205.2 L581.2,205.2 L581.2,205.2 L581.1,205.1 L581.1,205.1 L581.1,205.1 L581.1,205.1 L581.0,205.1 L581.0,205.1 L581.0,205.1 L580.9,205.1 L580.9,205.1 L580.8,205.1 L580.8,205.1 L580.8,205.1 L580.7,205.1 L580.7,205.1 L580.7,205.1 L580.6,205.1 L580.6,205.0 L580.6,205.0 L580.5,205.0 L580.5,205.0 L580.4,205.0 L580.4,205.0 L580.3,205.0 L580.3,205.0 L580.3,205.0 L580.2,205.0 L580.2,205.0 L580.1,205.0 L580.1,205.0 L580.0,205.0 L580.0,204.9 L579.9,204.9 L579.9,204.9 L579.8,204.9 L579.8,204.9 L579.8,204.9 L579.7,204.9 L579.7,204.9 L579.6,204.9 L579.5,204.9 L579.5,204.9 L579.4,204.9 L579.4,204.9 L579.3,204.8 L579.3,204.8 L579.2,204.8 L579.2,204.8 L579.1,204.8 L579.0,204.8 L579.0,204.8 L578.9,204.8 L578.9,204.8 L578.8,204.8 L578.7,204.8 L578.7,204.8 L578.6,204.8 L578.6,204.7 L578.5,204.7 L578.4,204.7 L578.4,204.7 L578.3,204.7 L578.2,204.7 L578.2,204.7 L578.1,204.7 L578.0,204.7 L578.0,204.7 L577.9,204.7 L577.8,204.7 L577.7,204.6 L577.7,204.6 L577.6,204.6 L577.5,204.6 L577.4,204.6 L577.4,204.6 L577.3,204.6 L577.2,204.6 L577.1,204.6 L577.0,204.6 L577.0,204.6 L576.9,204.6 L576.8,204.6 L576.7,204.5 L576.6,204.5 L576.5,204.5 L576.5,204.5 L576.4,204.5 L576.3,204.5 L576.2,204.5 L576.1,204.5 L576.0,204.5 L575.9,204.5 L575.8,204.5 L575.7,204.5 L575.6,204.5 L575.6,204.5 L575.5,204.5 L575.4,204.4 L575.3,204.4 L575.2,204.4 L575.1,204.4 L575.0,204.4 L574.9,204.4 L574.8,204.4 L574.7,204.4 L574.6,204.4 L574.5,204.4 L574.3,204.4 L574.2,204.4 L574.1,204.4 L574.0,204.4 L573.9,204.4 L573.8,204.4 L573.7,204.4 L573.6,204.4 L573.5,204.4 L573.4,204.4 L573.2,204.4 L573.1,204.3 L573.0,204.3 L572.9,204.3 L572.8,204.3 L572.7,204.3 L572.5,204.3 L572.4,204.3 L572.3,204.3 L572.2,204.3 L572.1,204.3 L571.9,204.3 L571.8,204.3 L571.7,204.3 L571.6,204.3 L571.4,204.3 L571.3,204.3 L571.2,204.3 L571.0,204.3 L570.9,204.3 L570.8,204.3 L570.6,204.3 L570.5,204.3 L570.4,204.3 L570.2,204.3 L570.1,204.3 L570.0,204.4 L569.8,204.4 L569.7,204.4 L569.5,204.4 L569.4,204.4 L569.3,204.4 L569.1,204.4 L569.0,204.4 L568.8,204.4 L568.7,204.4 L568.6,204.4 L568.4,204.4 L568.3,204.4 L568.1,204.4 L568.0,204.4 L567.8,204.4 L567.7,204.5 L567.5,204.5 L567.4,204.5 L567.2,204.5 L567.1,204.5 L566.9,204.5 L566.7,204.5 L566.6,204.5 L566.4,204.5 L566.3,204.6 L566.1,204.6 L566.0,204.6 L565.8,204.6 L565.6,204.6 L565.5,204.6 L565.3,204.6 L565.2,204.7 L565.0,204.7 L564.8,204.7 L564.7,204.7 L564.5,204.7 L564.3,204.8 L564.2,204.8 L564.0,204.8 L563.9,204.8 L563.7,204.8 L563.5,204.9 L563.4,204.9 L563.2,204.9 L563.0,204.9 L562.8,204.9 L562.7,205.0 L562.5,205.0 L562.3,205.0 L562.2,205.0 L562.0,205.1 L561.8,205.1 L561.6,205.1 L561.5,205.1 L561.3,205.2 L561.1,205.2 L561.0,205.2 L560.8,205.3 L560.6,205.3 L560.4,205.3 L560.3,205.4 L560.1,205.4 L559.9,205.4 L559.7,205.5 L559.6,205.5 L559.4,205.5 L559.2,205.6 L559.0,205.6 L558.8,205.6 L558.7,205.7 L558.5,205.7 L558.3,205.7 L558.1,205.8 L558.0,205.8 L557.8,205.9 L557.6,205.9 L557.4,205.9 L557.2,206.0 L557.1,206.0 L556.9,206.1 L556.7,206.1 L556.5,206.1 L556.4,206.2 L556.2,206.2 L556.0,206.3 L555.8,206.3 L555.6,206.4 L555.5,206.4 L555.3,206.5 L555.1,206.5 L554.9,206.5 L554.8,206.6 L554.6,206.6 L554.4,206.7 L554.2,206.7 L554.0,206.8 L553.9,206.8 L553.7,206.9 L553.5,206.9 L553.3,207.0 L553.2,207.0 L553.0,207.1 L552.8,207.2 L552.6,207.2 L552.5,207.3 L552.3,207.3 L552.1,207.4 L551.9,207.4 L551.8,207.5 L551.6,207.5 L551.4,207.6 L551.3,207.6 L551.1,207.7 L550.9,207.8 L550.7,207.8 L550.6,207.9 L550.4,207.9 L550.2,208.0 L550.1,208.1 L549.9,208.1 L549.7,208.2 L549.6,208.2 L549.4,208.3 L549.2,208.4 L549.1,208.4 L548.9,208.5 L548.7,208.5 L548.6,208.6 L548.4,208.7 L548.3,208.7 L548.1,208.8 L547.9,208.8 L547.8,208.9 L547.6,209.0 L547.5,209.0 L547.3,209.1 L547.1,209.2 L547.0,209.2 L546.8,209.3 L546.7,209.3 L546.5,209.4 L546.4,209.5 L546.2,209.5 L546.1,209.6 L545.9,209.7 L545.8,209.7 L545.6,209.8 L545.5,209.9 L545.3,209.9 L545.2,210.0 L545.0,210.1 L544.9,210.1 L544.7,210.2 L544.6,210.2 L544.4,210.3 L544.3,210.4 L544.2,210.4 L544.0,210.5 L543.9,210.6 L543.7,210.6 L543.6,210.7 L543.5,210.8 L543.3,210.8 L543.2,210.9 L543.0,211.0 L542.9,211.0 L542.8,211.1 L542.6,211.2 L542.5,211.2 L542.4,211.3 L542.2,211.4 L542.1,211.4 L542.0,211.5 L541.9,211.5 L541.7,211.6 L541.6,211.7 L541.5,211.7 L541.3,211.8 L541.2,211.9 L541.1,211.9 L541.0,212.0 L540.8,212.1 L540.7,212.1 L540.6,212.2 L540.5,212.3 L540.4,212.3 L540.2,212.4 L540.1,212.4 L540.0,212.5 L539.9,212.6 L539.8,212.6 L539.7,212.7 L539.6,212.8 L539.4,212.8 L539.3,212.9 L539.2,212.9 L539.1,213.0 L539.0,213.1 L538.9,213.1 L538.8,213.2 L538.7,213.3 L538.6,213.3 L538.5,213.4 L538.4,213.4 L538.3,213.5 L538.2,213.6 L538.1,213.6 L538.0,213.7 L537.9,213.7 L537.8,213.8 L537.7,213.8 L537.6,213.9 L537.5,214.0 L537.4,214.0 L537.3,214.1 L537.2,214.1 L537.1,214.2 L537.0,214.2 L536.9,214.3 L536.8,214.3 L536.7,214.4 L536.6,214.4 L536.6,214.5 L536.5,214.5 L536.4,214.6 L536.3,214.6 L536.2,214.7 L536.1,214.7 L536.0,214.8 L535.9,214.8 L535.9,214.9 L535.8,214.9 L535.7,215.0 L535.6,215.0 L535.5,215.1 L535.4,215.1 L535.3,215.2 L535.2,215.2 L535.2,215.3 L535.1,215.3 L535.0,215.3 L534.9,215.4 L534.8,215.4 L534.7,215.5 L534.6,215.5 L534.6,215.6 L534.5,215.6 L534.4,215.7 L534.3,215.7 L534.2,215.8 L534.1,215.8 L534.0,215.9 L533.9,215.9 L533.8,216.0 L533.7,216.0 L533.7,216.1 L533.6,216.2 L533.5,216.2 L533.4,216.3 L533.3,216.3 L533.2,216.4 L533.1,216.4 L533.0,216.5 L532.9,216.6 L532.8,216.6 L532.8,216.7 L532.7,216.8 L532.6,216.8 L532.5,216.9 L532.4,217.0 L532.3,217.0 L532.2,217.1 L532.2,217.2 L532.1,217.3 L532.0,217.3 L531.9,217.4 L531.9,217.5 L531.8,217.6 L531.7,217.6 L531.6,217.7 L531.6,217.8 L531.5,217.8 L531.5,217.9 L531.4,218.0 L531.3,218.1 L531.3,218.1 L531.3,218.2 L531.2,218.3 L531.2,218.3 L531.1,218.4 L531.1,218.5 L531.1,218.5 L531.1,218.6 L531.1,218.6 L531.1,218.7 L531.1,218.7 L531.1,218.8 L531.1,218.8 L531.1,218.8 L531.1,218.9 L531.1,218.9 L531.1,218.9 L531.2,218.9 L531.2,219.0 L531.2,219.0 L531.3,219.0 L531.3,219.0 L531.4,219.0 L531.4,218.9 L531.5,218.9 L531.5,218.9 L531.6,218.9 L531.6,218.8 L531.7,218.8 L531.8,218.8 L531.8,218.7 L531.9,218.6 L532.0,218.6 L532.0,218.5 L532.1,218.5 L532.1,218.4 L532.2,218.3 L532.3,218.2 L532.3,218.1 L532.4,218.1 L532.4,218.0 L532.4,217.9 L532.5,217.8 L532.5,217.7 L532.5,217.6 L532.6,217.5 L532.6,217.4 L532.6,217.3 L532.6,217.2 L532.5,217.2 L532.5,217.1 L532.5,217.0 L532.5,216.9 L532.4,216.9 L532.4,216.8 L532.3,216.7 L532.2,216.7 L532.1,216.6 L532.0,216.6 L531.9,216.6 L531.8,216.6 L531.7,216.5 L531.6,216.5 L531.4,216.5 L531.3,216.6 L531.1,216.6 L530.9,216.6 L530.8,216.7 L530.6,216.8 L530.4,216.8 L530.2,216.9 L530.0,217.0 L529.7,217.1 L529.5,217.3 L529.3,217.4 L529.0,217.6 L528.8,217.7 L528.5,217.9 L528.2,218.1 L528.0,218.3 L527.7,218.5 L527.4,218.8 L527.2,219.0 L526.9,219.3 L526.6,219.5 L526.3,219.8 L526.0,220.1 L525.8,220.4 L525.5,220.7 L525.2,221.0 L524.9,221.3 L524.7,221.6 L524.4,222.0 L524.2,222.3 L524.0,222.6 L523.7,223.0 L523.5,223.3 L523.3,223.6 L523.2,224.0 L523.0,224.3 L522.9,224.6 L522.8,224.9 L522.7,225.2 L522.6,225.5 L522.5,225.8 L522.5,226.1 L522.5,226.4 L522.6,226.6 L522.6,226.9 L522.7,227.1 L522.9,227.3 L523.0,227.4 L523.2,227.6 L523.5,227.7 L523.7,227.8 L524.0,227.9 L524.4,227.9 L524.7,227.9 L525.1,227.9 L525.6,227.8 L526.0,227.7 L526.5,227.6 L527.0,227.5 L527.6,227.3 L528.1,227.0 L528.7,226.8 L529.3,226.5 L529.9,226.2 L530.6,225.8 L531.2,225.4 L531.8,225.0 L532.5,224.6 L533.2,224.1 L533.8,223.6 L534.5,223.1 L535.1,222.6 L535.7,222.0 L536.3,221.4 L536.9,220.9 L537.5,220.3 L538.1,219.6 L538.6,219.0 L539.1,218.4 L539.6,217.8 L540.0,217.2 L540.4,216.5 L540.8,215.9 L541.2,215.3 L541.5,214.7 L541.7,214.2 L541.9,213.6 L542.1,213.1 L542.3,212.6 L542.4,212.1 L542.5,211.6 L542.5,211.2 L542.5,210.8 L542.4,210.4 L542.3,210.0 L542.2,209.7 L542.0,209.5 L541.8,209.2 L541.6,209.0 L541.3,208.9 L541.0,208.8 L540.7,208.7 L540.3,208.7 L539.9,208.7 L539.5,208.7 L539.0,208.8 L538.5,209.0 L538.0,209.2 L537.5,209.4 L536.9,209.7 L536.3,210.0 L535.7,210.4 L535.0,210.8 L534.4,211.2 L533.7,211.7 L533.0,212.2 L532.3,212.8 L531.6,213.4 L530.8,214.0 L530.0,214.7 L529.3,215.4 L528.5,216.1 L527.7,216.9 L526.9,217.7 L526.1,218.6 L525.3,219.4 L524.4,220.3 L523.6,221.2 L522.8,222.2 L522.0,223.1 L521.2,224.1 L520.4,225.1 L519.6,226.1 L518.8,227.1 L518.1,228.1 L517.4,229.2 L516.7,230.2 L516.0,231.2 L515.4,232.2 L514.8,233.2 L514.2,234.2 L513.7,235.2 L513.3,236.2 L512.9,237.1 L512.5,238.1 L512.3,238.9 L512.1,239.8 L511.9,240.6 L511.9,241.4 L511.9,242.1 L512.0,242.8 L512.2,243.4 L512.5,244.0 L512.9,244.5 L513.4,244.9 L513.9,245.3 L514.6,245.6 L515.3,245.8 L516.2,245.9 L517.1,245.9 L518.2,245.9 L519.3,245.8 L520.5,245.6 L521.8,245.3 L523.1,244.9 L524.5,244.4 L526.0,243.8 L527.6,243.1 L529.2,242.4 L530.8,241.5 L532.5,240.6 L534.2,239.6 L535.9,238.5 L537.7,237.4 L539.4,236.2 L541.1,234.9 L542.8,233.5 L544.5,232.2 L546.2,230.7 L547.8,229.3 L549.3,227.8 L550.8,226.3 L552.3,224.7 L553.6,223.2 L554.9,221.7 L556.2,220.1 L557.3,218.6 L558.3,217.1 L559.3,215.6 L560.1,214.2 L560.9,212.8 L561.6,211.4 L562.1,210.1 L562.6,208.9 L563.0,207.7 L563.3,206.6 L563.5,205.5 L563.6,204.6 L563.6,203.7 L563.5,202.8 L563.3,202.1 L563.1,201.4 L562.8,200.9 L562.4,200.4 L561.9,200.0 L561.3,199.7 L560.7,199.5 L560.0,199.3 L559.3,199.3 L558.5,199.3 L557.7,199.5 L556.8,199.7 L555.8,200.0 L554.8,200.4 L553.8,200.8 L552.7,201.4 L551.6,202.0 L550.5,202.7 L549.3,203.5 L548.1,204.4 L546.8,205.3 L545.6,206.3 L544.3,207.4 L543.0,208.5 L541.6,209.7 L540.3,210.9 L538.9,212.2 L537.5,213.6 L536.1,215.0 L534.7,216.4 L533.3,217.9 L531.9,219.5 L530.4,221.1 L529.0,222.7 L527.6,224.3 L526.2,226.0 L524.8,227.7 L523.4,229.4 L522.0,231.2 L520.7,232.9 L519.4,234.7 L518.1,236.5 L516.8,238.3 L515.6,240.0 L514.5,241.8 L513.4,243.6 L512.4,245.3 L511.4,247.0 L510.5,248.7 L509.7,250.4 L509.0,252.0 L508.3,253.6 L507.8,255.1 L507.4,256.6 L507.1,258.0 L506.9,259.4 L506.8,260.6 L506.9,261.8 L507.1,263.0 L507.4,264.0 L507.9,264.9 L508.5,265.7 L509.3,266.4 L510.3,267.0 L511.4,267.5 L512.6,267.8 L514.0,268.0 L515.6,268.0 L517.3,268.0 L519.1,267.7 L521.1,267.4 L523.2,266.9 L525.4,266.2 L527.7,265.4 L530.1,264.4 L532.7,263.3 L535.3,262.1 L537.9,260.7 L540.6,259.2 L543.4,257.5 L546.1,255.8 L548.9,253.9 L551.7,251.9 L554.5,249.8 L557.2,247.7 L559.8,245.4 L562.4,243.1 L565.0,240.8 L567.4,238.4 L569.7,236.0 L572.0,233.6 L574.1,231.1 L576.0,228.7 L577.9,226.3 L579.6,223.9 L581.1,221.6 L582.6,219.3 L583.8,217.1 L584.9,215.0 L585.8,212.9 L586.6,211.0 L587.3,209.1 L587.8,207.3 L588.1,205.7 L588.3,204.1 L588.3,202.7 L588.3,201.4 L588.0,200.2 L587.7,199.2 L587.2,198.2 L586.7,197.5 L586.0,196.8 L585.2,196.3 L584.3,195.9 L583.3,195.6 L582.3,195.5 L581.1,195.5 L579.9,195.7 L578.6,195.9 L577.3,196.3 L575.9,196.8 L574.4,197.4 L572.9,198.1 L571.3,199.0 L569.7,199.9 L568.0,201.0 L566.3,202.1 L564.6,203.4 L562.8,204.7 L561.1,206.1 L559.3,207.7 L557.4,209.2 L555.6,210.9 L553.7,212.7 L551.8,214.5 L549.9,216.4 L548.0,218.3 L546.1,220.3 L544.2,222.4 L542.3,224.5 L540.4,226.6 L538.5,228.8 L536.6,231.0 L534.7,233.3 L532.9,235.6 L531.1,237.9 L529.3,240.2 L527.5,242.6 L525.8,244.9 L524.1,247.3 L522.5,249.7 L520.9,252.0 L519.4,254.4 L518.0,256.7 L516.6,259.0 L515.4,261.3 L514.2,263.5 L513.2,265.7 L512.2,267.9 L511.4,270.0 L510.7,272.0 L510.1,274.0 L509.7,275.9 L509.5,277.7 L509.4,279.4 L509.4,281.0 L509.7,282.5 L510.1,283.9 L510.7,285.2 L511.5,286.3 L512.5,287.3 L513.7,288.1 L515.1,288.8 L516.6,289.3 L518.4,289.7 L520.4,289.8 L522.5,289.8 L524.9,289.6 L527.4,289.2 L530.1,288.7 L532.9,287.9 L535.9,286.9 L539.0,285.8 L542.2,284.4 L545.6,282.9 L549.0,281.2 L552.5,279.3 L556.0,277.2 L559.6,275.0 L563.1,272.6 L566.7,270.1 L570.2,267.5 L573.7,264.7 L577.1,261.9 L580.4,259.0 L583.6,256.0 L586.7,252.9 L589.7,249.9 L592.5,246.8 L595.2,243.7 L597.7,240.6 L600.0,237.5 L602.1,234.5 L604.1,231.5 L605.8,228.7 L607.4,225.8 L608.7,223.1 L609.9,220.5 L610.8,218.0 L611.6,215.7 L612.1,213.4 L612.5,211.3 L612.7,209.4 L612.7,207.6 L612.5,206.0 L612.2,204.5 L611.7,203.2 L611.1,202.0 L610.3,201.0 L609.4,200.2 L608.4,199.5 L607.3,199.1 L606.0,198.7 L604.7,198.5 L603.2,198.5 L601.7,198.7 L600.1,199.0 L598.4,199.4 L596.6,200.0 L594.8,200.7 L593.0,201.5 L591.0,202.5 L589.1,203.6 L587.1,204.9 L585.0,206.2 L583.0,207.7 L580.9,209.3 L578.7,210.9 L576.6,212.7 L574.4,214.6 L572.2,216.5 L570.0,218.6 L567.8,220.7 L565.6,222.9 L563.4,225.1 L561.1,227.4 L558.9,229.8 L556.7,232.2 L554.5,234.7 L552.3,237.3 L550.1,239.8 L548.0,242.4 L545.9,245.1 L543.8,247.7 L541.7,250.4 L539.7,253.1 L537.8,255.8 L535.9,258.6 L534.0,261.3 L532.2,264.0 L530.5,266.7 L528.9,269.4 L527.4,272.0 L526.0,274.7 L524.7,277.3 L523.5,279.8 L522.4,282.3 L521.4,284.7 L520.6,287.1 L520.0,289.4 L519.5,291.6 L519.2,293.7 L519.1,295.8 L519.1,297.7 L519.4,299.5 L519.8,301.1 L520.5,302.7 L521.4,304.0 L522.4,305.3 L523.7,306.3 L525.3,307.2 L527.0,307.9 L529.0,308.4 L531.1,308.7 L533.5,308.8 L536.1,308.7 L538.9,308.4 L541.9,307.9 L545.0,307.2 L548.3,306.2 L551.8,305.0 L555.4,303.6 L559.1,302.0 L562.9,300.2 L566.8,298.2 L570.7,296.0 L574.7,293.6 L578.7,291.0 L582.7,288.3 L586.6,285.4 L590.5,282.4 L594.3,279.3 L598.0,276.1 L601.6,272.8 L605.1,269.4 L608.4,266.0 L611.5,262.6 L614.5,259.1 L617.3,255.7 L619.9,252.3 L622.2,248.9 L624.4,245.6 L626.3,242.4 L628.0,239.2 L629.5,236.2 L630.8,233.2 L631.8,230.4 L632.6,227.8 L633.2,225.2 L633.6,222.9 L633.8,220.7 L633.8,218.6 L633.6,216.8 L633.2,215.1 L632.7,213.5 L631.9,212.2 L631.1,211.1 L630.1,210.1 L628.9,209.3 L627.7,208.7 L626.3,208.2 L624.8,208.0 L623.2,207.9 L621.5,207.9 L619.8,208.2 L617.9,208.6 L616.0,209.1 L614.0,209.8 L612.0,210.7 L609.9,211.7 L607.8,212.8 L605.7,214.0 L603.5,215.4 L601.2,216.9 L599.0,218.5 L596.7,220.3 L594.4,222.1 L592.1,224.0 L589.8,226.0 L587.5,228.1 L585.1,230.3 L582.8,232.6 L580.5,234.9 L578.1,237.3 L575.8,239.8 L573.5,242.3 L571.2,244.9 L568.9,247.5 L566.7,250.2 L564.4,252.9 L562.3,255.6 L560.1,258.4 L558.0,261.2 L555.9,264.0 L553.9,266.8 L551.9,269.6 L550.0,272.4 L548.2,275.3 L546.5,278.1 L544.8,280.8 L543.3,283.6 L541.8,286.3 L540.5,289.0 L539.3,291.7 L538.2,294.3 L537.2,296.8 L536.4,299.3 L535.7,301.7 L535.2,304.0 L534.9,306.3 L534.8,308.4 L534.8,310.4 L535.1,312.3 L535.5,314.1 L536.2,315.7 L537.0,317.2 L538.1,318.6 L539.4,319.7 L540.9,320.8 L542.6,321.6 L544.6,322.2 L546.7,322.6 L549.1,322.9 L551.7,322.9 L554.5,322.7 L557.4,322.3 L560.6,321.7 L563.9,320.9 L567.3,319.8 L570.9,318.5 L574.6,317.0 L578.4,315.3 L582.3,313.4 L586.2,311.3 L590.2,309.0 L594.2,306.5 L598.1,303.9 L602.1,301.1 L605.9,298.2 L609.7,295.1 L613.5,292.0 L617.1,288.7 L620.5,285.4 L623.8,282.0 L627.0,278.6 L630.0,275.2 L632.7,271.8 L635.3,268.3 L637.7,265.0 L639.8,261.7 L641.8,258.4 L643.5,255.2 L645.0,252.2 L646.3,249.2 L647.3,246.4 L648.1,243.6 L648.8,241.1 L649.2,238.6 L649.4,236.4 L649.4,234.3 L649.2,232.3 L648.8,230.6 L648.3,229.0 L647.6,227.5 L646.8,226.3 L645.8,225.2 L644.7,224.4 L643.4,223.6 L642.1,223.1 L640.6,222.7 L639.1,222.5 L637.4,222.5 L635.7,222.6 L633.9,222.9 L632.0,223.4 L630.1,224.0 L628.1,224.7 L626.1,225.6 L624.0,226.6 L621.9,227.7 L619.8,229.0 L617.6,230.3 L615.5,231.8 L613.2,233.4 L611.0,235.1 L608.8,236.9 L606.6,238.8 L604.3,240.8 L602.1,242.8 L599.9,245.0 L597.6,247.2 L595.4,249.4 L593.2,251.8 L591.0,254.1 L588.8,256.6 L586.7,259.0 L584.5,261.6 L582.4,264.1 L580.3,266.7 L578.3,269.3 L576.3,271.9 L574.4,274.6 L572.5,277.2 L570.7,279.9 L568.9,282.6 L567.2,285.2 L565.6,287.9 L564.1,290.5 L562.6,293.1 L561.3,295.7 L560.0,298.2 L558.9,300.7 L557.9,303.2 L557.0,305.6 L556.3,307.9 L555.7,310.2 L555.2,312.4 L555.0,314.5 L554.8,316.5 L554.9,318.4 L555.1,320.2 L555.5,321.9 L556.1,323.5 L556.9,324.9 L557.9,326.2 L559.0,327.4 L560.4,328.3 L562.0,329.2 L563.7,329.8 L565.7,330.3 L567.8,330.6 L570.1,330.7 L572.6,330.6 L575.3,330.4 L578.1,329.9 L581.1,329.2 L584.2,328.4 L587.4,327.3 L590.7,326.0 L594.1,324.6 L597.5,322.9 L601.0,321.1 L604.6,319.2 L608.1,317.0 L611.7,314.7 L615.2,312.3 L618.6,309.7 L622.0,307.1 L625.4,304.3 L628.6,301.4 L631.7,298.5 L634.6,295.5 L637.5,292.5 L640.1,289.5 L642.6,286.4 L644.9,283.4 L647.1,280.4 L649.0,277.4 L650.8,274.5 L652.4,271.6 L653.7,268.9 L654.9,266.2 L655.9,263.6 L656.6,261.1 L657.2,258.8 L657.6,256.5 L657.8,254.5 L657.9,252.5 L657.8,250.7 L657.5,249.0 L657.1,247.5 L656.5,246.2 L655.8,245.0 L654.9,243.9 L654.0,243.1 L652.9,242.3 L651.8,241.7 L650.5,241.3 L649.1,241.1 L647.7,240.9 L646.2,240.9 L644.7,241.1 L643.0,241.4 L641.4,241.8 L639.6,242.4 L637.9,243.1 L636.1,243.9 L634.3,244.8 L632.4,245.8 L630.5,246.9 L628.6,248.2 L626.7,249.5 L624.8,250.9 L622.9,252.4 L620.9,254.0 L619.0,255.7 L617.1,257.4 L615.1,259.2 L613.2,261.1 L611.3,263.0 L609.4,265.0 L607.5,267.0 L605.7,269.1 L603.8,271.2 L602.0,273.4 L600.2,275.5 L598.5,277.7 L596.8,279.9 L595.1,282.2 L593.5,284.4 L591.9,286.7 L590.3,288.9 L588.9,291.2 L587.5,293.4 L586.1,295.7 L584.8,297.9 L583.7,300.1 L582.5,302.3 L581.5,304.4 L580.6,306.5 L579.8,308.6 L579.1,310.6 L578.5,312.5 L578.0,314.4 L577.6,316.3 L577.4,318.0 L577.3,319.7 L577.4,321.3 L577.6,322.8 L577.9,324.2 L578.4,325.5 L579.0,326.7 L579.8,327.8 L580.8,328.7 L581.9,329.6 L583.2,330.3 L584.6,330.8 L586.1,331.2 L587.8,331.5 L589.7,331.6 L591.7,331.6 L593.8,331.4 L596.0,331.1 L598.3,330.6 L600.8,329.9 L603.3,329.1 L605.9,328.2 L608.5,327.1 L611.2,325.8 L614.0,324.5 L616.7,322.9 L619.5,321.3 L622.3,319.5 L625.0,317.7 L627.7,315.7 L630.3,313.7 L632.9,311.5 L635.4,309.3 L637.8,307.1 L640.1,304.8 L642.3,302.4 L644.4,300.1 L646.4,297.7 L648.2,295.4 L649.9,293.0 L651.4,290.7 L652.8,288.5 L654.1,286.2 L655.2,284.0 L656.1,281.9 L656.9,279.9 L657.5,278.0 L658.0,276.1 L658.4,274.3 L658.6,272.7 L658.7,271.1 L658.6,269.6 L658.5,268.3 L658.2,267.1 L657.8,266.0 L657.3,265.0 L656.7,264.1 L656.0,263.4 L655.2,262.7 L654.4,262.2 L653.4,261.8 L652.4,261.6 L651.4,261.4 L650.3,261.3 L649.1,261.4 L647.9,261.6 L646.7,261.8 L645.4,262.2 L644.1,262.7 L642.7,263.2 L641.4,263.9 L640.0,264.6 L638.6,265.5 L637.2,266.3 L635.7,267.3 L634.3,268.4 L632.9,269.5 L631.4,270.6 L630.0,271.9 L628.6,273.1 L627.2,274.5 L625.7,275.9 L624.3,277.3 L622.9,278.7 L621.6,280.2 L620.2,281.8 L618.9,283.3 L617.5,284.9 L616.3,286.5 L615.0,288.1 L613.8,289.7 L612.5,291.4 L611.4,293.0 L610.3,294.6 L609.2,296.3 L608.1,297.9 L607.1,299.5 L606.2,301.1 L605.3,302.7 L604.5,304.3 L603.7,305.8 L603.0,307.3 L602.4,308.8 L601.8,310.3 L601.3,311.7 L600.9,313.0 L600.6,314.4 L600.4,315.6 L600.3,316.8 L600.2,318.0 L600.3,319.1 L600.4,320.1 L600.6,321.0 L601.0,321.9 L601.4,322.7 L602.0,323.4 L602.6,324.1 L603.3,324.6 L604.2,325.0 L605.1,325.4 L606.1,325.7 L607.3,325.8 L608.5,325.9 L609.8,325.9 L611.1,325.7 L612.5,325.5 L614.0,325.2 L615.6,324.8 L617.2,324.2 L618.8,323.6 L620.5,322.9 L622.2,322.1 L624.0,321.2 L625.7,320.3 L627.4,319.2 L629.1,318.1 L630.8,317.0 L632.5,315.7 L634.2,314.4 L635.8,313.1 L637.3,311.7 L638.8,310.3 L640.2,308.9 L641.6,307.5 L642.9,306.0 L644.1,304.5 L645.3,303.1 L646.3,301.6 L647.3,300.2 L648.1,298.8 L648.9,297.4 L649.6,296.1 L650.2,294.8 L650.7,293.5 L651.2,292.3 L651.5,291.1 L651.8,290.0 L651.9,289.0 L652.0,288.0 L652.0,287.1 L652.0,286.3 L651.8,285.5 L651.6,284.8 L651.4,284.2 L651.1,283.7 L650.7,283.2 L650.3,282.8 L649.8,282.4 L649.3,282.2 L648.7,282.0 L648.1,281.9 L647.5,281.8 L646.8,281.8 L646.1,281.9 L645.4,282.1 L644.7,282.3 L643.9,282.5 L643.2,282.8 L642.4,283.2 L641.6,283.6 L640.8,284.1 L640.0,284.6 L639.2,285.2 L638.4,285.8 L637.6,286.4 L636.8,287.1 L636.0,287.8 L635.2,288.5 L634.4,289.2 L633.6,290.0 L632.8,290.8 L632.1,291.6 L631.3,292.5 L630.6,293.3 L629.8,294.2 L629.1,295.1 L628.4,295.9 L627.7,296.8 L627.1,297.7 L626.4,298.6 L625.8,299.4 L625.2,300.3 L624.7,301.2 L624.1,302.0 L623.6,302.9 L623.2,303.7 L622.7,304.5 L622.3,305.3 L621.9,306.1 L621.6,306.9 L621.3,307.6 L621.0,308.3 L620.7,309.0 L620.6,309.6 L620.4,310.3 L620.3,310.9 L620.2,311.4 L620.2,312.0 L620.2,312.5 L620.3,312.9 L620.4,313.3 L620.5,313.7 L620.7,314.1 L620.9,314.4 L621.2,314.6 L621.5,314.9 L621.8,315.0 L622.2,315.2 L622.6,315.3 L623.1,315.3 L623.6,315.3 L624.1,315.3 L624.6,315.2 L625.2,315.1 L625.8,315.0 L626.4,314.8 L627.0,314.6 L627.6,314.3 L628.2,314.0 L628.9,313.7 L629.5,313.4 L630.2,313.0 L630.8,312.6 L631.5,312.1 L632.1,311.7 L632.7,311.2 L633.3,310.7 L633.9,310.2 L634.5,309.7 L635.1,309.2 L635.6,308.7 L636.1,308.1 L636.6,307.6 L637.1,307.0 L637.5,306.5 L637.9,306.0 L638.3,305.5 L638.6,304.9 L638.9,304.4 L639.2,303.9 L639.5,303.5 L639.7,303.0 L639.9,302.6 L640.1,302.1 L640.2,301.7 L640.3,301.4 L640.4,301.0 L640.5,300.6 L640.5,300.3 L640.5,300.0 L640.5,299.8 L640.5,299.5 L640.4,299.3 L640.4,299.1 L640.3,298.9 L640.2,298.8 L640.0,298.6 L639.9,298.5 L639.7,298.5 L639.6,298.4 L639.4,298.4 L639.2,298.3 L639.0,298.3 L638.8,298.4 L638.5,298.4 L638.3,298.5 L638.1,298.5 L637.8,298.6 L637.6,298.7 L637.3,298.8 L637.1,299.0 L636.8,299.1 L636.6,299.3 L636.3,299.4 L636.0,299.6 L635.8,299.8 L635.5,300.0 L635.3,300.2 L635.0,300.4 L634.8,300.6 L634.5,300.8 L634.2,301.1 L634.0,301.3 L633.8,301.5 L633.5,301.7 L633.3,302.0 L633.0,302.2 L632.8,302.4 L632.6,302.6 L632.4,302.9 L632.2,303.1 L632.0,303.3 L631.8,303.5 L631.6,303.7 L631.4,304.0 L631.2,304.2 L631.1,304.4 L630.9,304.6 L630.7,304.8 L630.6,304.9 L630.4,305.1 L630.3,305.3 L630.2,305.5 L630.1,305.7 L629.9,305.8 L629.8,306.0 L629.7,306.1 L629.7,306.3 L629.6,306.4 L629.5,306.5 L629.4,306.7 L629.4,306.8 L629.3,306.9 L629.3,307.0 L629.2,307.1 L629.2,307.2 L629.2,307.3 L629.1,307.4 L629.1,307.4 L629.1,307.5 L629.1,307.6 L629.1,307.6 L629.1,307.7 L629.1,307.7 L629.1,307.8 L629.2,307.8 L629.2,307.9 L629.2,307.9 L629.2,307.9 L629.3,307.9 L629.3,308.0 L629.4,308.0 L629.4,308.0 L629.4,308.0 L629.5,308.0 L629.5,308.0 L629.6,308.0 L629.6,308.0 L629.7,307.9 L629.8,307.9 L629.8,307.9 L629.9,307.9 L629.9,307.9 L630.0,307.8 L630.1,307.8 L630.1,307.8 L630.2,307.7 L630.2,307.7 L630.3,307.7 L630.4,307.6 L630.4,307.6 L630.5,307.5 L630.5,307.5 L630.6,307.4 L630.7,307.4 L630.7,307.3 L630.8,307.3 L630.8,307.2 L630.9,307.2 L630.9,307.1 L630.9,307.1 L631.0,307.0 L631.0,307.0 L631.1,306.9 L631.1,306.8 L631.1,306.8 L631.1,306.7 L631.2,306.7 L631.2,306.6 L631.2,306.5 L631.2,306.5 L631.2,306.4 L631.2,306.4 L631.2,306.3 L631.2,306.3 L631.2,306.2 L631.2,306.1 L631.2,306.1 L631.1,306.0 L631.1,306.0 L631.1,305.9 L631.0,305.9 L631.0,305.8 L630.9,305.8 L630.9,305.7 L630.8,305.7 L630.7,305.7 L630.7,305.6 L630.6,305.6 L630.5,305.6 L630.4,305.5 L630.3,305.5 L630.2,305.5 L630.1,305.5 L630.0,305.5 L629.8,305.5 L629.7,305.4 L629.6,305.4 L629.5,305.4 L629.3,305.4 L629.2,305.5 L629.0,305.5 L628.9,305.5 L628.7,305.5 L628.5,305.5 L628.4,305.6 L628.2,305.6 L628.0,305.6 L627.8,305.7 L627.6,305.7 L627.5,305.8 L627.3,305.8 L627.1,305.9 L626.9,305.9 L626.7,306.0 L626.5,306.1 L626.3,306.1 L626.1,306.2 L625.9,306.3 L625.7,306.4 L625.4,306.5 L625.2,306.6 L625.0,306.7 L624.8,306.7 L624.6,306.8 L624.4,307.0 L624.2,307.1 L624.0,307.2 L623.8,307.3 L623.6,307.4 L623.4,307.5 L623.2,307.6 L623.0,307.7 L622.8,307.8 L622.6,308.0 L622.4,308.1 L622.2,308.2 L622.1,308.3 L621.9,308.4 L621.7,308.6 L621.5,308.7 L621.4,308.8 L621.2,308.9 L621.1,309.1 L620.9,309.2 L620.8,309.3 L620.6,309.4 L620.5,309.5 L620.3,309.6 L620.2,309.8 L620.1,309.9 L620.0,310.0 L619.8,310.1 L619.7,310.2 L619.6,310.3 L619.5,310.4 L619.4,310.5 L619.3,310.6 L619.3,310.7 L619.2,310.7 L619.1,310.8 L619.0,310.9 L618.9,311.0 L618.9,311.1 L618.8,311.1 L618.8,311.2 L618.7,311.3 L618.7,311.3 L618.6,311.4 L618.6,311.4 L618.5,311.5 L618.5,311.5 L618.4,311.6 L618.4,311.6 L618.4,311.6 L618.3,311.7 L618.3,311.7 L618.3,311.7 L618.3,311.7 L618.2,311.7 L618.2,311.7 L618.2,311.8 L618.2,311.8 L618.1,311.8 L618.1,311.8 L618.1,311.8 L618.1,311.7 L618.0,311.7 L618.0,311.7 L618.0,311.7 L617.9,311.7 L617.9,311.7 L617.9,311.6 L617.8,311.6 L617.8,311.6 L617.8,311.6 L617.7,311.5 L617.7,311.5 L617.6,311.5 L617.5,311.4 L617.5,311.4 L617.4,311.3 L617.3,311.3 L617.3,311.3 L617.2,311.2 L617.1,311.2 L617.0,311.1 L616.9,311.1 L616.8,311.1 L616.7,311.0 L616.6,311.0 L616.5,310.9 L616.4,310.9 L616.3,310.9 L616.1,310.8 L616.0,310.8 L615.9,310.8 L615.7,310.7 L615.6,310.7 L615.4,310.6 L615.3,310.6 L615.1,310.6 L614.9,310.6 L614.7,310.5 L614.5,310.5 L614.4,310.5 L614.2,310.5 L614.0,310.5 L613.8,310.4 L613.5,310.4 L613.3,310.4 L613.1,310.4 L612.9,310.4 L612.7,310.4 L612.4,310.4 L612.2,310.4 L612.0,310.4 L611.7,310.4 L611.5,310.4 L611.2,310.4 L611.0,310.5 L610.7,310.5 L610.4,310.5 L610.2,310.5 L609.9,310.6 L609.6,310.6 L609.4,310.6 L609.1,310.7 L608.8,310.7 L608.6,310.7 L608.3,310.8 L608.0,310.8 L607.7,310.9 L607.4,310.9 L607.2,311.0 L606.9,311.1 L606.6,311.1 L606.3,311.2 L606.1,311.2 L605.8,311.3 L605.5,311.4 L605.2,311.5 L605.0,311.5 L604.7,311.6 L604.4,311.7 L604.2,311.8 L603.9,311.8 L603.6,311.9 L603.4,312.0 L603.1,312.1 L602.9,312.2 L602.6,312.3 L602.4,312.4 L602.1,312.5 L601.9,312.6 L601.6,312.6 L601.4,312.7 L601.2,312.8 L600.9,312.9 L600.7,313.0 L600.5,313.1 L600.3,313.2 L600.1,313.3 L599.9,313.4 L599.7,313.5 L599.5,313.6 L599.3,313.7 L599.1,313.8 L599.0,313.9 L598.8,314.0 L598.6,314.1 L598.5,314.2 L598.3,314.3 L598.2,314.3 L598.0,314.4 L597.9,314.5 L597.7,314.6 L597.6,314.7 L597.5,314.8 L597.4,314.9 L597.3,314.9 L597.1,315.0 L597.0,315.1 L596.9,315.2 L596.8,315.2 L596.8,315.3 L596.7,315.4 L596.6,315.5 L596.5,315.5 L596.4,315.6 L596.4,315.6 L596.3,315.7 L596.3,315.7 L596.2,315.8 L596.1,315.8 L596.1,315.9 L596.0,315.9 L596.0,316.0 L596.0,316.0 L595.9,316.1 L595.9,316.1 L595.9,316.1 L595.8,316.1 L595.8,316.2 L595.8,316.2 L595.8,316.2 L595.7,316.2 L595.7,316.2 L595.7,316.3 L595.7,316.3 L595.7,316.3 L595.6,316.3 L595.6,316.3 L595.6,316.3 L595.6,316.3 L595.6,316.3 L595.6,316.3 L595.5,316.2 L595.5,316.2 L595.5,316.2 L595.5,316.2 L595.5,316.2 L595.4,316.1 L595.4,316.1 L595.4,316.1 L595.4,316.1 L595.3,316.0 L595.3,316.0 L595.3,316.0 L595.2,315.9 L595.2,315.9 L595.1,315.9 L595.1,315.8 L595.1,315.8 L595.0,315.7 L594.9,315.7 L594.9,315.6 L594.8,315.6 L594.8,315.5 L594.7,315.5 L594.6,315.5 L594.6,315.4 L594.5,315.4 L594.4,315.3 L594.3,315.3 L594.2,315.2 L594.1,315.2 L594.0,315.1 L593.9,315.1 L593.8,315.0 L593.7,315.0 L593.6,314.9 L593.5,314.9 L593.4,314.8 L593.2,314.8 L593.1,314.7 L593.0,314.7 L592.8,314.7 L592.7,314.6 L592.6,314.6 L592.4,314.5 L592.3,314.5 L592.1,314.5 L592.0,314.4 L591.8,314.4 L591.6,314.4 L591.5,314.3 L591.3,314.3 L591.2,314.3 L591.0,314.3 L590.8,314.2 L590.6,314.2 L590.5,314.2 L590.3,314.2 L590.1,314.2 L589.9,314.2 L589.8,314.2 L589.6,314.2 L589.4,314.2 L589.2,314.1 L589.0,314.2 L588.8,314.2 L588.7,314.2 L588.5,314.2 L588.3,314.2 L588.1,314.2 L587.9,314.2 L587.8,314.2 L587.6,314.2 L587.4,314.3 L587.2,314.3 L587.0,314.3 L586.9,314.4 L586.7,314.4 L586.5,314.4 L586.4,314.5 L586.2,314.5 L586.0,314.5 L585.9,314.6 L585.7,314.6 L585.6,314.7 L585.4,314.7 L585.3,314.8 L585.1,314.8 L585.0,314.9 L584.8,314.9 L584.7,315.0 L584.6,315.1 L584.5,315.1 L584.3,315.2 L584.2,315.2 L584.1,315.3 L584.0,315.4 L583.9,315.4 L583.8,315.5 L583.7,315.6 L583.6,315.6 L583.6,315.7 L583.5,315.8 L583.4,315.8 L583.3,315.9 L583.3,316.0 L583.2,316.1 L583.2,316.1 L583.1,316.2 L583.1,316.3 L583.0,316.3 L583.0,316.4 L583.0,316.5 L583.0,316.5 L583.0,316.6 L582.9,316.7 L582.9,316.7 L582.9,316.8 L582.9,316.9 L582.9,316.9 L583.0,317.0 L583.0,317.1 L583.0,317.1 L583.0,317.2 L583.1,317.2 L583.1,317.3 L583.1,317.3 L583.2,317.4 L583.2,317.4 L583.3,317.5 L583.3,317.5 L583.4,317.6 L583.4,317.6 L583.5,317.6 L583.6,317.7 L583.6,317.7 L583.7,317.7 L583.8,317.8 L583.9,317.8 L583.9,317.8 L584.0,317.8 L584.1,317.9 L584.2,317.9 L584.3,317.9 L584.4,317.9 L584.4,317.9 L584.5,317.9 L584.6,317.9 L584.7,317.9 L584.8,317.9 L584.9,317.9 L585.0,317.9 L585.0,317.9 L585.1,317.9 L585.2,317.8 L585.3,317.8 L585.4,317.8 L585.5,317.8 L585.5,317.8 L585.6,317.7 L585.7,317.7 L585.8,317.7 L585.8,317.6 L585.9,317.6 L586.0,317.5 L586.0,317.5 L586.1,317.5 L586.1,317.4 L586.2,317.4 L586.2,317.3 L586.3,317.3 L586.3,317.2 L586.4,317.2 L586.4,317.1 L586.4,317.1 L586.5,317.0 L586.5,316.9 L586.5,316.9 L586.5,316.8 L586.5,316.8 L586.6,316.7 L586.6,316.7 L586.6,316.6 L586.5,316.5 L586.5,316.5 L586.5,316.4 L586.5,316.3 L586.5,316.3 L586.5,316.2 L586.4,316.2 L586.4,316.1 L586.3,316.0 L586.3,316.0 L586.2,315.9 L586.2,315.9 L586.1,315.8 L586.1,315.8 L586.0,315.7 L585.9,315.7 L585.9,315.6 L585.8,315.6 L585.7,315.5 L585.6,315.5 L585.5,315.4 L585.5,315.4 L585.4,315.3 L585.3,315.3 L585.2,315.3 L585.1,315.2 L585.0,315.2 L584.9,315.2 L584.8,315.1 L584.6,315.1 L584.5,315.1 L584.4,315.1 L584.3,315.0 L584.2,315.0 L584.1,315.0 L584.0,315.0 L583.8,315.0 L583.7,315.0 L583.6,315.0 L583.5,315.0 L583.4,315.0 L583.2,315.0 L583.1,315.0 L583.0,315.0 L582.9,315.0 L582.8,315.0 L582.6,315.0 L582.5,315.0 L582.4,315.1 L582.3,315.1 L582.2,315.1 L582.1,315.1 L582.0,315.2 L581.9,315.2 L581.8,315.2 L581.7,315.3 L581.6,315.3 L581.5,315.4 L581.4,315.4 L581.3,315.4 L581.2,315.5 L581.1,315.5 L581.1,315.6 L581.0,315.6 L580.9,315.7 L580.9,315.8 L580.8,315.8 L580.7,315.9 L580.7,315.9 L580.6,316.0 L580.6,316.0 L580.6,316.1 L580.5,316.2 L580.5,316.2 L580.5,316.3 L580.4,316.4 L580.4,316.4 L580.4,316.5 L580.4,316.6 L580.4,316.6 L580.4,316.7 L580.4,316.8 L580.4,316.8 L580.4,316.9 L580.5,316.9 L580.5,317.0 L580.5,317.1 L580.5,317.1 L580.6,317.2 L580.6,317.2 L580.7,317.3 L580.7,317.4 L580.8,317.4 L580.8,317.5 L580.9,317.5 L581.0,317.6 L581.0,317.6 L581.1,317.7 L581.2,317.7 L581.3,317.8 L581.3,317.8 L581.4,317.8 L581.5,317.9 L581.6,317.9 L581.7,318.0 L581.8,318.0 L581.9,318.0 L582.0,318.0 L582.1,318.1 L582.2,318.1 L582.3,318.1 L582.4,318.1 L582.5,318.1 L582.6,318.1 L582.8,318.2 L582.9,318.2 L583.0,318.2 L583.1,318.2 L583.2,318.2 L583.3,318.2 L583.4,318.2 L583.5,318.1 L583.6,318.1 L583.8,318.1 L583.9,318.1 L584.0,318.1 L584.1,318.1 L584.2,318.0 L584.3,318.0 L584.4,318.0 L584.5,317.9 L584.6,317.9 L584.7,317.9 L584.7,317.8 L584.8,317.8 L584.9,317.8 L585.0,317.7 L585.1,317.7 L585.1,317.6 L585.2,317.6 L585.3,317.5 L585.3,317.5 L585.4,317.4 L585.5,317.4 L585.5,317.3 L585.6,317.2 L585.6,317.2 L585.6,317.1 L585.7,317.1 L585.7,317.0 L585.7,316.9 L585.7,316.9 L585.8,316.8 L585.8,316.7 L585.8,316.7 L585.8,316.6 L585.8,316.6 L585.8,316.5 L585.8,316.4 L585.7,316.4 L585.7,316.3 L585.7,316.2 L585.7,316.2 L585.6,316.1 L585.6,316.1 L585.6,316.0 L585.5,315.9 L585.5,315.9 L585.4,315.8 L585.3,315.8 L585.3,315.7 L585.2,315.7 L585.1,315.6 L585.1,315.6 L585.0,315.5 L584.9,315.5 L584.8,315.4 L584.7,315.4 L584.7,315.4 L584.6,315.3 L584.5,315.3 L584.4,315.3 L584.3,315.2 L584.2,315.2 L584.1,315.2 L584.0,315.1 L583.9,315.1 L583.7,315.1 L583.6,315.1 L583.5,315.1 L583.4,315.1 L583.3,315.1 L583.2,315.1 L583.1,315.1 L583.0,315.1 L582.8,315.1 L582.7,315.1 L582.6,315.1 L582.5,315.1 L582.4,315.1 L582.3,315.1 L582.2,315.1 L582.1,315.1 L582.0,315.2 L581.9,315.2 L581.8,315.2 L581.7,315.3 L581.6,315.3 L581.5,315.3 L581.4,315.4 L581.3,315.4 L581.2,315.4 L581.1,315.5 L581.0,315.5 L581.0,315.6" fill="none" stroke="#4a4ae2" stroke-opacity="0.92" stroke-width="1.45" stroke-linejoin="round"/>
<path d="M604.60,177.19 V196.71" stroke="#000" stroke-width="1.0" fill="none"/>
<text x="606.73" y="192.2" font-family="Liberation Serif, serif" font-size="20.5" stroke="#000" stroke-width="0.35">g</text>
<path d="M617.72,177.19 L622.89,186.95 L617.72,196.71" stroke="#000" stroke-width="1.0" fill="none"/>
<path d="M601.7,188.1 C594,188.5 587.5,191.5 585.3,198.5" fill="none" stroke="#000" stroke-width="1.7"/>
<path d="M584.0,205.4 L581.3,197.2 L588.2,198.6 Z" fill="#000"/>
<path d="M598.40,331.99 V351.51" stroke="#000" stroke-width="1.0" fill="none"/>
<text x="600.53" y="347.0" font-family="Liberation Serif, serif" font-size="20.5" stroke="#000" stroke-width="0.35">x</text>
<path d="M611.52,331.99 L616.69,341.75 L611.52,351.51" stroke="#000" stroke-width="1.0" fill="none"/>
<path d="M594.7,340 C588,338.5 583.5,333 583.0,324.5" fill="none" stroke="#000" stroke-width="1.7"/>
<path d="M582.7,316.7 L579.2,325.4 L586.6,325.4 Z" fill="#000"/>
<text x="63.1" y="366.80" text-anchor="end" font-family="Liberation Serif, serif" font-size="25">0.0</text>
<text x="63.1" y="328.78" text-anchor="end" font-family="Liberation Serif, serif" font-size="25">0.2</text>
<text x="63.1" y="290.76" text-anchor="end" font-family="Liberation Serif, serif" font-size="25">0.4</text>
<text x="63.1" y="252.74" text-anchor="end" font-family="Liberation Serif, serif" font-size="25">0.6</text>
<text x="63.1" y="214.72" text-anchor="end" font-family="Liberation Serif, serif" font-size="25">0.8</text>
<text x="63.1" y="176.70" text-anchor="end" font-family="Liberation Serif, serif" font-size="25">1.0</text>
<text x="96.4" y="194.4" font-family="Liberation Serif, serif" font-size="25.6">(b)</text>
<path d="M106.30,220.30 V244.10" stroke="#000" stroke-width="1.1" fill="none"/>
<text x="108.90" y="238.6" font-family="Liberation Serif, serif" font-size="25">g</text>
<path d="M123.50,220.30 L129.80,232.20 L123.50,244.10" stroke="#000" stroke-width="1.1" fill="none"/>
<path d="M106.30,258.30 V282.10" stroke="#000" stroke-width="1.1" fill="none"/>
<text x="108.90" y="276.6" font-family="Liberation Serif, serif" font-size="25">x</text>
<path d="M123.50,258.30 L129.80,270.20 L123.50,282.10" stroke="#000" stroke-width="1.1" fill="none"/>
<path d="M144.4,230.4 H213.4" stroke="#000" stroke-width="2.5"/>
<path d="M144.4,268.2 H213.4" stroke="#f00" stroke-width="2.5"/>
<path d="M137.86,524.7 v-5.4 M137.86,380.0 v5.4" stroke="#3a3a3a" stroke-width="1"/>
<path d="M197.32,524.7 v-5.4 M197.32,380.0 v5.4" stroke="#3a3a3a" stroke-width="1"/>
<path d="M256.78,524.7 v-5.4 M256.78,380.0 v5.4" stroke="#3a3a3a" stroke-width="1"/>
<path d="M316.24,524.7 v-5.4 M316.24,380.0 v5.4" stroke="#3a3a3a" stroke-width="1"/>
<path d="M375.70,524.7 v-5.4 M375.70,380.0 v5.4" stroke="#3a3a3a" stroke-width="1"/>
<path d="M435.16,524.7 v-5.4 M435.16,380.0 v5.4" stroke="#3a3a3a" stroke-width="1"/>
<path d="M494.62,524.7 v-5.4 M494.62,380.0 v5.4" stroke="#3a3a3a" stroke-width="1"/>
<path d="M554.08,524.7 v-5.4 M554.08,380.0 v5.4" stroke="#3a3a3a" stroke-width="1"/>
<path d="M613.54,524.7 v-5.4 M613.54,380.0 v5.4" stroke="#3a3a3a" stroke-width="1"/>
<path d="M78.4,518.90 h7.9 M673.0,518.90 h-7.9" stroke="#3a3a3a" stroke-width="1"/>
<path d="M78.4,492.26 h7.9 M673.0,492.26 h-7.9" stroke="#3a3a3a" stroke-width="1"/>
<path d="M78.4,465.62 h7.9 M673.0,465.62 h-7.9" stroke="#3a3a3a" stroke-width="1"/>
<path d="M78.4,438.98 h7.9 M673.0,438.98 h-7.9" stroke="#3a3a3a" stroke-width="1"/>
<path d="M78.4,412.34 h7.9 M673.0,412.34 h-7.9" stroke="#3a3a3a" stroke-width="1"/>
<path d="M78.4,385.70 h7.9 M673.0,385.70 h-7.9" stroke="#3a3a3a" stroke-width="1"/>
<rect x="78.4" y="380.0" width="594.6" height="144.70" fill="none" stroke="#000" stroke-width="1.9"/>
<clipPath id="cc"><rect x="76.4" y="380.0" width="598.6" height="144.70000000000005"/></clipPath>
<g clip-path="url(#cc)" fill="none" stroke-width="2.5" stroke-linejoin="round" stroke-linecap="square">
<path d="M78.40,385.70 L78.73,385.70 L79.06,385.70 L79.39,385.70 L79.72,385.70 L80.05,385.70 L80.38,385.70 L80.71,385.70 L81.04,385.70 L81.37,385.70 L81.70,385.70 L82.03,385.70 L82.36,385.70 L82.69,385.70 L83.02,385.70 L83.35,385.70 L83.69,385.70 L84.02,385.70 L84.35,385.70 L84.68,385.70 L85.01,385.70 L85.34,385.70 L85.67,385.70 L86.00,385.70 L86.33,385.70 L86.66,385.70 L86.99,385.70 L87.32,385.70 L87.65,385.70 L87.98,385.70 L88.31,385.70 L88.64,385.70 L88.97,385.70 L89.30,385.70 L89.63,385.70 L89.96,385.70 L90.29,385.70 L90.62,385.70 L90.95,385.70 L91.28,385.70 L91.61,385.70 L91.94,385.70 L92.27,385.70 L92.60,385.70 L92.93,385.70 L93.27,385.70 L93.60,385.70 L93.93,385.70 L94.26,385.70 L94.59,385.70 L94.92,385.70 L95.25,385.70 L95.58,385.70 L95.91,385.70 L96.24,385.70 L96.57,385.70 L96.90,385.70 L97.23,385.70 L97.56,385.70 L97.89,385.70 L98.22,385.70 L98.55,385.70 L98.88,385.70 L99.21,385.70 L99.54,385.70 L99.87,385.70 L100.20,385.70 L100.53,385.70 L100.86,385.70 L101.19,385.70 L101.52,385.70 L101.85,385.70 L102.18,385.70 L102.51,385.70 L102.84,385.70 L103.18,385.70 L103.51,385.70 L103.84,385.70 L104.17,385.70 L104.50,385.70 L104.83,385.70 L105.16,385.70 L105.49,385.70 L105.82,385.70 L106.15,385.70 L106.48,385.70 L106.81,385.70 L107.14,385.70 L107.47,385.70 L107.80,385.70 L108.13,385.70 L108.46,385.70 L108.79,385.70 L109.12,385.70 L109.45,385.70 L109.78,385.70 L110.11,385.70 L110.44,385.70 L110.77,385.70 L111.10,385.70 L111.43,385.70 L111.76,385.70 L112.09,385.70 L112.42,385.70 L112.75,385.70 L113.08,385.70 L113.42,385.70 L113.75,385.70 L114.08,385.70 L114.41,385.70 L114.74,385.70 L115.07,385.70 L115.40,385.70 L115.73,385.70 L116.06,385.70 L116.39,385.70 L116.72,385.70 L117.05,385.70 L117.38,385.70 L117.71,385.70 L118.04,385.70 L118.37,385.70 L118.70,385.70 L119.03,385.70 L119.36,385.70 L119.69,385.70 L120.02,385.70 L120.35,385.70 L120.68,385.70 L121.01,385.70 L121.34,385.70 L121.67,385.70 L122.00,385.70 L122.33,385.70 L122.66,385.70 L123.00,385.70 L123.33,385.70 L123.66,385.70 L123.99,385.70 L124.32,385.70 L124.65,385.70 L124.98,385.70 L125.31,385.70 L125.64,385.70 L125.97,385.70 L126.30,385.70 L126.63,385.70 L126.96,385.70 L127.29,385.70 L127.62,385.70 L127.95,385.70 L128.28,385.70 L128.61,385.70 L128.94,385.70 L129.27,385.70 L129.60,385.70 L129.93,385.70 L130.26,385.70 L130.59,385.70 L130.92,385.70 L131.25,385.70 L131.58,385.70 L131.91,385.70 L132.24,385.70 L132.57,385.70 L132.91,385.70 L133.24,385.70 L133.57,385.70 L133.90,385.70 L134.23,385.70 L134.56,385.70 L134.89,385.70 L135.22,385.70 L135.55,385.70 L135.88,385.70 L136.21,385.70 L136.54,385.70 L136.87,385.70 L137.20,385.70 L137.53,385.70 L137.86,385.70 L138.19,385.70 L138.52,385.70 L138.85,385.70 L139.18,385.70 L139.51,385.70 L139.84,385.70 L140.17,385.70 L140.50,385.70 L140.83,385.71 L141.16,385.71 L141.49,385.71 L141.82,385.71 L142.15,385.71 L142.48,385.71 L142.81,385.71 L143.15,385.71 L143.48,385.71 L143.81,385.71 L144.14,385.71 L144.47,385.71 L144.80,385.71 L145.13,385.71 L145.46,385.71 L145.79,385.71 L146.12,385.71 L146.45,385.71 L146.78,385.71 L147.11,385.71 L147.44,385.71 L147.77,385.71 L148.10,385.71 L148.43,385.71 L148.76,385.71 L149.09,385.71 L149.42,385.71 L149.75,385.71 L150.08,385.71 L150.41,385.71 L150.74,385.71 L151.07,385.72 L151.40,385.72 L151.73,385.72 L152.06,385.72 L152.39,385.72 L152.73,385.72 L153.06,385.72 L153.39,385.72 L153.72,385.72 L154.05,385.72 L154.38,385.72 L154.71,385.72 L155.04,385.72 L155.37,385.72 L155.70,385.72 L156.03,385.72 L156.36,385.72 L156.69,385.73 L157.02,385.73 L157.35,385.73 L157.68,385.73 L158.01,385.73 L158.34,385.73 L158.67,385.73 L159.00,385.73 L159.33,385.73 L159.66,385.73 L159.99,385.73 L160.32,385.73 L160.65,385.73 L160.98,385.74 L161.31,385.74 L161.64,385.74 L161.97,385.74 L162.30,385.74 L162.64,385.74 L162.97,385.74 L163.30,385.74 L163.63,385.74 L163.96,385.74 L164.29,385.74 L164.62,385.75 L164.95,385.75 L165.28,385.75 L165.61,385.75 L165.94,385.75 L166.27,385.75 L166.60,385.75 L166.93,385.75 L167.26,385.75 L167.59,385.75 L167.92,385.76 L168.25,385.76 L168.58,385.76 L168.91,385.76 L169.24,385.76 L169.57,385.76 L169.90,385.76 L170.23,385.76 L170.56,385.76 L170.89,385.77 L171.22,385.77 L171.55,385.77 L171.88,385.77 L172.21,385.77 L172.55,385.77 L172.88,385.77 L173.21,385.77 L173.54,385.77 L173.87,385.77 L174.20,385.78 L174.53,385.78 L174.86,385.78 L175.19,385.78 L175.52,385.78 L175.85,385.78 L176.18,385.78 L176.51,385.78 L176.84,385.78 L177.17,385.78 L177.50,385.79 L177.83,385.79 L178.16,385.79 L178.49,385.79 L178.82,385.79 L179.15,385.79 L179.48,385.79 L179.81,385.79 L180.14,385.79 L180.47,385.79 L180.80,385.79 L181.13,385.79 L181.46,385.80 L181.79,385.80 L182.12,385.80 L182.45,385.80 L182.79,385.80 L183.12,385.80 L183.45,385.80 L183.78,385.80 L184.11,385.80 L184.44,385.80 L184.77,385.80 L185.10,385.80 L185.43,385.80 L185.76,385.80 L186.09,385.80 L186.42,385.80 L186.75,385.80 L187.08,385.80 L187.41,385.80 L187.74,385.80 L188.07,385.80 L188.40,385.80 L188.73,385.80 L189.06,385.80 L189.39,385.80 L189.72,385.80 L190.05,385.80 L190.38,385.80 L190.71,385.80 L191.04,385.80 L191.37,385.80 L191.70,385.80 L192.03,385.80 L192.37,385.80 L192.70,385.80 L193.03,385.80 L193.36,385.80 L193.69,385.80 L194.02,385.80 L194.35,385.80 L194.68,385.80 L195.01,385.80 L195.34,385.80 L195.67,385.80 L196.00,385.80 L196.33,385.79 L196.66,385.79 L196.99,385.79 L197.32,385.79 L197.65,385.79 L197.98,385.79 L198.31,385.79 L198.64,385.79 L198.97,385.79 L199.30,385.79 L199.63,385.79 L199.96,385.79 L200.29,385.78 L200.62,385.78 L200.95,385.78 L201.28,385.78 L201.61,385.78 L201.94,385.78 L202.28,385.78 L202.61,385.78 L202.94,385.78 L203.27,385.78 L203.60,385.77 L203.93,385.77 L204.26,385.77 L204.59,385.77 L204.92,385.77 L205.25,385.77 L205.58,385.77 L205.91,385.77 L206.24,385.77 L206.57,385.77 L206.90,385.76 L207.23,385.76 L207.56,385.76 L207.89,385.76 L208.22,385.76 L208.55,385.76 L208.88,385.76 L209.21,385.76 L209.54,385.76 L209.87,385.76 L210.20,385.75 L210.53,385.75 L210.86,385.75 L211.19,385.75 L211.52,385.75 L211.85,385.75 L212.19,385.75 L212.52,385.75 L212.85,385.75 L213.18,385.75 L213.51,385.74 L213.84,385.74 L214.17,385.74 L214.50,385.74 L214.83,385.74 L215.16,385.74 L215.49,385.74 L215.82,385.74 L216.15,385.74 L216.48,385.74 L216.81,385.73 L217.14,385.73 L217.47,385.73 L217.80,385.73 L218.13,385.73 L218.46,385.73 L218.79,385.73 L219.12,385.73 L219.45,385.73 L219.78,385.73 L220.11,385.73 L220.44,385.73 L220.77,385.73 L221.10,385.73 L221.43,385.73 L221.76,385.73 L222.10,385.73 L222.43,385.73 L222.76,385.73 L223.09,385.73 L223.42,385.73 L223.75,385.73 L224.08,385.73 L224.41,385.73 L224.74,385.73 L225.07,385.73 L225.40,385.73 L225.73,385.73 L226.06,385.73 L226.39,385.73 L226.72,385.73 L227.05,385.73 L227.38,385.73 L227.71,385.73 L228.04,385.73 L228.37,385.73 L228.70,385.73 L229.03,385.73 L229.36,385.73 L229.69,385.73 L230.02,385.73 L230.35,385.73 L230.68,385.73 L231.01,385.73 L231.34,385.73 L231.67,385.73 L232.01,385.73 L232.34,385.73 L232.67,385.73 L233.00,385.72 L233.33,385.72 L233.66,385.72 L233.99,385.72 L234.32,385.72 L234.65,385.72 L234.98,385.71 L235.31,385.71 L235.64,385.71 L235.97,385.71 L236.30,385.71 L236.63,385.71 L236.96,385.70 L237.29,385.70 L237.62,385.70 L237.95,385.70 L238.28,385.70 L238.61,385.70 L238.94,385.70 L239.27,385.70 L239.60,385.71 L239.93,385.71 L240.26,385.71 L240.59,385.71 L240.92,385.71 L241.25,385.72 L241.58,385.72 L241.92,385.72 L242.25,385.73 L242.58,385.73 L242.91,385.73 L243.24,385.74 L243.57,385.74 L243.90,385.74 L244.23,385.75 L244.56,385.75 L244.89,385.75 L245.22,385.75 L245.55,385.75 L245.88,385.76 L246.21,385.76 L246.54,385.76 L246.87,385.77 L247.20,385.77 L247.53,385.77 L247.86,385.78 L248.19,385.79 L248.52,385.79 L248.85,385.80 L249.18,385.81 L249.51,385.82 L249.84,385.84 L250.17,385.85 L250.50,385.87 L250.83,385.89 L251.16,385.90 L251.49,385.93 L251.83,385.95 L252.16,385.97 L252.49,385.99 L252.82,386.02 L253.15,386.04 L253.48,386.06 L253.81,386.08 L254.14,386.11 L254.47,386.12 L254.80,386.14 L255.13,386.16 L255.46,386.17 L255.79,386.18 L256.12,386.19 L256.45,386.19 L256.78,386.20 L257.11,386.20 L257.44,386.20 L257.77,386.19 L258.10,386.19 L258.43,386.18 L258.76,386.18 L259.09,386.18 L259.42,386.17 L259.75,386.17 L260.08,386.18 L260.41,386.19 L260.74,386.20 L261.07,386.22 L261.40,386.24 L261.74,386.27 L262.07,386.30 L262.40,386.35 L262.73,386.39 L263.06,386.45 L263.39,386.51 L263.72,386.57 L264.05,386.64 L264.38,386.71 L264.71,386.78 L265.04,386.86 L265.37,386.93 L265.70,387.00 L266.03,387.07 L266.36,387.13 L266.69,387.19 L267.02,387.25 L267.35,387.30 L267.68,387.34 L268.01,387.37 L268.34,387.40 L268.67,387.42 L269.00,387.44 L269.33,387.45 L269.66,387.46 L269.99,387.46 L270.32,387.47 L270.65,387.47 L270.98,387.48 L271.31,387.48 L271.64,387.50 L271.98,387.52 L272.31,387.54 L272.64,387.58 L272.97,387.62 L273.30,387.68 L273.63,387.75 L273.96,387.83 L274.29,387.92 L274.62,388.02 L274.95,388.14 L275.28,388.26 L275.61,388.40 L275.94,388.54 L276.27,388.69 L276.60,388.84 L276.93,389.00 L277.26,389.15 L277.59,389.31 L277.92,389.46 L278.25,389.61 L278.58,389.74 L278.91,389.87 L279.24,389.99 L279.57,390.10 L279.90,390.19 L280.23,390.27 L280.56,390.33 L280.89,390.38 L281.22,390.42 L281.56,390.45 L281.89,390.46 L282.22,390.47 L282.55,390.47 L282.88,390.46 L283.21,390.46 L283.54,390.46 L283.87,390.46 L284.20,390.47 L284.53,390.49 L284.86,390.53 L285.19,390.58 L285.52,390.65 L285.85,390.74 L286.18,390.84 L286.51,390.97 L286.84,391.12 L287.17,391.29 L287.50,391.48 L287.83,391.69 L288.16,391.90 L288.49,392.13 L288.82,392.37 L289.15,392.61 L289.48,392.85 L289.81,393.08 L290.14,393.31 L290.47,393.53 L290.80,393.74 L291.13,393.92 L291.47,394.09 L291.80,394.24 L292.13,394.37 L292.46,394.47 L292.79,394.56 L293.12,394.62 L293.45,394.67 L293.78,394.70 L294.11,394.72 L294.44,394.73 L294.77,394.74 L295.10,394.74 L295.43,394.74 L295.76,394.75 L296.09,394.77 L296.42,394.80 L296.75,394.84 L297.08,394.91 L297.41,394.99 L297.74,395.10 L298.07,395.23 L298.40,395.39 L298.73,395.57 L299.06,395.78 L299.39,396.01 L299.72,396.26 L300.05,396.54 L300.38,396.82 L300.71,397.12 L301.04,397.44 L301.38,397.75 L301.71,398.07 L302.04,398.39 L302.37,398.70 L302.70,398.99 L303.03,399.28 L303.36,399.55 L303.69,399.79 L304.02,400.02 L304.35,400.22 L304.68,400.39 L305.01,400.54 L305.34,400.66 L305.67,400.75 L306.00,400.82 L306.33,400.87 L306.66,400.90 L306.99,400.92 L307.32,400.92 L307.65,400.92 L307.98,400.92 L308.31,400.92 L308.64,400.93 L308.97,400.95 L309.30,401.00 L309.63,401.06 L309.96,401.16 L310.29,401.28 L310.62,401.43 L310.95,401.62 L311.29,401.84 L311.62,402.09 L311.95,402.38 L312.28,402.69 L312.61,403.03 L312.94,403.38 L313.27,403.75 L313.60,404.14 L313.93,404.52 L314.26,404.90 L314.59,405.28 L314.92,405.64 L315.25,405.98 L315.58,406.30 L315.91,406.59 L316.24,406.85 L316.57,407.08 L316.90,407.27 L317.23,407.43 L317.56,407.56 L317.89,407.66 L318.22,407.73 L318.55,407.77 L318.88,407.80 L319.21,407.81 L319.54,407.82 L319.87,407.82 L320.20,407.82 L320.53,407.83 L320.86,407.85 L321.20,407.90 L321.53,407.96 L321.86,408.06 L322.19,408.18 L322.52,408.34 L322.85,408.53 L323.18,408.76 L323.51,409.02 L323.84,409.32 L324.17,409.65 L324.50,410.01 L324.83,410.39 L325.16,410.80 L325.49,411.22 L325.82,411.66 L326.15,412.10 L326.48,412.54 L326.81,412.98 L327.14,413.41 L327.47,413.82 L327.80,414.21 L328.13,414.58 L328.46,414.92 L328.79,415.22 L329.12,415.50 L329.45,415.73 L329.78,415.93 L330.11,416.10 L330.44,416.22 L330.77,416.32 L331.11,416.39 L331.44,416.43 L331.77,416.45 L332.10,416.46 L332.43,416.46 L332.76,416.46 L333.09,416.46 L333.42,416.48 L333.75,416.51 L334.08,416.56 L334.41,416.65 L334.74,416.77 L335.07,416.93 L335.40,417.13 L335.73,417.37 L336.06,417.65 L336.39,417.98 L336.72,418.34 L337.05,418.74 L337.38,419.17 L337.71,419.63 L338.04,420.10 L338.37,420.59 L338.70,421.07 L339.03,421.56 L339.36,422.04 L339.69,422.50 L340.02,422.93 L340.35,423.33 L340.68,423.70 L341.01,424.03 L341.35,424.32 L341.68,424.56 L342.01,424.77 L342.34,424.93 L342.67,425.05 L343.00,425.14 L343.33,425.20 L343.66,425.23 L343.99,425.25 L344.32,425.25 L344.65,425.25 L344.98,425.25 L345.31,425.26 L345.64,425.29 L345.97,425.34 L346.30,425.42 L346.63,425.54 L346.96,425.68 L347.29,425.87 L347.62,426.10 L347.95,426.37 L348.28,426.69 L348.61,427.04 L348.94,427.43 L349.27,427.86 L349.60,428.31 L349.93,428.80 L350.26,429.30 L350.59,429.82 L350.93,430.34 L351.26,430.86 L351.59,431.38 L351.92,431.89 L352.25,432.38 L352.58,432.84 L352.91,433.27 L353.24,433.67 L353.57,434.04 L353.90,434.36 L354.23,434.64 L354.56,434.87 L354.89,435.07 L355.22,435.22 L355.55,435.33 L355.88,435.42 L356.21,435.47 L356.54,435.50 L356.87,435.51 L357.20,435.51 L357.53,435.51 L357.86,435.51 L358.19,435.52 L358.52,435.56 L358.85,435.62 L359.18,435.72 L359.51,435.85 L359.84,436.02 L360.17,436.24 L360.50,436.51 L360.84,436.83 L361.17,437.19 L361.50,437.59 L361.83,438.04 L362.16,438.52 L362.49,439.02 L362.82,439.55 L363.15,440.10 L363.48,440.64 L363.81,441.19 L364.14,441.72 L364.47,442.23 L364.80,442.72 L365.13,443.17 L365.46,443.58 L365.79,443.95 L366.12,444.27 L366.45,444.55 L366.78,444.78 L367.11,444.96 L367.44,445.10 L367.77,445.20 L368.10,445.27 L368.43,445.31 L368.76,445.32 L369.09,445.33 L369.42,445.33 L369.75,445.33 L370.08,445.34 L370.41,445.37 L370.75,445.42 L371.08,445.51 L371.41,445.62 L371.74,445.78 L372.07,445.97 L372.40,446.22 L372.73,446.50 L373.06,446.83 L373.39,447.21 L373.72,447.62 L374.05,448.07 L374.38,448.56 L374.71,449.07 L375.04,449.60 L375.37,450.15 L375.70,450.70 L376.03,451.26 L376.36,451.81 L376.69,452.34 L377.02,452.86 L377.35,453.35 L377.68,453.81 L378.01,454.23 L378.34,454.62 L378.67,454.96 L379.00,455.26 L379.33,455.51 L379.66,455.71 L379.99,455.88 L380.32,456.00 L380.66,456.09 L380.99,456.15 L381.32,456.18 L381.65,456.20 L381.98,456.20 L382.31,456.20 L382.64,456.20 L382.97,456.21 L383.30,456.25 L383.63,456.31 L383.96,456.40 L384.29,456.53 L384.62,456.70 L384.95,456.92 L385.28,457.19 L385.61,457.50 L385.94,457.86 L386.27,458.27 L386.60,458.72 L386.93,459.20 L387.26,459.71 L387.59,460.24 L387.92,460.78 L388.25,461.33 L388.58,461.88 L388.91,462.42 L389.24,462.94 L389.57,463.43 L389.90,463.88 L390.23,464.30 L390.57,464.68 L390.90,465.00 L391.23,465.29 L391.56,465.52 L391.89,465.71 L392.22,465.85 L392.55,465.96 L392.88,466.03 L393.21,466.07 L393.54,466.09 L393.87,466.09 L394.20,466.09 L394.53,466.10 L394.86,466.10 L395.19,466.13 L395.52,466.18 L395.85,466.25 L396.18,466.36 L396.51,466.51 L396.84,466.70 L397.17,466.93 L397.50,467.20 L397.83,467.51 L398.16,467.87 L398.49,468.27 L398.82,468.70 L399.15,469.16 L399.48,469.65 L399.81,470.16 L400.14,470.69 L400.48,471.22 L400.81,471.75 L401.14,472.28 L401.47,472.79 L401.80,473.29 L402.13,473.76 L402.46,474.20 L402.79,474.61 L403.12,474.97 L403.45,475.30 L403.78,475.59 L404.11,475.83 L404.44,476.03 L404.77,476.19 L405.10,476.32 L405.43,476.40 L405.76,476.46 L406.09,476.49 L406.42,476.51 L406.75,476.51 L407.08,476.51 L407.41,476.51 L407.74,476.52 L408.07,476.55 L408.40,476.60 L408.73,476.69 L409.06,476.80 L409.39,476.96 L409.72,477.15 L410.05,477.39 L410.38,477.68 L410.72,478.00 L411.05,478.37 L411.38,478.77 L411.71,479.21 L412.04,479.67 L412.37,480.15 L412.70,480.65 L413.03,481.15 L413.36,481.65 L413.69,482.14 L414.02,482.61 L414.35,483.06 L414.68,483.48 L415.01,483.86 L415.34,484.20 L415.67,484.50 L416.00,484.76 L416.33,484.98 L416.66,485.15 L416.99,485.29 L417.32,485.38 L417.65,485.45 L417.98,485.49 L418.31,485.51 L418.64,485.52 L418.97,485.52 L419.30,485.52 L419.63,485.52 L419.96,485.54 L420.29,485.58 L420.63,485.64 L420.96,485.74 L421.29,485.86 L421.62,486.02 L421.95,486.22 L422.28,486.45 L422.61,486.72 L422.94,487.03 L423.27,487.37 L423.60,487.74 L423.93,488.14 L424.26,488.56 L424.59,489.00 L424.92,489.45 L425.25,489.91 L425.58,490.36 L425.91,490.82 L426.24,491.26 L426.57,491.68 L426.90,492.09 L427.23,492.47 L427.56,492.82 L427.89,493.13 L428.22,493.41 L428.55,493.66 L428.88,493.87 L429.21,494.04 L429.54,494.18 L429.87,494.29 L430.21,494.37 L430.54,494.42 L430.87,494.45 L431.20,494.46 L431.53,494.47 L431.86,494.47 L432.19,494.47 L432.52,494.48 L432.85,494.50 L433.18,494.54 L433.51,494.60 L433.84,494.69 L434.17,494.82 L434.50,494.97 L434.83,495.16 L435.16,495.39 L435.49,495.65 L435.82,495.95 L436.15,496.27 L436.48,496.62 L436.81,496.99 L437.14,497.38 L437.47,497.78 L437.80,498.18 L438.13,498.58 L438.46,498.97 L438.79,499.35 L439.12,499.71 L439.45,500.05 L439.78,500.36 L440.12,500.63 L440.45,500.88 L440.78,501.09 L441.11,501.26 L441.44,501.40 L441.77,501.51 L442.10,501.59 L442.43,501.64 L442.76,501.68 L443.09,501.69 L443.42,501.70 L443.75,501.70 L444.08,501.70 L444.41,501.70 L444.74,501.71 L445.07,501.74 L445.40,501.79 L445.73,501.85 L446.06,501.94 L446.39,502.06 L446.72,502.21 L447.05,502.38 L447.38,502.58 L447.71,502.81 L448.04,503.06 L448.37,503.34 L448.70,503.64 L449.03,503.95 L449.36,504.27 L449.69,504.61 L450.02,504.94 L450.36,505.28 L450.69,505.62 L451.02,505.94 L451.35,506.25 L451.68,506.55 L452.01,506.83 L452.34,507.08 L452.67,507.31 L453.00,507.52 L453.33,507.70 L453.66,507.85 L453.99,507.98 L454.32,508.08 L454.65,508.16 L454.98,508.22 L455.31,508.26 L455.64,508.28 L455.97,508.29 L456.30,508.30 L456.63,508.30 L456.96,508.30 L457.29,508.31 L457.62,508.32 L457.95,508.35 L458.28,508.39 L458.61,508.45 L458.94,508.53 L459.27,508.64 L459.60,508.77 L459.94,508.92 L460.27,509.09 L460.60,509.28 L460.93,509.49 L461.26,509.72 L461.59,509.97 L461.92,510.22 L462.25,510.48 L462.58,510.74 L462.91,511.00 L463.24,511.26 L463.57,511.50 L463.90,511.73 L464.23,511.95 L464.56,512.14 L464.89,512.32 L465.22,512.47 L465.55,512.61 L465.88,512.72 L466.21,512.80 L466.54,512.87 L466.87,512.92 L467.20,512.95 L467.53,512.97 L467.86,512.98 L468.19,512.99 L468.52,512.98 L468.85,512.98 L469.18,512.98 L469.51,512.98 L469.85,513.00 L470.18,513.02 L470.51,513.05 L470.84,513.10 L471.17,513.17 L471.50,513.24 L471.83,513.34 L472.16,513.45 L472.49,513.57 L472.82,513.71 L473.15,513.85 L473.48,514.01 L473.81,514.18 L474.14,514.35 L474.47,514.52 L474.80,514.70 L475.13,514.88 L475.46,515.05 L475.79,515.22 L476.12,515.37 L476.45,515.53 L476.78,515.67 L477.11,515.79 L477.44,515.91 L477.77,516.01 L478.10,516.10 L478.43,516.18 L478.76,516.24 L479.09,516.29 L479.42,516.33 L479.75,516.36 L480.09,516.38 L480.42,516.40 L480.75,516.41 L481.08,516.41 L481.41,516.42 L481.74,516.42 L482.07,516.43 L482.40,516.44 L482.73,516.45 L483.06,516.47 L483.39,516.49 L483.72,516.53 L484.05,516.57 L484.38,516.62 L484.71,516.68 L485.04,516.74 L485.37,516.81 L485.70,516.89 L486.03,516.97 L486.36,517.06 L486.69,517.14 L487.02,517.23 L487.35,517.32 L487.68,517.41 L488.01,517.50 L488.34,517.58 L488.67,517.65 L489.00,517.72 L489.33,517.78 L489.66,517.84 L490.00,517.89 L490.33,517.93 L490.66,517.96 L490.99,517.99 L491.32,518.01 L491.65,518.02 L491.98,518.03 L492.31,518.04 L492.64,518.04 L492.97,518.03 L493.30,518.03 L493.63,518.03 L493.96,518.02 L494.29,518.02 L494.62,518.01 L494.95,518.01 L495.28,518.01 L495.61,518.02 L495.94,518.03 L496.27,518.04 L496.60,518.05 L496.93,518.07 L497.26,518.09 L497.59,518.11 L497.92,518.13 L498.25,518.16 L498.58,518.19 L498.91,518.22 L499.24,518.25 L499.58,518.28 L499.91,518.31 L500.24,518.34 L500.57,518.37 L500.90,518.40 L501.23,518.43 L501.56,518.45 L501.89,518.48 L502.22,518.50 L502.55,518.52 L502.88,518.54 L503.21,518.56 L503.54,518.57 L503.87,518.58 L504.20,518.59 L504.53,518.60 L504.86,518.61 L505.19,518.62 L505.52,518.62 L505.85,518.63 L506.18,518.63 L506.51,518.64 L506.84,518.64 L507.17,518.65 L507.50,518.65 L507.83,518.66 L508.16,518.66 L508.49,518.67 L508.82,518.67 L509.15,518.68 L509.49,518.69 L509.82,518.69 L510.15,518.70 L510.48,518.71 L510.81,518.72 L511.14,518.73 L511.47,518.74 L511.80,518.74 L512.13,518.75 L512.46,518.76 L512.79,518.77 L513.12,518.78 L513.45,518.79 L513.78,518.79 L514.11,518.80 L514.44,518.80 L514.77,518.81 L515.10,518.81 L515.43,518.82 L515.76,518.82 L516.09,518.82 L516.42,518.82 L516.75,518.82 L517.08,518.82 L517.41,518.82 L517.74,518.81 L518.07,518.81 L518.40,518.81 L518.73,518.80 L519.06,518.80 L519.40,518.79 L519.73,518.78 L520.06,518.78 L520.39,518.77 L520.72,518.76 L521.05,518.76 L521.38,518.75 L521.71,518.74 L522.04,518.74 L522.37,518.73 L522.70,518.72 L523.03,518.72 L523.36,518.71 L523.69,518.71 L524.02,518.70 L524.35,518.69 L524.68,518.69 L525.01,518.68 L525.34,518.68 L525.67,518.67 L526.00,518.67 L526.33,518.67 L526.66,518.66 L526.99,518.66 L527.32,518.66 L527.65,518.65 L527.98,518.65 L528.31,518.65 L528.64,518.65 L528.97,518.65 L529.31,518.64 L529.64,518.64 L529.97,518.64 L530.30,518.64 L530.63,518.65 L530.96,518.65 L531.29,518.65 L531.62,518.65 L531.95,518.66 L532.28,518.66 L532.61,518.66 L532.94,518.67 L533.27,518.67 L533.60,518.68 L533.93,518.69 L534.26,518.69 L534.59,518.70 L534.92,518.71 L535.25,518.72 L535.58,518.72 L535.91,518.73 L536.24,518.74 L536.57,518.75 L536.90,518.76 L537.23,518.77 L537.56,518.78 L537.89,518.79 L538.22,518.80 L538.55,518.80 L538.88,518.81 L539.22,518.82 L539.55,518.83 L539.88,518.84 L540.21,518.85 L540.54,518.85 L540.87,518.86 L541.20,518.87 L541.53,518.87 L541.86,518.88 L542.19,518.88 L542.52,518.88 L542.85,518.89 L543.18,518.89 L543.51,518.89 L543.84,518.89 L544.17,518.89 L544.50,518.89 L544.83,518.89 L545.16,518.89 L545.49,518.88 L545.82,518.88 L546.15,518.87 L546.48,518.87 L546.81,518.86 L547.14,518.85 L547.47,518.85 L547.80,518.84 L548.13,518.83 L548.46,518.82 L548.79,518.81 L549.13,518.80 L549.46,518.78 L549.79,518.77 L550.12,518.76 L550.45,518.75 L550.78,518.73 L551.11,518.72 L551.44,518.71 L551.77,518.69 L552.10,518.68 L552.43,518.66 L552.76,518.65 L553.09,518.64 L553.42,518.62 L553.75,518.61 L554.08,518.60 L554.41,518.58 L554.74,518.57 L555.07,518.56 L555.40,518.55 L555.73,518.54 L556.06,518.53 L556.39,518.52 L556.72,518.51 L557.05,518.50 L557.38,518.49 L557.71,518.49 L558.04,518.48 L558.37,518.47 L558.70,518.47 L559.04,518.47 L559.37,518.46 L559.70,518.46 L560.03,518.46 L560.36,518.46 L560.69,518.46 L561.02,518.46 L561.35,518.47 L561.68,518.47 L562.01,518.47 L562.34,518.48 L562.67,518.48 L563.00,518.49 L563.33,518.50 L563.66,518.51 L563.99,518.51 L564.32,518.52 L564.65,518.53 L564.98,518.54 L565.31,518.55 L565.64,518.57 L565.97,518.58 L566.30,518.59 L566.63,518.60 L566.96,518.62 L567.29,518.63 L567.62,518.64 L567.95,518.65 L568.28,518.67 L568.61,518.68 L568.95,518.69 L569.28,518.71 L569.61,518.72 L569.94,518.73 L570.27,518.75 L570.60,518.76 L570.93,518.77 L571.26,518.78 L571.59,518.79 L571.92,518.80 L572.25,518.81 L572.58,518.82 L572.91,518.83 L573.24,518.84 L573.57,518.85 L573.90,518.86 L574.23,518.86 L574.56,518.87 L574.89,518.88 L575.22,518.88 L575.55,518.88 L575.88,518.89 L576.21,518.89 L576.54,518.89 L576.87,518.89 L577.20,518.89 L577.53,518.90 L577.86,518.89 L578.19,518.89 L578.52,518.89 L578.86,518.89 L579.19,518.89 L579.52,518.88 L579.85,518.88 L580.18,518.87 L580.51,518.87 L580.84,518.86 L581.17,518.86 L581.50,518.85 L581.83,518.85 L582.16,518.84 L582.49,518.83 L582.82,518.83 L583.15,518.82 L583.48,518.81 L583.81,518.80 L584.14,518.79 L584.47,518.79 L584.80,518.78 L585.13,518.77 L585.46,518.76 L585.79,518.75 L586.12,518.75 L586.45,518.74 L586.78,518.73 L587.11,518.72 L587.44,518.72 L587.77,518.71 L588.10,518.70 L588.43,518.70 L588.77,518.69 L589.10,518.69 L589.43,518.68 L589.76,518.68 L590.09,518.67 L590.42,518.67 L590.75,518.66 L591.08,518.66 L591.41,518.66 L591.74,518.65 L592.07,518.65 L592.40,518.65 L592.73,518.65 L593.06,518.65 L593.39,518.65 L593.72,518.65 L594.05,518.65 L594.38,518.65 L594.71,518.65 L595.04,518.65 L595.37,518.65 L595.70,518.65 L596.03,518.66 L596.36,518.66 L596.69,518.66 L597.02,518.67 L597.35,518.67 L597.68,518.67 L598.01,518.68 L598.34,518.68 L598.67,518.69 L599.01,518.69 L599.34,518.69 L599.67,518.70 L600.00,518.70 L600.33,518.71 L600.66,518.71 L600.99,518.72 L601.32,518.72 L601.65,518.73 L601.98,518.73 L602.31,518.74 L602.64,518.74 L602.97,518.75 L603.30,518.75 L603.63,518.76 L603.96,518.76 L604.29,518.77 L604.62,518.77 L604.95,518.78 L605.28,518.78 L605.61,518.78 L605.94,518.79 L606.27,518.79 L606.60,518.79 L606.93,518.80 L607.26,518.80 L607.59,518.80 L607.92,518.81 L608.25,518.81 L608.59,518.81 L608.92,518.81 L609.25,518.81 L609.58,518.82 L609.91,518.82 L610.24,518.82 L610.57,518.82 L610.90,518.82 L611.23,518.82 L611.56,518.82 L611.89,518.82 L612.22,518.82 L612.55,518.82 L612.88,518.82 L613.21,518.82 L613.54,518.82 L613.87,518.82 L614.20,518.82 L614.53,518.82 L614.86,518.82 L615.19,518.82 L615.52,518.81 L615.85,518.81 L616.18,518.81 L616.51,518.81 L616.84,518.81 L617.17,518.81 L617.50,518.81 L617.83,518.80 L618.16,518.80 L618.50,518.80 L618.83,518.80 L619.16,518.80 L619.49,518.80 L619.82,518.79 L620.15,518.79 L620.48,518.79 L620.81,518.79 L621.14,518.79 L621.47,518.79 L621.80,518.78 L622.13,518.78 L622.46,518.78 L622.79,518.78 L623.12,518.78 L623.45,518.78 L623.78,518.78 L624.11,518.78 L624.44,518.78 L624.77,518.77 L625.10,518.77 L625.43,518.77 L625.76,518.77 L626.09,518.77 L626.42,518.77 L626.75,518.77 L627.08,518.77 L627.41,518.77 L627.74,518.77 L628.07,518.77 L628.40,518.77 L628.74,518.77 L629.07,518.77 L629.40,518.77 L629.73,518.77 L630.06,518.77 L630.39,518.77 L630.72,518.77 L631.05,518.77 L631.38,518.77 L631.71,518.77 L632.04,518.77 L632.37,518.77 L632.70,518.77 L633.03,518.77 L633.36,518.77 L633.69,518.77 L634.02,518.77 L634.35,518.77 L634.68,518.77 L635.01,518.77 L635.34,518.77 L635.67,518.78 L636.00,518.78 L636.33,518.78 L636.66,518.78 L636.99,518.78 L637.32,518.78 L637.65,518.78 L637.98,518.78 L638.32,518.78 L638.65,518.78 L638.98,518.78 L639.31,518.78 L639.64,518.78 L639.97,518.78 L640.30,518.78 L640.63,518.78 L640.96,518.78 L641.29,518.78 L641.62,518.78 L641.95,518.78 L642.28,518.78 L642.61,518.78 L642.94,518.78 L643.27,518.78 L643.60,518.78 L643.93,518.78 L644.26,518.78 L644.59,518.78 L644.92,518.78 L645.25,518.78 L645.58,518.78 L645.91,518.78 L646.24,518.78 L646.57,518.78 L646.90,518.78 L647.23,518.78 L647.56,518.78 L647.89,518.78 L648.23,518.78 L648.56,518.78 L648.89,518.78 L649.22,518.78 L649.55,518.78 L649.88,518.78 L650.21,518.78 L650.54,518.78 L650.87,518.78 L651.20,518.78 L651.53,518.78 L651.86,518.78 L652.19,518.78 L652.52,518.78 L652.85,518.78 L653.18,518.78 L653.51,518.78 L653.84,518.78 L654.17,518.78 L654.50,518.78 L654.83,518.78 L655.16,518.78 L655.49,518.78 L655.82,518.78 L656.15,518.78 L656.48,518.78 L656.81,518.78 L657.14,518.78 L657.47,518.78 L657.80,518.78 L658.13,518.78 L658.47,518.78 L658.80,518.78 L659.13,518.78 L659.46,518.78 L659.79,518.78 L660.12,518.78 L660.45,518.78 L660.78,518.78 L661.11,518.78 L661.44,518.78 L661.77,518.78 L662.10,518.78 L662.43,518.78 L662.76,518.78 L663.09,518.78 L663.42,518.78 L663.75,518.78 L664.08,518.78 L664.41,518.78 L664.74,518.78 L665.07,518.78 L665.40,518.78 L665.73,518.78 L666.06,518.78 L666.39,518.78 L666.72,518.78 L667.05,518.78 L667.38,518.78 L667.71,518.78 L668.05,518.78 L668.38,518.78 L668.71,518.78 L669.04,518.78 L669.37,518.78 L669.70,518.78 L670.03,518.78 L670.36,518.78 L670.69,518.78 L671.02,518.78 L671.35,518.78 L671.68,518.78 L672.01,518.78 L672.34,518.78 L672.67,518.78 L673.00,518.78" stroke="#000"/>
<path d="M78.40,518.90 L78.73,518.90 L79.06,518.90 L79.39,518.90 L79.72,518.90 L80.05,518.90 L80.38,518.90 L80.71,518.90 L81.04,518.90 L81.37,518.90 L81.70,518.90 L82.03,518.90 L82.36,518.90 L82.69,518.90 L83.02,518.90 L83.35,518.90 L83.69,518.90 L84.02,518.90 L84.35,518.90 L84.68,518.90 L85.01,518.90 L85.34,518.90 L85.67,518.90 L86.00,518.90 L86.33,518.90 L86.66,518.90 L86.99,518.90 L87.32,518.90 L87.65,518.90 L87.98,518.90 L88.31,518.90 L88.64,518.90 L88.97,518.90 L89.30,518.90 L89.63,518.90 L89.96,518.90 L90.29,518.90 L90.62,518.90 L90.95,518.90 L91.28,518.90 L91.61,518.90 L91.94,518.90 L92.27,518.90 L92.60,518.90 L92.93,518.90 L93.27,518.90 L93.60,518.90 L93.93,518.90 L94.26,518.90 L94.59,518.90 L94.92,518.90 L95.25,518.90 L95.58,518.90 L95.91,518.90 L96.24,518.90 L96.57,518.90 L96.90,518.90 L97.23,518.90 L97.56,518.90 L97.89,518.90 L98.22,518.90 L98.55,518.90 L98.88,518.90 L99.21,518.90 L99.54,518.90 L99.87,518.90 L100.20,518.90 L100.53,518.90 L100.86,518.90 L101.19,518.90 L101.52,518.90 L101.85,518.90 L102.18,518.90 L102.51,518.90 L102.84,518.90 L103.18,518.90 L103.51,518.90 L103.84,518.90 L104.17,518.90 L104.50,518.90 L104.83,518.90 L105.16,518.90 L105.49,518.90 L105.82,518.90 L106.15,518.90 L106.48,518.90 L106.81,518.90 L107.14,518.90 L107.47,518.90 L107.80,518.90 L108.13,518.90 L108.46,518.90 L108.79,518.90 L109.12,518.90 L109.45,518.90 L109.78,518.90 L110.11,518.90 L110.44,518.90 L110.77,518.90 L111.10,518.90 L111.43,518.90 L111.76,518.90 L112.09,518.90 L112.42,518.90 L112.75,518.90 L113.08,518.90 L113.42,518.90 L113.75,518.90 L114.08,518.90 L114.41,518.90 L114.74,518.90 L115.07,518.90 L115.40,518.90 L115.73,518.90 L116.06,518.90 L116.39,518.90 L116.72,518.90 L117.05,518.90 L117.38,518.90 L117.71,518.90 L118.04,518.90 L118.37,518.90 L118.70,518.90 L119.03,518.90 L119.36,518.90 L119.69,518.90 L120.02,518.90 L120.35,518.90 L120.68,518.90 L121.01,518.90 L121.34,518.90 L121.67,518.90 L122.00,518.90 L122.33,518.90 L122.66,518.90 L123.00,518.90 L123.33,518.90 L123.66,518.90 L123.99,518.90 L124.32,518.90 L124.65,518.90 L124.98,518.90 L125.31,518.90 L125.64,518.90 L125.97,518.90 L126.30,518.90 L126.63,518.90 L126.96,518.90 L127.29,518.90 L127.62,518.90 L127.95,518.90 L128.28,518.90 L128.61,518.90 L128.94,518.90 L129.27,518.90 L129.60,518.90 L129.93,518.90 L130.26,518.90 L130.59,518.90 L130.92,518.90 L131.25,518.90 L131.58,518.90 L131.91,518.90 L132.24,518.90 L132.57,518.90 L132.91,518.90 L133.24,518.90 L133.57,518.90 L133.90,518.90 L134.23,518.90 L134.56,518.90 L134.89,518.90 L135.22,518.90 L135.55,518.90 L135.88,518.90 L136.21,518.90 L136.54,518.90 L136.87,518.90 L137.20,518.90 L137.53,518.90 L137.86,518.90 L138.19,518.90 L138.52,518.90 L138.85,518.90 L139.18,518.90 L139.51,518.90 L139.84,518.90 L140.17,518.90 L140.50,518.90 L140.83,518.89 L141.16,518.89 L141.49,518.89 L141.82,518.89 L142.15,518.89 L142.48,518.89 L142.81,518.89 L143.15,518.89 L143.48,518.89 L143.81,518.89 L144.14,518.89 L144.47,518.89 L144.80,518.89 L145.13,518.89 L145.46,518.89 L145.79,518.89 L146.12,518.89 L146.45,518.89 L146.78,518.89 L147.11,518.89 L147.44,518.89 L147.77,518.89 L148.10,518.89 L148.43,518.89 L148.76,518.89 L149.09,518.89 L149.42,518.89 L149.75,518.89 L150.08,518.89 L150.41,518.89 L150.74,518.89 L151.07,518.88 L151.40,518.88 L151.73,518.88 L152.06,518.88 L152.39,518.88 L152.73,518.88 L153.06,518.88 L153.39,518.88 L153.72,518.88 L154.05,518.88 L154.38,518.88 L154.71,518.88 L155.04,518.88 L155.37,518.88 L155.70,518.88 L156.03,518.88 L156.36,518.88 L156.69,518.87 L157.02,518.87 L157.35,518.87 L157.68,518.87 L158.01,518.87 L158.34,518.87 L158.67,518.87 L159.00,518.87 L159.33,518.87 L159.66,518.87 L159.99,518.87 L160.32,518.87 L160.65,518.87 L160.98,518.86 L161.31,518.86 L161.64,518.86 L161.97,518.86 L162.30,518.86 L162.64,518.86 L162.97,518.86 L163.30,518.86 L163.63,518.86 L163.96,518.86 L164.29,518.86 L164.62,518.85 L164.95,518.85 L165.28,518.85 L165.61,518.85 L165.94,518.85 L166.27,518.85 L166.60,518.85 L166.93,518.85 L167.26,518.85 L167.59,518.85 L167.92,518.84 L168.25,518.84 L168.58,518.84 L168.91,518.84 L169.24,518.84 L169.57,518.84 L169.90,518.84 L170.23,518.84 L170.56,518.84 L170.89,518.83 L171.22,518.83 L171.55,518.83 L171.88,518.83 L172.21,518.83 L172.55,518.83 L172.88,518.83 L173.21,518.83 L173.54,518.83 L173.87,518.83 L174.20,518.82 L174.53,518.82 L174.86,518.82 L175.19,518.82 L175.52,518.82 L175.85,518.82 L176.18,518.82 L176.51,518.82 L176.84,518.82 L177.17,518.82 L177.50,518.81 L177.83,518.81 L178.16,518.81 L178.49,518.81 L178.82,518.81 L179.15,518.81 L179.48,518.81 L179.81,518.81 L180.14,518.81 L180.47,518.81 L180.80,518.81 L181.13,518.81 L181.46,518.80 L181.79,518.80 L182.12,518.80 L182.45,518.80 L182.79,518.80 L183.12,518.80 L183.45,518.80 L183.78,518.80 L184.11,518.80 L184.44,518.80 L184.77,518.80 L185.10,518.80 L185.43,518.80 L185.76,518.80 L186.09,518.80 L186.42,518.80 L186.75,518.80 L187.08,518.80 L187.41,518.80 L187.74,518.80 L188.07,518.80 L188.40,518.80 L188.73,518.80 L189.06,518.80 L189.39,518.80 L189.72,518.80 L190.05,518.80 L190.38,518.80 L190.71,518.80 L191.04,518.80 L191.37,518.80 L191.70,518.80 L192.03,518.80 L192.37,518.80 L192.70,518.80 L193.03,518.80 L193.36,518.80 L193.69,518.80 L194.02,518.80 L194.35,518.80 L194.68,518.80 L195.01,518.80 L195.34,518.80 L195.67,518.80 L196.00,518.80 L196.33,518.81 L196.66,518.81 L196.99,518.81 L197.32,518.81 L197.65,518.81 L197.98,518.81 L198.31,518.81 L198.64,518.81 L198.97,518.81 L199.30,518.81 L199.63,518.81 L199.96,518.81 L200.29,518.82 L200.62,518.82 L200.95,518.82 L201.28,518.82 L201.61,518.82 L201.94,518.82 L202.28,518.82 L202.61,518.82 L202.94,518.82 L203.27,518.82 L203.60,518.83 L203.93,518.83 L204.26,518.83 L204.59,518.83 L204.92,518.83 L205.25,518.83 L205.58,518.83 L205.91,518.83 L206.24,518.83 L206.57,518.83 L206.90,518.84 L207.23,518.84 L207.56,518.84 L207.89,518.84 L208.22,518.84 L208.55,518.84 L208.88,518.84 L209.21,518.84 L209.54,518.84 L209.87,518.84 L210.20,518.85 L210.53,518.85 L210.86,518.85 L211.19,518.85 L211.52,518.85 L211.85,518.85 L212.19,518.85 L212.52,518.85 L212.85,518.85 L213.18,518.85 L213.51,518.86 L213.84,518.86 L214.17,518.86 L214.50,518.86 L214.83,518.86 L215.16,518.86 L215.49,518.86 L215.82,518.86 L216.15,518.86 L216.48,518.86 L216.81,518.87 L217.14,518.87 L217.47,518.87 L217.80,518.87 L218.13,518.87 L218.46,518.87 L218.79,518.87 L219.12,518.87 L219.45,518.87 L219.78,518.87 L220.11,518.87 L220.44,518.87 L220.77,518.87 L221.10,518.87 L221.43,518.87 L221.76,518.87 L222.10,518.87 L222.43,518.87 L222.76,518.87 L223.09,518.87 L223.42,518.87 L223.75,518.87 L224.08,518.87 L224.41,518.87 L224.74,518.87 L225.07,518.87 L225.40,518.87 L225.73,518.87 L226.06,518.87 L226.39,518.87 L226.72,518.87 L227.05,518.87 L227.38,518.87 L227.71,518.87 L228.04,518.87 L228.37,518.87 L228.70,518.87 L229.03,518.87 L229.36,518.87 L229.69,518.87 L230.02,518.87 L230.35,518.87 L230.68,518.87 L231.01,518.87 L231.34,518.87 L231.67,518.87 L232.01,518.87 L232.34,518.87 L232.67,518.87 L233.00,518.88 L233.33,518.88 L233.66,518.88 L233.99,518.88 L234.32,518.88 L234.65,518.88 L234.98,518.89 L235.31,518.89 L235.64,518.89 L235.97,518.89 L236.30,518.89 L236.63,518.89 L236.96,518.90 L237.29,518.90 L237.62,518.90 L237.95,518.90 L238.28,518.90 L238.61,518.90 L238.94,518.90 L239.27,518.90 L239.60,518.89 L239.93,518.89 L240.26,518.89 L240.59,518.89 L240.92,518.89 L241.25,518.88 L241.58,518.88 L241.92,518.88 L242.25,518.87 L242.58,518.87 L242.91,518.87 L243.24,518.86 L243.57,518.86 L243.90,518.86 L244.23,518.85 L244.56,518.85 L244.89,518.85 L245.22,518.85 L245.55,518.85 L245.88,518.84 L246.21,518.84 L246.54,518.84 L246.87,518.83 L247.20,518.83 L247.53,518.83 L247.86,518.82 L248.19,518.81 L248.52,518.81 L248.85,518.80 L249.18,518.79 L249.51,518.78 L249.84,518.76 L250.17,518.75 L250.50,518.73 L250.83,518.71 L251.16,518.70 L251.49,518.67 L251.83,518.65 L252.16,518.63 L252.49,518.61 L252.82,518.58 L253.15,518.56 L253.48,518.54 L253.81,518.52 L254.14,518.49 L254.47,518.48 L254.80,518.46 L255.13,518.44 L255.46,518.43 L255.79,518.42 L256.12,518.41 L256.45,518.41 L256.78,518.40 L257.11,518.40 L257.44,518.40 L257.77,518.41 L258.10,518.41 L258.43,518.42 L258.76,518.42 L259.09,518.42 L259.42,518.43 L259.75,518.43 L260.08,518.42 L260.41,518.41 L260.74,518.40 L261.07,518.38 L261.40,518.36 L261.74,518.33 L262.07,518.30 L262.40,518.25 L262.73,518.21 L263.06,518.15 L263.39,518.09 L263.72,518.03 L264.05,517.96 L264.38,517.89 L264.71,517.82 L265.04,517.74 L265.37,517.67 L265.70,517.60 L266.03,517.53 L266.36,517.47 L266.69,517.41 L267.02,517.35 L267.35,517.30 L267.68,517.26 L268.01,517.23 L268.34,517.20 L268.67,517.18 L269.00,517.16 L269.33,517.15 L269.66,517.14 L269.99,517.14 L270.32,517.13 L270.65,517.13 L270.98,517.12 L271.31,517.12 L271.64,517.10 L271.98,517.08 L272.31,517.06 L272.64,517.02 L272.97,516.98 L273.30,516.92 L273.63,516.85 L273.96,516.77 L274.29,516.68 L274.62,516.58 L274.95,516.46 L275.28,516.34 L275.61,516.20 L275.94,516.06 L276.27,515.91 L276.60,515.76 L276.93,515.60 L277.26,515.45 L277.59,515.29 L277.92,515.14 L278.25,514.99 L278.58,514.86 L278.91,514.73 L279.24,514.61 L279.57,514.50 L279.90,514.41 L280.23,514.33 L280.56,514.27 L280.89,514.22 L281.22,514.18 L281.56,514.15 L281.89,514.14 L282.22,514.13 L282.55,514.13 L282.88,514.14 L283.21,514.14 L283.54,514.14 L283.87,514.14 L284.20,514.13 L284.53,514.11 L284.86,514.07 L285.19,514.02 L285.52,513.95 L285.85,513.86 L286.18,513.76 L286.51,513.63 L286.84,513.48 L287.17,513.31 L287.50,513.12 L287.83,512.91 L288.16,512.70 L288.49,512.47 L288.82,512.23 L289.15,511.99 L289.48,511.75 L289.81,511.52 L290.14,511.29 L290.47,511.07 L290.80,510.86 L291.13,510.68 L291.47,510.51 L291.80,510.36 L292.13,510.23 L292.46,510.13 L292.79,510.04 L293.12,509.98 L293.45,509.93 L293.78,509.90 L294.11,509.88 L294.44,509.87 L294.77,509.86 L295.10,509.86 L295.43,509.86 L295.76,509.85 L296.09,509.83 L296.42,509.80 L296.75,509.76 L297.08,509.69 L297.41,509.61 L297.74,509.50 L298.07,509.37 L298.40,509.21 L298.73,509.03 L299.06,508.82 L299.39,508.59 L299.72,508.34 L300.05,508.06 L300.38,507.78 L300.71,507.48 L301.04,507.16 L301.38,506.85 L301.71,506.53 L302.04,506.21 L302.37,505.90 L302.70,505.61 L303.03,505.32 L303.36,505.05 L303.69,504.81 L304.02,504.58 L304.35,504.38 L304.68,504.21 L305.01,504.06 L305.34,503.94 L305.67,503.85 L306.00,503.78 L306.33,503.73 L306.66,503.70 L306.99,503.68 L307.32,503.68 L307.65,503.68 L307.98,503.68 L308.31,503.68 L308.64,503.67 L308.97,503.65 L309.30,503.60 L309.63,503.54 L309.96,503.44 L310.29,503.32 L310.62,503.17 L310.95,502.98 L311.29,502.76 L311.62,502.51 L311.95,502.22 L312.28,501.91 L312.61,501.57 L312.94,501.22 L313.27,500.85 L313.60,500.46 L313.93,500.08 L314.26,499.70 L314.59,499.32 L314.92,498.96 L315.25,498.62 L315.58,498.30 L315.91,498.01 L316.24,497.75 L316.57,497.52 L316.90,497.33 L317.23,497.17 L317.56,497.04 L317.89,496.94 L318.22,496.87 L318.55,496.83 L318.88,496.80 L319.21,496.79 L319.54,496.78 L319.87,496.78 L320.20,496.78 L320.53,496.77 L320.86,496.75 L321.20,496.70 L321.53,496.64 L321.86,496.54 L322.19,496.42 L322.52,496.26 L322.85,496.07 L323.18,495.84 L323.51,495.58 L323.84,495.28 L324.17,494.95 L324.50,494.59 L324.83,494.21 L325.16,493.80 L325.49,493.38 L325.82,492.94 L326.15,492.50 L326.48,492.06 L326.81,491.62 L327.14,491.19 L327.47,490.78 L327.80,490.39 L328.13,490.02 L328.46,489.68 L328.79,489.38 L329.12,489.10 L329.45,488.87 L329.78,488.67 L330.11,488.50 L330.44,488.38 L330.77,488.28 L331.11,488.21 L331.44,488.17 L331.77,488.15 L332.10,488.14 L332.43,488.14 L332.76,488.14 L333.09,488.14 L333.42,488.12 L333.75,488.09 L334.08,488.04 L334.41,487.95 L334.74,487.83 L335.07,487.67 L335.40,487.47 L335.73,487.23 L336.06,486.95 L336.39,486.62 L336.72,486.26 L337.05,485.86 L337.38,485.43 L337.71,484.97 L338.04,484.50 L338.37,484.01 L338.70,483.53 L339.03,483.04 L339.36,482.56 L339.69,482.10 L340.02,481.67 L340.35,481.27 L340.68,480.90 L341.01,480.57 L341.35,480.28 L341.68,480.04 L342.01,479.83 L342.34,479.67 L342.67,479.55 L343.00,479.46 L343.33,479.40 L343.66,479.37 L343.99,479.35 L344.32,479.35 L344.65,479.35 L344.98,479.35 L345.31,479.34 L345.64,479.31 L345.97,479.26 L346.30,479.18 L346.63,479.06 L346.96,478.92 L347.29,478.73 L347.62,478.50 L347.95,478.23 L348.28,477.91 L348.61,477.56 L348.94,477.17 L349.27,476.74 L349.60,476.29 L349.93,475.80 L350.26,475.30 L350.59,474.78 L350.93,474.26 L351.26,473.74 L351.59,473.22 L351.92,472.71 L352.25,472.22 L352.58,471.76 L352.91,471.33 L353.24,470.93 L353.57,470.56 L353.90,470.24 L354.23,469.96 L354.56,469.73 L354.89,469.53 L355.22,469.38 L355.55,469.27 L355.88,469.18 L356.21,469.13 L356.54,469.10 L356.87,469.09 L357.20,469.09 L357.53,469.09 L357.86,469.09 L358.19,469.08 L358.52,469.04 L358.85,468.98 L359.18,468.88 L359.51,468.75 L359.84,468.58 L360.17,468.36 L360.50,468.09 L360.84,467.77 L361.17,467.41 L361.50,467.01 L361.83,466.56 L362.16,466.08 L362.49,465.58 L362.82,465.05 L363.15,464.50 L363.48,463.96 L363.81,463.41 L364.14,462.88 L364.47,462.37 L364.80,461.88 L365.13,461.43 L365.46,461.02 L365.79,460.65 L366.12,460.33 L366.45,460.05 L366.78,459.82 L367.11,459.64 L367.44,459.50 L367.77,459.40 L368.10,459.33 L368.43,459.29 L368.76,459.28 L369.09,459.27 L369.42,459.27 L369.75,459.27 L370.08,459.26 L370.41,459.23 L370.75,459.18 L371.08,459.09 L371.41,458.98 L371.74,458.82 L372.07,458.63 L372.40,458.38 L372.73,458.10 L373.06,457.77 L373.39,457.39 L373.72,456.98 L374.05,456.53 L374.38,456.04 L374.71,455.53 L375.04,455.00 L375.37,454.45 L375.70,453.90 L376.03,453.34 L376.36,452.79 L376.69,452.26 L377.02,451.74 L377.35,451.25 L377.68,450.79 L378.01,450.37 L378.34,449.98 L378.67,449.64 L379.00,449.34 L379.33,449.09 L379.66,448.89 L379.99,448.72 L380.32,448.60 L380.66,448.51 L380.99,448.45 L381.32,448.42 L381.65,448.40 L381.98,448.40 L382.31,448.40 L382.64,448.40 L382.97,448.39 L383.30,448.35 L383.63,448.29 L383.96,448.20 L384.29,448.07 L384.62,447.90 L384.95,447.68 L385.28,447.41 L385.61,447.10 L385.94,446.74 L386.27,446.33 L386.60,445.88 L386.93,445.40 L387.26,444.89 L387.59,444.36 L387.92,443.82 L388.25,443.27 L388.58,442.72 L388.91,442.18 L389.24,441.66 L389.57,441.17 L389.90,440.72 L390.23,440.30 L390.57,439.92 L390.90,439.60 L391.23,439.31 L391.56,439.08 L391.89,438.89 L392.22,438.75 L392.55,438.64 L392.88,438.57 L393.21,438.53 L393.54,438.51 L393.87,438.51 L394.20,438.51 L394.53,438.50 L394.86,438.50 L395.19,438.47 L395.52,438.42 L395.85,438.35 L396.18,438.24 L396.51,438.09 L396.84,437.90 L397.17,437.67 L397.50,437.40 L397.83,437.09 L398.16,436.73 L398.49,436.33 L398.82,435.90 L399.15,435.44 L399.48,434.95 L399.81,434.44 L400.14,433.91 L400.48,433.38 L400.81,432.85 L401.14,432.32 L401.47,431.81 L401.80,431.31 L402.13,430.84 L402.46,430.40 L402.79,429.99 L403.12,429.63 L403.45,429.30 L403.78,429.01 L404.11,428.77 L404.44,428.57 L404.77,428.41 L405.10,428.28 L405.43,428.20 L405.76,428.14 L406.09,428.11 L406.42,428.09 L406.75,428.09 L407.08,428.09 L407.41,428.09 L407.74,428.08 L408.07,428.05 L408.40,428.00 L408.73,427.91 L409.06,427.80 L409.39,427.64 L409.72,427.45 L410.05,427.21 L410.38,426.92 L410.72,426.60 L411.05,426.23 L411.38,425.83 L411.71,425.39 L412.04,424.93 L412.37,424.45 L412.70,423.95 L413.03,423.45 L413.36,422.95 L413.69,422.46 L414.02,421.99 L414.35,421.54 L414.68,421.12 L415.01,420.74 L415.34,420.40 L415.67,420.10 L416.00,419.84 L416.33,419.62 L416.66,419.45 L416.99,419.31 L417.32,419.22 L417.65,419.15 L417.98,419.11 L418.31,419.09 L418.64,419.08 L418.97,419.08 L419.30,419.08 L419.63,419.08 L419.96,419.06 L420.29,419.02 L420.63,418.96 L420.96,418.86 L421.29,418.74 L421.62,418.58 L421.95,418.38 L422.28,418.15 L422.61,417.88 L422.94,417.57 L423.27,417.23 L423.60,416.86 L423.93,416.46 L424.26,416.04 L424.59,415.60 L424.92,415.15 L425.25,414.69 L425.58,414.24 L425.91,413.78 L426.24,413.34 L426.57,412.92 L426.90,412.51 L427.23,412.13 L427.56,411.78 L427.89,411.47 L428.22,411.19 L428.55,410.94 L428.88,410.73 L429.21,410.56 L429.54,410.42 L429.87,410.31 L430.21,410.23 L430.54,410.18 L430.87,410.15 L431.20,410.14 L431.53,410.13 L431.86,410.13 L432.19,410.13 L432.52,410.12 L432.85,410.10 L433.18,410.06 L433.51,410.00 L433.84,409.91 L434.17,409.78 L434.50,409.63 L434.83,409.44 L435.16,409.21 L435.49,408.95 L435.82,408.65 L436.15,408.33 L436.48,407.98 L436.81,407.61 L437.14,407.22 L437.47,406.82 L437.80,406.42 L438.13,406.02 L438.46,405.63 L438.79,405.25 L439.12,404.89 L439.45,404.55 L439.78,404.24 L440.12,403.97 L440.45,403.72 L440.78,403.51 L441.11,403.34 L441.44,403.20 L441.77,403.09 L442.10,403.01 L442.43,402.96 L442.76,402.92 L443.09,402.91 L443.42,402.90 L443.75,402.90 L444.08,402.90 L444.41,402.90 L444.74,402.89 L445.07,402.86 L445.40,402.81 L445.73,402.75 L446.06,402.66 L446.39,402.54 L446.72,402.39 L447.05,402.22 L447.38,402.02 L447.71,401.79 L448.04,401.54 L448.37,401.26 L448.70,400.96 L449.03,400.65 L449.36,400.33 L449.69,399.99 L450.02,399.66 L450.36,399.32 L450.69,398.98 L451.02,398.66 L451.35,398.35 L451.68,398.05 L452.01,397.77 L452.34,397.52 L452.67,397.29 L453.00,397.08 L453.33,396.90 L453.66,396.75 L453.99,396.62 L454.32,396.52 L454.65,396.44 L454.98,396.38 L455.31,396.34 L455.64,396.32 L455.97,396.31 L456.30,396.30 L456.63,396.30 L456.96,396.30 L457.29,396.29 L457.62,396.28 L457.95,396.25 L458.28,396.21 L458.61,396.15 L458.94,396.07 L459.27,395.96 L459.60,395.83 L459.94,395.68 L460.27,395.51 L460.60,395.32 L460.93,395.11 L461.26,394.88 L461.59,394.63 L461.92,394.38 L462.25,394.12 L462.58,393.86 L462.91,393.60 L463.24,393.34 L463.57,393.10 L463.90,392.87 L464.23,392.65 L464.56,392.46 L464.89,392.28 L465.22,392.13 L465.55,391.99 L465.88,391.88 L466.21,391.80 L466.54,391.73 L466.87,391.68 L467.20,391.65 L467.53,391.63 L467.86,391.62 L468.19,391.61 L468.52,391.62 L468.85,391.62 L469.18,391.62 L469.51,391.62 L469.85,391.60 L470.18,391.58 L470.51,391.55 L470.84,391.50 L471.17,391.43 L471.50,391.36 L471.83,391.26 L472.16,391.15 L472.49,391.03 L472.82,390.89 L473.15,390.75 L473.48,390.59 L473.81,390.42 L474.14,390.25 L474.47,390.08 L474.80,389.90 L475.13,389.72 L475.46,389.55 L475.79,389.38 L476.12,389.23 L476.45,389.07 L476.78,388.93 L477.11,388.81 L477.44,388.69 L477.77,388.59 L478.10,388.50 L478.43,388.42 L478.76,388.36 L479.09,388.31 L479.42,388.27 L479.75,388.24 L480.09,388.22 L480.42,388.20 L480.75,388.19 L481.08,388.19 L481.41,388.18 L481.74,388.18 L482.07,388.17 L482.40,388.16 L482.73,388.15 L483.06,388.13 L483.39,388.11 L483.72,388.07 L484.05,388.03 L484.38,387.98 L484.71,387.92 L485.04,387.86 L485.37,387.79 L485.70,387.71 L486.03,387.63 L486.36,387.54 L486.69,387.46 L487.02,387.37 L487.35,387.28 L487.68,387.19 L488.01,387.10 L488.34,387.02 L488.67,386.95 L489.00,386.88 L489.33,386.82 L489.66,386.76 L490.00,386.71 L490.33,386.67 L490.66,386.64 L490.99,386.61 L491.32,386.59 L491.65,386.58 L491.98,386.57 L492.31,386.56 L492.64,386.56 L492.97,386.57 L493.30,386.57 L493.63,386.57 L493.96,386.58 L494.29,386.58 L494.62,386.59 L494.95,386.59 L495.28,386.59 L495.61,386.58 L495.94,386.57 L496.27,386.56 L496.60,386.55 L496.93,386.53 L497.26,386.51 L497.59,386.49 L497.92,386.47 L498.25,386.44 L498.58,386.41 L498.91,386.38 L499.24,386.35 L499.58,386.32 L499.91,386.29 L500.24,386.26 L500.57,386.23 L500.90,386.20 L501.23,386.17 L501.56,386.15 L501.89,386.12 L502.22,386.10 L502.55,386.08 L502.88,386.06 L503.21,386.04 L503.54,386.03 L503.87,386.02 L504.20,386.01 L504.53,386.00 L504.86,385.99 L505.19,385.98 L505.52,385.98 L505.85,385.97 L506.18,385.97 L506.51,385.96 L506.84,385.96 L507.17,385.95 L507.50,385.95 L507.83,385.94 L508.16,385.94 L508.49,385.93 L508.82,385.93 L509.15,385.92 L509.49,385.91 L509.82,385.91 L510.15,385.90 L510.48,385.89 L510.81,385.88 L511.14,385.87 L511.47,385.86 L511.80,385.86 L512.13,385.85 L512.46,385.84 L512.79,385.83 L513.12,385.82 L513.45,385.81 L513.78,385.81 L514.11,385.80 L514.44,385.80 L514.77,385.79 L515.10,385.79 L515.43,385.78 L515.76,385.78 L516.09,385.78 L516.42,385.78 L516.75,385.78 L517.08,385.78 L517.41,385.78 L517.74,385.79 L518.07,385.79 L518.40,385.79 L518.73,385.80 L519.06,385.80 L519.40,385.81 L519.73,385.82 L520.06,385.82 L520.39,385.83 L520.72,385.84 L521.05,385.84 L521.38,385.85 L521.71,385.86 L522.04,385.86 L522.37,385.87 L522.70,385.88 L523.03,385.88 L523.36,385.89 L523.69,385.89 L524.02,385.90 L524.35,385.91 L524.68,385.91 L525.01,385.92 L525.34,385.92 L525.67,385.93 L526.00,385.93 L526.33,385.93 L526.66,385.94 L526.99,385.94 L527.32,385.94 L527.65,385.95 L527.98,385.95 L528.31,385.95 L528.64,385.95 L528.97,385.95 L529.31,385.96 L529.64,385.96 L529.97,385.96 L530.30,385.96 L530.63,385.95 L530.96,385.95 L531.29,385.95 L531.62,385.95 L531.95,385.94 L532.28,385.94 L532.61,385.94 L532.94,385.93 L533.27,385.93 L533.60,385.92 L533.93,385.91 L534.26,385.91 L534.59,385.90 L534.92,385.89 L535.25,385.88 L535.58,385.88 L535.91,385.87 L536.24,385.86 L536.57,385.85 L536.90,385.84 L537.23,385.83 L537.56,385.82 L537.89,385.81 L538.22,385.80 L538.55,385.80 L538.88,385.79 L539.22,385.78 L539.55,385.77 L539.88,385.76 L540.21,385.75 L540.54,385.75 L540.87,385.74 L541.20,385.73 L541.53,385.73 L541.86,385.72 L542.19,385.72 L542.52,385.72 L542.85,385.71 L543.18,385.71 L543.51,385.71 L543.84,385.71 L544.17,385.71 L544.50,385.71 L544.83,385.71 L545.16,385.71 L545.49,385.72 L545.82,385.72 L546.15,385.73 L546.48,385.73 L546.81,385.74 L547.14,385.75 L547.47,385.75 L547.80,385.76 L548.13,385.77 L548.46,385.78 L548.79,385.79 L549.13,385.80 L549.46,385.82 L549.79,385.83 L550.12,385.84 L550.45,385.85 L550.78,385.87 L551.11,385.88 L551.44,385.89 L551.77,385.91 L552.10,385.92 L552.43,385.94 L552.76,385.95 L553.09,385.96 L553.42,385.98 L553.75,385.99 L554.08,386.00 L554.41,386.02 L554.74,386.03 L555.07,386.04 L555.40,386.05 L555.73,386.06 L556.06,386.07 L556.39,386.08 L556.72,386.09 L557.05,386.10 L557.38,386.11 L557.71,386.11 L558.04,386.12 L558.37,386.13 L558.70,386.13 L559.04,386.13 L559.37,386.14 L559.70,386.14 L560.03,386.14 L560.36,386.14 L560.69,386.14 L561.02,386.14 L561.35,386.13 L561.68,386.13 L562.01,386.13 L562.34,386.12 L562.67,386.12 L563.00,386.11 L563.33,386.10 L563.66,386.09 L563.99,386.09 L564.32,386.08 L564.65,386.07 L564.98,386.06 L565.31,386.05 L565.64,386.03 L565.97,386.02 L566.30,386.01 L566.63,386.00 L566.96,385.98 L567.29,385.97 L567.62,385.96 L567.95,385.95 L568.28,385.93 L568.61,385.92 L568.95,385.91 L569.28,385.89 L569.61,385.88 L569.94,385.87 L570.27,385.85 L570.60,385.84 L570.93,385.83 L571.26,385.82 L571.59,385.81 L571.92,385.80 L572.25,385.79 L572.58,385.78 L572.91,385.77 L573.24,385.76 L573.57,385.75 L573.90,385.74 L574.23,385.74 L574.56,385.73 L574.89,385.72 L575.22,385.72 L575.55,385.72 L575.88,385.71 L576.21,385.71 L576.54,385.71 L576.87,385.71 L577.20,385.71 L577.53,385.70 L577.86,385.71 L578.19,385.71 L578.52,385.71 L578.86,385.71 L579.19,385.71 L579.52,385.72 L579.85,385.72 L580.18,385.73 L580.51,385.73 L580.84,385.74 L581.17,385.74 L581.50,385.75 L581.83,385.75 L582.16,385.76 L582.49,385.77 L582.82,385.77 L583.15,385.78 L583.48,385.79 L583.81,385.80 L584.14,385.81 L584.47,385.81 L584.80,385.82 L585.13,385.83 L585.46,385.84 L585.79,385.85 L586.12,385.85 L586.45,385.86 L586.78,385.87 L587.11,385.88 L587.44,385.88 L587.77,385.89 L588.10,385.90 L588.43,385.90 L588.77,385.91 L589.10,385.91 L589.43,385.92 L589.76,385.92 L590.09,385.93 L590.42,385.93 L590.75,385.94 L591.08,385.94 L591.41,385.94 L591.74,385.95 L592.07,385.95 L592.40,385.95 L592.73,385.95 L593.06,385.95 L593.39,385.95 L593.72,385.95 L594.05,385.95 L594.38,385.95 L594.71,385.95 L595.04,385.95 L595.37,385.95 L595.70,385.95 L596.03,385.94 L596.36,385.94 L596.69,385.94 L597.02,385.93 L597.35,385.93 L597.68,385.93 L598.01,385.92 L598.34,385.92 L598.67,385.91 L599.01,385.91 L599.34,385.91 L599.67,385.90 L600.00,385.90 L600.33,385.89 L600.66,385.89 L600.99,385.88 L601.32,385.88 L601.65,385.87 L601.98,385.87 L602.31,385.86 L602.64,385.86 L602.97,385.85 L603.30,385.85 L603.63,385.84 L603.96,385.84 L604.29,385.83 L604.62,385.83 L604.95,385.82 L605.28,385.82 L605.61,385.82 L605.94,385.81 L606.27,385.81 L606.60,385.81 L606.93,385.80 L607.26,385.80 L607.59,385.80 L607.92,385.79 L608.25,385.79 L608.59,385.79 L608.92,385.79 L609.25,385.79 L609.58,385.78 L609.91,385.78 L610.24,385.78 L610.57,385.78 L610.90,385.78 L611.23,385.78 L611.56,385.78 L611.89,385.78 L612.22,385.78 L612.55,385.78 L612.88,385.78 L613.21,385.78 L613.54,385.78 L613.87,385.78 L614.20,385.78 L614.53,385.78 L614.86,385.78 L615.19,385.78 L615.52,385.79 L615.85,385.79 L616.18,385.79 L616.51,385.79 L616.84,385.79 L617.17,385.79 L617.50,385.79 L617.83,385.80 L618.16,385.80 L618.50,385.80 L618.83,385.80 L619.16,385.80 L619.49,385.80 L619.82,385.81 L620.15,385.81 L620.48,385.81 L620.81,385.81 L621.14,385.81 L621.47,385.81 L621.80,385.82 L622.13,385.82 L622.46,385.82 L622.79,385.82 L623.12,385.82 L623.45,385.82 L623.78,385.82 L624.11,385.82 L624.44,385.82 L624.77,385.83 L625.10,385.83 L625.43,385.83 L625.76,385.83 L626.09,385.83 L626.42,385.83 L626.75,385.83 L627.08,385.83 L627.41,385.83 L627.74,385.83 L628.07,385.83 L628.40,385.83 L628.74,385.83 L629.07,385.83 L629.40,385.83 L629.73,385.83 L630.06,385.83 L630.39,385.83 L630.72,385.83 L631.05,385.83 L631.38,385.83 L631.71,385.83 L632.04,385.83 L632.37,385.83 L632.70,385.83 L633.03,385.83 L633.36,385.83 L633.69,385.83 L634.02,385.83 L634.35,385.83 L634.68,385.83 L635.01,385.83 L635.34,385.83 L635.67,385.82 L636.00,385.82 L636.33,385.82 L636.66,385.82 L636.99,385.82 L637.32,385.82 L637.65,385.82 L637.98,385.82 L638.32,385.82 L638.65,385.82 L638.98,385.82 L639.31,385.82 L639.64,385.82 L639.97,385.82 L640.30,385.82 L640.63,385.82 L640.96,385.82 L641.29,385.82 L641.62,385.82 L641.95,385.82 L642.28,385.82 L642.61,385.82 L642.94,385.82 L643.27,385.82 L643.60,385.82 L643.93,385.82 L644.26,385.82 L644.59,385.82 L644.92,385.82 L645.25,385.82 L645.58,385.82 L645.91,385.82 L646.24,385.82 L646.57,385.82 L646.90,385.82 L647.23,385.82 L647.56,385.82 L647.89,385.82 L648.23,385.82 L648.56,385.82 L648.89,385.82 L649.22,385.82 L649.55,385.82 L649.88,385.82 L650.21,385.82 L650.54,385.82 L650.87,385.82 L651.20,385.82 L651.53,385.82 L651.86,385.82 L652.19,385.82 L652.52,385.82 L652.85,385.82 L653.18,385.82 L653.51,385.82 L653.84,385.82 L654.17,385.82 L654.50,385.82 L654.83,385.82 L655.16,385.82 L655.49,385.82 L655.82,385.82 L656.15,385.82 L656.48,385.82 L656.81,385.82 L657.14,385.82 L657.47,385.82 L657.80,385.82 L658.13,385.82 L658.47,385.82 L658.80,385.82 L659.13,385.82 L659.46,385.82 L659.79,385.82 L660.12,385.82 L660.45,385.82 L660.78,385.82 L661.11,385.82 L661.44,385.82 L661.77,385.82 L662.10,385.82 L662.43,385.82 L662.76,385.82 L663.09,385.82 L663.42,385.82 L663.75,385.82 L664.08,385.82 L664.41,385.82 L664.74,385.82 L665.07,385.82 L665.40,385.82 L665.73,385.82 L666.06,385.82 L666.39,385.82 L666.72,385.82 L667.05,385.82 L667.38,385.82 L667.71,385.82 L668.05,385.82 L668.38,385.82 L668.71,385.82 L669.04,385.82 L669.37,385.82 L669.70,385.82 L670.03,385.82 L670.36,385.82 L670.69,385.82 L671.02,385.82 L671.35,385.82 L671.68,385.82 L672.01,385.82 L672.34,385.82 L672.67,385.82 L673.00,385.82" stroke="#f00"/>
</g>
<text x="63.1" y="527.50" text-anchor="end" font-family="Liberation Serif, serif" font-size="25">0.0</text>
<text x="63.1" y="500.86" text-anchor="end" font-family="Liberation Serif, serif" font-size="25">0.2</text>
<text x="63.1" y="474.22" text-anchor="end" font-family="Liberation Serif, serif" font-size="25">0.4</text>
<text x="63.1" y="447.58" text-anchor="end" font-family="Liberation Serif, serif" font-size="25">0.6</text>
<text x="63.1" y="420.94" text-anchor="end" font-family="Liberation Serif, serif" font-size="25">0.8</text>
<text x="63.1" y="394.30" text-anchor="end" font-family="Liberation Serif, serif" font-size="25">1.0</text>
<text x="96.6" y="409.5" font-family="Liberation Serif, serif" font-size="25.6">(c)</text>
<path d="M104.70,433.60 V457.40" stroke="#000" stroke-width="1.1" fill="none"/>
<path d="M107.40,445.10 h13.80 M114.30,438.20 v13.80" stroke="#000" stroke-width="1.35" fill="none"/>
<path d="M121.90,433.60 L128.20,445.50 L121.90,457.40" stroke="#000" stroke-width="1.1" fill="none"/>
<path d="M104.70,465.80 V489.60" stroke="#000" stroke-width="1.1" fill="none"/>
<path d="M107.40,477.30 h13.80" stroke="#000" stroke-width="1.35" fill="none"/>
<path d="M121.90,465.80 L128.20,477.70 L121.90,489.60" stroke="#000" stroke-width="1.1" fill="none"/>
<path d="M144.4,443.9 H213.2" stroke="#000" stroke-width="2.5"/>
<path d="M144.4,476.1 H213.2" stroke="#f00" stroke-width="2.5"/>
<path d="M59.60,543.90 h13.7" stroke="#000" stroke-width="1.35"/>
<text x="74.00" y="552.2" font-family="Liberation Serif, serif" font-size="25">20</text>
<path d="M119.06,543.90 h13.7" stroke="#000" stroke-width="1.35"/>
<text x="133.46" y="552.2" font-family="Liberation Serif, serif" font-size="25">16</text>
<path d="M178.52,543.90 h13.7" stroke="#000" stroke-width="1.35"/>
<text x="192.92" y="552.2" font-family="Liberation Serif, serif" font-size="25">12</text>
<path d="M244.23,543.90 h13.7" stroke="#000" stroke-width="1.35"/>
<text x="258.63" y="552.2" font-family="Liberation Serif, serif" font-size="25">8</text>
<path d="M303.69,543.90 h13.7" stroke="#000" stroke-width="1.35"/>
<text x="318.09" y="552.2" font-family="Liberation Serif, serif" font-size="25">4</text>
<text x="375.70" y="552.2" text-anchor="middle" font-family="Liberation Serif, serif" font-size="25">0</text>
<text x="435.16" y="552.2" text-anchor="middle" font-family="Liberation Serif, serif" font-size="25">4</text>
<text x="494.62" y="552.2" text-anchor="middle" font-family="Liberation Serif, serif" font-size="25">8</text>
<text x="554.08" y="552.2" text-anchor="middle" font-family="Liberation Serif, serif" font-size="25">12</text>
<text x="613.54" y="552.2" text-anchor="middle" font-family="Liberation Serif, serif" font-size="25">16</text>
<text x="673.00" y="552.2" text-anchor="middle" font-family="Liberation Serif, serif" font-size="25">20</text>
<text x="376.2" y="581.8" text-anchor="middle" font-family="Liberation Serif, serif" font-size="25.1">Time (ps)</text>
<text transform="translate(18.3,160.6) rotate(-90)" textLength="95.6" lengthAdjust="spacingAndGlyphs" font-family="Liberation Serif, serif" font-size="25">Amplitude</text>
<text transform="translate(18.3,64.6) rotate(-90)" textLength="64.5" lengthAdjust="spacingAndGlyphs" font-family="Liberation Serif, serif" font-size="25">(meV)</text>
<text transform="translate(18.2,261.3) rotate(-90)" text-anchor="middle" font-family="Liberation Serif, serif" font-size="25">Occupation</text>
<text transform="translate(18.2,452) rotate(-90)" text-anchor="middle" font-family="Liberation Serif, serif" font-size="25">Occupation</text>
</svg>
</body></html>
